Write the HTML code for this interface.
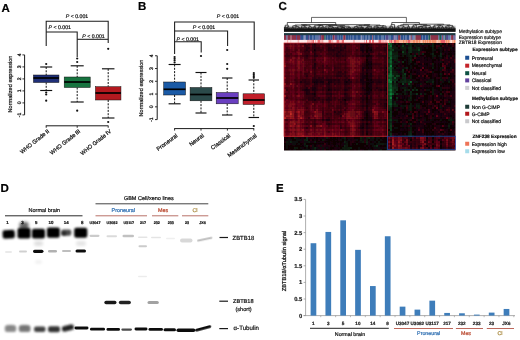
<!DOCTYPE html><html><head><meta charset="utf-8"><title>Figure</title><style>html,body{margin:0;padding:0;background:#fff}svg{display:block;filter:blur(0.3px)}</style></head><body>
<svg width="520" height="340" viewBox="0 0 520 340" font-family="Liberation Sans, Arial, sans-serif" text-rendering="geometricPrecision">
<defs>
<filter id="b1" x="-30%" y="-80%" width="160%" height="260%"><feGaussianBlur stdDeviation="0.9"/></filter>
<filter id="b2" x="-30%" y="-80%" width="160%" height="260%"><feGaussianBlur stdDeviation="0.6"/></filter>
<filter id="b3" x="-30%" y="-80%" width="160%" height="260%"><feGaussianBlur stdDeviation="1.4"/></filter>
<filter id="soft"><feGaussianBlur stdDeviation="0.6"/></filter><filter id="soft2" x="-2%" width="104%" y="-20%" height="140%"><feGaussianBlur stdDeviation="0.55 0.3"/></filter>
</defs>
<rect width="520" height="340" fill="#fff"/>
<text x="1.5" y="11.5" font-size="11.5" text-anchor="start" font-weight="bold" fill="#000" stroke="#000" stroke-width="0.2" >A</text>
<text x="138" y="10" font-size="11.5" text-anchor="start" font-weight="bold" fill="#000" stroke="#000" stroke-width="0.2" >B</text>
<text x="278.5" y="10" font-size="11.5" text-anchor="start" font-weight="bold" fill="#000" stroke="#000" stroke-width="0.2" >C</text>
<text x="0.5" y="192.3" font-size="11.5" text-anchor="start" font-weight="bold" fill="#000" stroke="#000" stroke-width="0.2" >D</text>
<text x="276" y="192.3" font-size="11.5" text-anchor="start" font-weight="bold" fill="#000" stroke="#000" stroke-width="0.2" >E</text>
<g id="panelA">
<text x="77" y="18.0" font-size="5.2" text-anchor="middle" font-weight="normal" fill="#111" stroke="#111" stroke-width="0.2" ><tspan font-style="italic">P</tspan> &lt; 0.001</text>
<text x="59.8" y="29.3" font-size="5.2" text-anchor="middle" font-weight="normal" fill="#111" stroke="#111" stroke-width="0.2" ><tspan font-style="italic">P</tspan> &lt; 0.001</text>
<text x="93.5" y="37.9" font-size="5.2" text-anchor="middle" font-weight="normal" fill="#111" stroke="#111" stroke-width="0.2" ><tspan font-style="italic">P</tspan> &lt; 0.001</text>
<path d="M46.2,46 V21.2 H108.2 V43" fill="none" stroke="#1a1a1a" stroke-width="1.05"/>
<path d="M46.2,32 H77.2 V57" fill="none" stroke="#1a1a1a" stroke-width="1.05"/>
<path d="M77.2,39.3 H108.2" fill="none" stroke="#1a1a1a" stroke-width="1.05"/>
<line x1="24.6" y1="54.9" x2="24.6" y2="114.9" stroke="#1a1a1a" stroke-width="1.0" />
<line x1="22.4" y1="54.9" x2="24.6" y2="54.9" stroke="#1a1a1a" stroke-width="0.9" />
<text transform="translate(20.8,54.9) rotate(-90)" font-size="5.1" text-anchor="middle" fill="#111" stroke="#111" stroke-width="0.25">4</text>
<line x1="22.4" y1="66.9" x2="24.6" y2="66.9" stroke="#1a1a1a" stroke-width="0.9" />
<text transform="translate(20.8,66.9) rotate(-90)" font-size="5.1" text-anchor="middle" fill="#111" stroke="#111" stroke-width="0.25">3</text>
<line x1="22.4" y1="78.9" x2="24.6" y2="78.9" stroke="#1a1a1a" stroke-width="0.9" />
<text transform="translate(20.8,78.9) rotate(-90)" font-size="5.1" text-anchor="middle" fill="#111" stroke="#111" stroke-width="0.25">2</text>
<line x1="22.4" y1="90.9" x2="24.6" y2="90.9" stroke="#1a1a1a" stroke-width="0.9" />
<text transform="translate(20.8,90.9) rotate(-90)" font-size="5.1" text-anchor="middle" fill="#111" stroke="#111" stroke-width="0.25">1</text>
<line x1="22.4" y1="102.9" x2="24.6" y2="102.9" stroke="#1a1a1a" stroke-width="0.9" />
<text transform="translate(20.8,102.9) rotate(-90)" font-size="5.1" text-anchor="middle" fill="#111" stroke="#111" stroke-width="0.25">0</text>
<line x1="22.4" y1="114.9" x2="24.6" y2="114.9" stroke="#1a1a1a" stroke-width="0.9" />
<text transform="translate(20.8,114.9) rotate(-90)" font-size="5.1" text-anchor="middle" fill="#111" stroke="#111" stroke-width="0.25">-1</text>
<text transform="translate(11.8,84) rotate(-90)" font-size="5.6" text-anchor="middle" fill="#111" stroke="#111" stroke-width="0.2">Normalized expression</text>
<line x1="46.2" y1="67" x2="46.2" y2="75" stroke="#111" stroke-width="1.0" stroke-dasharray="2,1.3"/>
<line x1="46.2" y1="82.5" x2="46.2" y2="90.5" stroke="#111" stroke-width="1.0" stroke-dasharray="2,1.3"/>
<line x1="40.2" y1="67" x2="52.2" y2="67" stroke="#111" stroke-width="1.15" />
<line x1="40.2" y1="90.5" x2="52.2" y2="90.5" stroke="#111" stroke-width="1.15" />
<rect x="33.45" y="75.00" width="25.50" height="7.50" fill="#1f2f78" stroke="#111" stroke-width="0.5"/>
<line x1="33.45" y1="78" x2="58.95" y2="78" stroke="#000" stroke-width="1.7" />
<circle cx="46.2" cy="64" r="1.1" fill="#111"/>
<circle cx="46.2" cy="92.5" r="1.1" fill="#111"/>
<circle cx="46.2" cy="94.5" r="1.1" fill="#111"/>
<circle cx="46.2" cy="100.7" r="1.1" fill="#111"/>
<line x1="77.2" y1="65.8" x2="77.2" y2="77" stroke="#111" stroke-width="1.0" stroke-dasharray="2,1.3"/>
<line x1="77.2" y1="87.5" x2="77.2" y2="102" stroke="#111" stroke-width="1.0" stroke-dasharray="2,1.3"/>
<line x1="70.7" y1="65.8" x2="83.7" y2="65.8" stroke="#111" stroke-width="1.15" />
<line x1="70.7" y1="102" x2="83.7" y2="102" stroke="#111" stroke-width="1.15" />
<rect x="64.20" y="77.00" width="26.00" height="10.50" fill="#17733f" stroke="#111" stroke-width="0.5"/>
<line x1="64.2" y1="82" x2="90.2" y2="82" stroke="#000" stroke-width="1.7" />
<circle cx="77.2" cy="62" r="1.1" fill="#111"/>
<circle cx="77.2" cy="58.5" r="1.1" fill="#111"/>
<circle cx="77.2" cy="110.7" r="1.1" fill="#111"/>
<line x1="108.2" y1="68.8" x2="108.2" y2="86.7" stroke="#111" stroke-width="1.0" stroke-dasharray="2,1.3"/>
<line x1="108.2" y1="100" x2="108.2" y2="118" stroke="#111" stroke-width="1.0" stroke-dasharray="2,1.3"/>
<line x1="101.95" y1="68.8" x2="114.45" y2="68.8" stroke="#111" stroke-width="1.15" />
<line x1="101.95" y1="118" x2="114.45" y2="118" stroke="#111" stroke-width="1.15" />
<rect x="95.45" y="86.70" width="25.50" height="13.30" fill="#b3191f" stroke="#111" stroke-width="0.5"/>
<line x1="95.45" y1="93" x2="120.95" y2="93" stroke="#000" stroke-width="1.7" />
<circle cx="108.2" cy="48.8" r="1.1" fill="#111"/>
<circle cx="108.2" cy="122" r="1.1" fill="#111"/>
<line x1="45.8" y1="125.8" x2="108.4" y2="125.8" stroke="#1a1a1a" stroke-width="1.0" />
<line x1="46.2" y1="125.8" x2="46.2" y2="127.8" stroke="#1a1a1a" stroke-width="0.9" />
<line x1="77.2" y1="125.8" x2="77.2" y2="127.8" stroke="#1a1a1a" stroke-width="0.9" />
<line x1="108.2" y1="125.8" x2="108.2" y2="127.8" stroke="#1a1a1a" stroke-width="0.9" />
<text transform="translate(49.7,132.0) rotate(-38.5)" font-size="5.6" text-anchor="end" fill="#111" stroke="#111" stroke-width="0.22">WHO Grade II</text>
<text transform="translate(80.7,132.0) rotate(-38.5)" font-size="5.6" text-anchor="end" fill="#111" stroke="#111" stroke-width="0.22">WHO Grade III</text>
<text transform="translate(111.7,132.0) rotate(-38.5)" font-size="5.6" text-anchor="end" fill="#111" stroke="#111" stroke-width="0.22">WHO Grade IV</text>
</g>
<g id="panelB">
<text x="228" y="18.0" font-size="5.2" text-anchor="middle" font-weight="normal" fill="#111" stroke="#111" stroke-width="0.2" ><tspan font-style="italic">P</tspan> &lt; 0.001</text>
<text x="204" y="29.3" font-size="5.2" text-anchor="middle" font-weight="normal" fill="#111" stroke="#111" stroke-width="0.2" ><tspan font-style="italic">P</tspan> &lt; 0.001</text>
<text x="187.8" y="41.0" font-size="5.2" text-anchor="middle" font-weight="normal" fill="#111" stroke="#111" stroke-width="0.2" ><tspan font-style="italic">P</tspan> &lt; 0.001</text>
<path d="M174.6,54 V22 H254.2 V50" fill="none" stroke="#1a1a1a" stroke-width="1.05"/>
<path d="M174.6,31 H227.6 V46" fill="none" stroke="#1a1a1a" stroke-width="1.05"/>
<path d="M174.6,41.8 H201.2 V52.5" fill="none" stroke="#1a1a1a" stroke-width="1.05"/>
<line x1="157.2" y1="55.7" x2="157.2" y2="119.6" stroke="#1a1a1a" stroke-width="1.0" />
<line x1="155" y1="55.75" x2="157.2" y2="55.75" stroke="#1a1a1a" stroke-width="0.9" />
<text transform="translate(153.3,55.75) rotate(-90)" font-size="5.1" text-anchor="middle" fill="#111" stroke="#111" stroke-width="0.25">4</text>
<line x1="155" y1="68.52" x2="157.2" y2="68.52" stroke="#1a1a1a" stroke-width="0.9" />
<text transform="translate(153.3,68.52) rotate(-90)" font-size="5.1" text-anchor="middle" fill="#111" stroke="#111" stroke-width="0.25">3</text>
<line x1="155" y1="81.28999999999999" x2="157.2" y2="81.28999999999999" stroke="#1a1a1a" stroke-width="0.9" />
<text transform="translate(153.3,81.29) rotate(-90)" font-size="5.1" text-anchor="middle" fill="#111" stroke="#111" stroke-width="0.25">2</text>
<line x1="155" y1="94.06" x2="157.2" y2="94.06" stroke="#1a1a1a" stroke-width="0.9" />
<text transform="translate(153.3,94.06) rotate(-90)" font-size="5.1" text-anchor="middle" fill="#111" stroke="#111" stroke-width="0.25">1</text>
<line x1="155" y1="106.83" x2="157.2" y2="106.83" stroke="#1a1a1a" stroke-width="0.9" />
<text transform="translate(153.3,106.83) rotate(-90)" font-size="5.1" text-anchor="middle" fill="#111" stroke="#111" stroke-width="0.25">0</text>
<line x1="155" y1="119.6" x2="157.2" y2="119.6" stroke="#1a1a1a" stroke-width="0.9" />
<text transform="translate(153.3,119.60) rotate(-90)" font-size="5.1" text-anchor="middle" fill="#111" stroke="#111" stroke-width="0.25">-1</text>
<text transform="translate(143.2,88) rotate(-90)" font-size="5.6" text-anchor="middle" fill="#111" stroke="#111" stroke-width="0.2">Normalized expression</text>
<line x1="174.6" y1="64.5" x2="174.6" y2="82" stroke="#111" stroke-width="1.0" stroke-dasharray="2,1.3"/>
<line x1="174.6" y1="95" x2="174.6" y2="103.8" stroke="#111" stroke-width="1.0" stroke-dasharray="2,1.3"/>
<line x1="168.6" y1="64.5" x2="180.6" y2="64.5" stroke="#111" stroke-width="1.15" />
<line x1="168.6" y1="103.8" x2="180.6" y2="103.8" stroke="#111" stroke-width="1.15" />
<rect x="163.70" y="82.00" width="21.80" height="13.00" fill="#1a5aa6" stroke="#111" stroke-width="0.5"/>
<line x1="163.7" y1="89.3" x2="185.5" y2="89.3" stroke="#000" stroke-width="1.7" />
<circle cx="174.6" cy="62.5" r="1.1" fill="#111"/>
<circle cx="174.6" cy="60.5" r="1.1" fill="#111"/>
<circle cx="174.6" cy="58.8" r="1.1" fill="#111"/>
<circle cx="174.6" cy="57" r="1.1" fill="#111"/>
<line x1="201" y1="72.5" x2="201" y2="87.5" stroke="#111" stroke-width="1.0" stroke-dasharray="2,1.3"/>
<line x1="201" y1="100.8" x2="201" y2="113" stroke="#111" stroke-width="1.0" stroke-dasharray="2,1.3"/>
<line x1="195.5" y1="72.5" x2="206.5" y2="72.5" stroke="#111" stroke-width="1.15" />
<line x1="195.5" y1="113" x2="206.5" y2="113" stroke="#111" stroke-width="1.15" />
<rect x="190.10" y="87.50" width="21.80" height="13.30" fill="#2b4a4a" stroke="#111" stroke-width="0.5"/>
<line x1="190.1" y1="94.5" x2="211.9" y2="94.5" stroke="#000" stroke-width="1.7" />
<circle cx="201" cy="56" r="1.1" fill="#111"/>
<line x1="227.2" y1="78" x2="227.2" y2="92.5" stroke="#111" stroke-width="1.0" stroke-dasharray="2,1.3"/>
<line x1="227.2" y1="103.8" x2="227.2" y2="115" stroke="#111" stroke-width="1.0" stroke-dasharray="2,1.3"/>
<line x1="221.95" y1="78" x2="232.45" y2="78" stroke="#111" stroke-width="1.15" />
<line x1="221.95" y1="115" x2="232.45" y2="115" stroke="#111" stroke-width="1.15" />
<rect x="216.20" y="92.50" width="22.00" height="11.30" fill="#6a3fc0" stroke="#111" stroke-width="0.5"/>
<line x1="216.2" y1="98" x2="238.2" y2="98" stroke="#000" stroke-width="1.7" />
<circle cx="227.2" cy="50" r="1.1" fill="#111"/>
<circle cx="227.2" cy="64" r="1.1" fill="#111"/>
<circle cx="227.2" cy="68.8" r="1.1" fill="#111"/>
<line x1="253.8" y1="80" x2="253.8" y2="93.8" stroke="#111" stroke-width="1.0" stroke-dasharray="2,1.3"/>
<line x1="253.8" y1="104.5" x2="253.8" y2="117.5" stroke="#111" stroke-width="1.0" stroke-dasharray="2,1.3"/>
<line x1="248.55" y1="80" x2="259.05" y2="80" stroke="#111" stroke-width="1.15" />
<line x1="248.55" y1="117.5" x2="259.05" y2="117.5" stroke="#111" stroke-width="1.15" />
<rect x="243.05" y="93.80" width="21.50" height="10.70" fill="#c21f2a" stroke="#111" stroke-width="0.5"/>
<line x1="243.05" y1="100" x2="264.55" y2="100" stroke="#000" stroke-width="1.7" />
<circle cx="253.8" cy="73" r="1.1" fill="#111"/>
<circle cx="253.8" cy="74.6" r="1.1" fill="#111"/>
<circle cx="253.8" cy="76.2" r="1.1" fill="#111"/>
<circle cx="253.8" cy="77.8" r="1.1" fill="#111"/>
<circle cx="253.8" cy="126" r="1.1" fill="#111"/>
<line x1="174.2" y1="128.6" x2="254.2" y2="128.6" stroke="#1a1a1a" stroke-width="1.0" />
<line x1="174.6" y1="128.6" x2="174.6" y2="130.6" stroke="#1a1a1a" stroke-width="0.9" />
<line x1="201" y1="128.6" x2="201" y2="130.6" stroke="#1a1a1a" stroke-width="0.9" />
<line x1="227.4" y1="128.6" x2="227.4" y2="130.6" stroke="#1a1a1a" stroke-width="0.9" />
<line x1="253.8" y1="128.6" x2="253.8" y2="130.6" stroke="#1a1a1a" stroke-width="0.9" />
<text transform="translate(178.0,136.4) rotate(-37)" font-size="5.7" text-anchor="end" fill="#111" stroke="#111" stroke-width="0.22">Proneural</text>
<text transform="translate(204.4,136.4) rotate(-37)" font-size="5.7" text-anchor="end" fill="#111" stroke="#111" stroke-width="0.22">Neural</text>
<text transform="translate(230.8,136.4) rotate(-37)" font-size="5.7" text-anchor="end" fill="#111" stroke="#111" stroke-width="0.22">Classical</text>
<text transform="translate(257.2,136.4) rotate(-37)" font-size="5.7" text-anchor="end" fill="#111" stroke="#111" stroke-width="0.22">Mesenchymal</text>
</g>
<g id="panelC">
<path d="M311.5,22.5 V17.4 H406.4 V22.5" fill="none" stroke="#2a2a2a" stroke-width="0.7"/>
<path d="M287.3,25.2V22.5H335.7V24.6M284.7,29.4V27.2H285.9V29.4M288.5,29.4V28.7H289.8V29.4M287.4,29.1V26.8H289.1V28.7M285.3,27.2V25.2H288.3V26.8M291.9,29.4V27.3H293.7V29.4M294.8,29.4V29.2H295.6V29.4M297.7,29.4V28.0H299.9V29.4M295.2,29.2V26.7H298.8V28.0M292.8,27.3V25.8H297.0V26.7M301.2,29.4V27.8H302.1V29.4M303.8,29.4V27.1H306.1V29.3M301.7,27.8V25.8H304.9V27.1M308.0,29.4V28.4H309.6V29.4M310.8,29.4V28.9H311.7V29.4M308.8,28.4V26.8H311.2V28.9M303.3,25.8V25.3H310.0V26.8M294.9,25.8V25.0H306.7V25.3M315.4,29.4V29.1H316.2V29.4M313.7,29.2V26.8H315.8V29.1M317.4,29.4V28.9H318.9V29.4M318.1,28.9V27.1H320.2V29.4M322.0,29.4V27.0H323.9V29.4M319.2,27.1V25.6H323.0V27.0M314.7,26.8V25.3H321.1V25.6M325.1,29.4V28.3H326.5V29.4M328.4,29.4V28.5H329.6V29.4M331.4,29.4V27.8H334.1V29.4M329.0,28.5V26.4H332.8V27.8M325.8,28.3V26.0H330.9V26.4M336.2,29.4V28.4H338.6V29.4M343.4,29.4V29.1H345.5V29.4M341.5,29.4V27.5H344.4V29.1M337.4,28.4V26.7H342.9V27.5M347.9,29.4V27.6H350.5V29.4M340.2,26.7V26.2H349.2V27.6M328.4,26.0V25.5H344.7V26.2M317.9,25.3V24.8H336.5V25.5M353.5,29.4V28.1H355.2V29.4M356.7,29.4V27.9H358.8V29.4M354.3,28.1V26.7H357.8V27.9M361.9,29.4V28.8H363.5V29.4M360.8,29.4V27.5H362.7V28.8M356.1,26.7V25.9H361.8V27.5M365.7,29.4V28.0H368.6V29.4M370.8,29.4V28.5H372.1V29.4M367.1,28.0V26.4H371.5V28.5M358.9,25.9V25.6H369.3V26.4M373.7,29.4V28.4H374.7V29.4M376.0,29.4V29.0H377.7V29.4M376.8,29.0V27.5H379.1V29.4M374.2,28.4V26.2H378.0V27.5M382.9,29.4V28.9H384.5V29.4M380.8,29.4V27.7H383.7V28.9M385.5,29.4V28.4H386.4V29.4M382.2,27.7V26.0H386.0V28.4M376.1,26.2V25.7H384.1V26.0M364.1,25.6V25.0H380.1V25.7M301.5,25V24.6H369.8V25M332,24.8V24.6M391.8,24.6V22.5H419.4V24.2M388.9,29.4V27.9H390.8V29.4M391.9,29.4V28.4H392.9V29.4M389.9,27.9V26.3H392.4V28.4M394.1,29.4V27.1H395.1V29.3M391.1,26.3V24.6H394.6V27.1M396.5,29.4V29.2H397.3V29.4M396.9,29.2V27.1H398.9V29.4M401.3,29.4V28.8H402.9V29.4M404.4,29.4V29.1H405.6V29.4M402.1,28.8V27.1H405.0V29.1M397.9,27.1V25.8H403.6V27.1M407.0,29.4V28.8H408.3V29.4M409.1,29.4V29.1H409.8V29.4M407.6,28.8V26.7H409.5V29.1M400.7,25.8V24.9H408.5V26.7M411.4,29.4V27.9H413.0V29.4M412.2,27.9V26.3H414.3V28.5M415.8,29.4V27.5H416.9V29.4M413.3,26.3V25.0H416.3V27.5M417.8,29.4V28.6H419.2V29.4M421.5,29.4V28.0H423.6V29.4M418.5,28.6V26.5H422.6V28.0M425.2,29.4V27.4H427.0V29.4M420.5,26.5V26.1H426.1V27.4M429.3,29.4V27.3H431.4V29.4M423.3,26.1V25.5H430.3V27.3M414.8,25.0V24.7H426.8V25.5M432.8,29.4V28.6H433.5V29.4M434.5,29.4V28.7H435.8V29.4M433.2,28.6V26.3H435.2V28.7M437.7,29.4V27.2H439.7V29.4M441.6,29.4V27.3H443.4V29.4M438.7,27.2V25.9H442.5V27.3M434.2,26.3V25.2H440.6V25.9M444.9,29.4V27.5H446.7V29.4M448.5,29.4V28.3H449.7V29.4M445.8,27.5V26.0H449.1V28.3M451.4,29.4V26.9H453.9V29.4M447.5,26.0V25.4H452.6V26.9M437.4,25.2V24.9H450.1V25.4M403,24.9V24.2H443.7V24.9M421.2,24.7V24.2" fill="none" stroke="#1a1a1a" stroke-width="0.7"/>
<path d="M284.4,27.0V31.6M285.1,27.0V31.6M285.8,27.5V31.6M286.5,26.9V31.6M287.2,27.2V31.6M287.9,26.9V31.6M288.6,27.9V31.6M289.3,28.1V31.6M290.0,28.2V31.6M290.7,27.0V31.6M291.4,27.9V31.6M292.1,27.9V31.6M292.8,27.0V31.6M293.5,28.2V31.6M294.2,28.3V31.6M294.9,27.2V31.6M295.6,28.3V31.6M296.3,27.4V31.6M297.0,27.6V31.6M297.7,28.4V31.6M298.4,28.1V31.6M299.1,27.1V31.6M299.8,27.5V31.6M300.5,27.6V31.6M301.2,27.3V31.6M301.9,27.1V31.6M302.6,27.3V31.6M303.3,28.0V31.6M304.0,26.8V31.6M304.7,27.7V31.6M305.4,27.5V31.6M306.1,26.8V31.6M306.8,27.3V31.6M307.5,27.8V31.6M308.2,27.6V31.6M308.9,26.9V31.6M309.6,28.4V31.6M310.3,28.1V31.6M311.0,28.4V31.6M311.7,27.0V31.6M312.4,27.2V31.6M313.1,26.9V31.6M313.8,28.0V31.6M314.5,27.2V31.6M315.2,27.0V31.6M315.9,27.5V31.6M316.6,28.3V31.6M317.3,28.1V31.6M318.0,27.2V31.6M318.7,27.0V31.6M319.4,28.3V31.6M320.1,27.7V31.6M320.8,27.9V31.6M321.5,26.9V31.6M322.2,26.9V31.6M322.9,27.9V31.6M323.6,27.5V31.6M324.3,26.9V31.6M325.0,28.3V31.6M325.7,27.8V31.6M326.4,28.1V31.6M327.1,26.9V31.6M327.8,28.2V31.6M328.5,26.9V31.6M329.2,28.2V31.6M329.9,27.5V31.6M330.6,27.3V31.6M331.3,27.7V31.6M332.0,28.3V31.6M332.7,27.2V31.6M333.4,27.0V31.6M334.1,27.6V31.6M334.8,27.2V31.6M335.5,27.0V31.6M336.2,27.1V31.6M336.9,26.9V31.6M337.6,27.1V31.6M338.3,27.3V31.6M339.0,27.3V31.6M339.7,28.0V31.6M340.4,27.3V31.6M341.1,27.6V31.6M341.8,27.1V31.6M342.5,27.4V31.6M343.2,26.8V31.6M343.9,27.2V31.6M344.6,26.8V31.6M345.3,28.0V31.6M346.0,27.7V31.6M346.7,27.1V31.6M347.4,27.6V31.6M348.1,28.3V31.6M348.8,27.0V31.6M349.5,28.1V31.6M350.2,27.5V31.6M350.9,27.6V31.6M351.6,28.1V31.6M352.3,27.4V31.6M353.0,27.6V31.6M353.7,27.9V31.6M354.4,28.4V31.6M355.1,27.3V31.6M355.8,28.1V31.6M356.5,27.9V31.6M357.2,27.8V31.6M357.9,27.4V31.6M358.6,27.4V31.6M359.3,26.9V31.6M360.0,27.0V31.6M360.7,26.9V31.6M361.4,28.0V31.6M362.1,27.2V31.6M362.8,27.1V31.6M363.5,26.9V31.6M364.2,28.1V31.6M364.9,28.2V31.6M365.6,27.9V31.6M366.3,27.3V31.6M367.0,27.2V31.6M367.7,27.3V31.6M368.4,27.5V31.6M369.1,27.1V31.6M369.8,27.5V31.6M370.5,27.2V31.6M371.2,28.3V31.6M371.9,28.4V31.6M372.6,27.7V31.6M373.3,27.2V31.6M374.0,28.3V31.6M374.7,27.3V31.6M375.4,27.4V31.6M376.1,26.8V31.6M376.8,27.4V31.6M377.5,27.6V31.6M378.2,27.6V31.6M378.9,27.1V31.6M379.6,27.6V31.6M380.3,26.8V31.6M381.0,27.2V31.6M381.7,26.9V31.6M382.4,27.4V31.6M383.1,26.9V31.6M383.8,26.8V31.6M384.5,27.3V31.6M385.2,27.2V31.6M385.9,27.7V31.6M386.6,27.6V31.6M387.3,28.0V31.6M388.0,27.9V31.6M388.7,27.9V31.6M389.4,28.2V31.6M390.1,27.4V31.6M390.8,27.3V31.6M391.5,28.4V31.6M392.2,27.0V31.6M392.9,28.0V31.6M393.6,27.8V31.6M394.3,26.9V31.6M395.0,28.1V31.6M395.7,28.2V31.6M396.4,27.8V31.6M397.1,28.0V31.6M397.8,28.1V31.6M398.5,27.0V31.6M399.2,27.6V31.6M399.9,27.6V31.6M400.6,28.1V31.6M401.3,28.1V31.6M402.0,28.1V31.6M402.7,27.7V31.6M403.4,28.2V31.6M404.1,27.9V31.6M404.8,27.9V31.6M405.5,27.2V31.6M406.2,26.8V31.6M406.9,27.0V31.6M407.6,27.4V31.6M408.3,27.0V31.6M409.0,28.1V31.6M409.7,27.7V31.6M410.4,27.8V31.6M411.1,27.8V31.6M411.8,27.9V31.6M412.5,27.6V31.6M413.2,26.8V31.6M413.9,28.1V31.6M414.6,28.0V31.6M415.3,27.6V31.6M416.0,27.7V31.6M416.7,27.9V31.6M417.4,26.9V31.6M418.1,28.0V31.6M418.8,27.2V31.6M419.5,26.9V31.6M420.2,27.2V31.6M420.9,28.0V31.6M421.6,27.1V31.6M422.3,28.0V31.6M423.0,28.4V31.6M423.7,27.6V31.6M424.4,27.4V31.6M425.1,27.6V31.6M425.8,27.9V31.6M426.5,28.0V31.6M427.2,27.8V31.6M427.9,27.8V31.6M428.6,26.9V31.6M429.3,27.0V31.6M430.0,27.2V31.6M430.7,28.0V31.6M431.4,27.3V31.6M432.1,27.7V31.6M432.8,26.8V31.6M433.5,26.9V31.6M434.2,27.2V31.6M434.9,27.9V31.6M435.6,27.9V31.6M436.3,27.9V31.6M437.0,27.3V31.6M437.7,27.6V31.6M438.4,27.5V31.6M439.1,27.5V31.6M439.8,27.0V31.6M440.5,28.2V31.6M441.2,27.1V31.6M441.9,28.4V31.6M442.6,28.3V31.6M443.3,26.8V31.6M444.0,27.5V31.6M444.7,28.1V31.6M445.4,28.3V31.6M446.1,27.5V31.6M446.8,27.2V31.6M447.5,27.1V31.6M448.2,28.3V31.6M448.9,27.1V31.6M449.6,27.7V31.6M450.3,27.0V31.6M451.0,27.6V31.6M451.7,28.3V31.6M452.4,27.0V31.6M453.1,28.1V31.6M453.8,27.6V31.6M454.5,28.2V31.6M455.2,27.9V31.6" fill="none" stroke="#111" stroke-width="0.5"/>
<rect x="284.00" y="28.50" width="171.50" height="3.30" fill="#111" />
<rect x="284.00" y="26.60" width="171.50" height="2.00" fill="#222" opacity="0.4"/>
<rect x="284.00" y="25.40" width="171.50" height="1.30" fill="#222" opacity="0.15"/>
<g filter="url(#soft2)">
<rect x="284.00" y="35.00" width="1.00" height="5.00" fill="#8c3048" />
<rect x="285.00" y="35.00" width="1.50" height="5.00" fill="#8c3048" />
<rect x="286.50" y="35.00" width="1.00" height="5.00" fill="#2f528f" />
<rect x="287.50" y="35.00" width="1.50" height="5.00" fill="#8c3048" />
<rect x="289.00" y="35.00" width="1.50" height="5.00" fill="#8c3048" />
<rect x="290.50" y="35.00" width="1.00" height="5.00" fill="#8c3048" />
<rect x="291.50" y="35.00" width="1.50" height="5.00" fill="#8c3048" />
<rect x="293.00" y="35.00" width="3.00" height="5.00" fill="#8c3048" />
<rect x="296.00" y="35.00" width="1.00" height="5.00" fill="#55498c" />
<rect x="297.00" y="35.00" width="3.00" height="5.00" fill="#8c3048" />
<rect x="300.00" y="35.00" width="1.00" height="5.00" fill="#55498c" />
<rect x="301.00" y="35.00" width="2.50" height="5.00" fill="#2f528f" />
<rect x="303.50" y="35.00" width="1.00" height="5.00" fill="#2f528f" />
<rect x="304.50" y="35.00" width="1.50" height="5.00" fill="#7a80b0" />
<rect x="306.00" y="35.00" width="2.00" height="5.00" fill="#2f528f" />
<rect x="308.00" y="35.00" width="1.50" height="5.00" fill="#55498c" />
<rect x="309.50" y="35.00" width="3.00" height="5.00" fill="#2f528f" />
<rect x="312.50" y="35.00" width="0.70" height="5.00" fill="#2f528f" />
<rect x="313.20" y="35.00" width="2.50" height="5.00" fill="#2f528f" />
<rect x="315.70" y="35.00" width="1.00" height="5.00" fill="#2f528f" />
<rect x="316.70" y="35.00" width="1.00" height="5.00" fill="#2f528f" />
<rect x="317.70" y="35.00" width="1.00" height="5.00" fill="#2f528f" />
<rect x="318.70" y="35.00" width="1.00" height="5.00" fill="#55498c" />
<rect x="319.70" y="35.00" width="1.50" height="5.00" fill="#55498c" />
<rect x="321.20" y="35.00" width="3.00" height="5.00" fill="#8c3048" />
<rect x="324.20" y="35.00" width="1.50" height="5.00" fill="#1f5a50" />
<rect x="325.70" y="35.00" width="2.00" height="5.00" fill="#2f528f" />
<rect x="327.70" y="35.00" width="2.50" height="5.00" fill="#2f528f" />
<rect x="330.20" y="35.00" width="2.50" height="5.00" fill="#2f528f" />
<rect x="332.70" y="35.00" width="2.00" height="5.00" fill="#8c3048" />
<rect x="334.70" y="35.00" width="2.50" height="5.00" fill="#55498c" />
<rect x="337.20" y="35.00" width="1.50" height="5.00" fill="#2f528f" />
<rect x="338.70" y="35.00" width="2.00" height="5.00" fill="#2f528f" />
<rect x="340.70" y="35.00" width="1.50" height="5.00" fill="#2f528f" />
<rect x="342.20" y="35.00" width="1.00" height="5.00" fill="#2f528f" />
<rect x="343.20" y="35.00" width="2.50" height="5.00" fill="#8c3048" />
<rect x="345.70" y="35.00" width="2.50" height="5.00" fill="#2f528f" />
<rect x="348.20" y="35.00" width="2.50" height="5.00" fill="#2f528f" />
<rect x="350.70" y="35.00" width="1.50" height="5.00" fill="#2f528f" />
<rect x="352.20" y="35.00" width="1.50" height="5.00" fill="#2f528f" />
<rect x="353.70" y="35.00" width="2.50" height="5.00" fill="#2f528f" />
<rect x="356.20" y="35.00" width="1.00" height="5.00" fill="#2f528f" />
<rect x="357.20" y="35.00" width="3.00" height="5.00" fill="#2f528f" />
<rect x="360.20" y="35.00" width="1.00" height="5.00" fill="#2f528f" />
<rect x="361.20" y="35.00" width="1.00" height="5.00" fill="#7a80b0" />
<rect x="362.20" y="35.00" width="1.50" height="5.00" fill="#2f528f" />
<rect x="363.70" y="35.00" width="2.00" height="5.00" fill="#2f528f" />
<rect x="365.70" y="35.00" width="0.70" height="5.00" fill="#2f528f" />
<rect x="366.40" y="35.00" width="2.00" height="5.00" fill="#2f528f" />
<rect x="368.40" y="35.00" width="1.00" height="5.00" fill="#2f528f" />
<rect x="369.40" y="35.00" width="3.00" height="5.00" fill="#2f528f" />
<rect x="372.40" y="35.00" width="0.70" height="5.00" fill="#8c3048" />
<rect x="373.10" y="35.00" width="1.50" height="5.00" fill="#2f528f" />
<rect x="374.60" y="35.00" width="2.50" height="5.00" fill="#2f528f" />
<rect x="377.10" y="35.00" width="1.50" height="5.00" fill="#2f528f" />
<rect x="378.60" y="35.00" width="3.00" height="5.00" fill="#2f528f" />
<rect x="381.60" y="35.00" width="1.00" height="5.00" fill="#2f528f" />
<rect x="382.60" y="35.00" width="1.00" height="5.00" fill="#2f528f" />
<rect x="383.60" y="35.00" width="2.00" height="5.00" fill="#2f528f" />
<rect x="385.60" y="35.00" width="3.00" height="5.00" fill="#55498c" />
<rect x="388.60" y="35.00" width="1.00" height="5.00" fill="#2f528f" />
<rect x="389.60" y="35.00" width="1.00" height="5.00" fill="#2f528f" />
<rect x="390.60" y="35.00" width="2.50" height="5.00" fill="#2f528f" />
<rect x="393.10" y="35.00" width="1.00" height="5.00" fill="#55498c" />
<rect x="394.10" y="35.00" width="3.00" height="5.00" fill="#7a80b0" />
<rect x="397.10" y="35.00" width="1.00" height="5.00" fill="#2f528f" />
<rect x="398.10" y="35.00" width="2.50" height="5.00" fill="#8c3048" />
<rect x="400.60" y="35.00" width="3.00" height="5.00" fill="#2f528f" />
<rect x="403.60" y="35.00" width="2.00" height="5.00" fill="#2f528f" />
<rect x="405.60" y="35.00" width="0.70" height="5.00" fill="#2f528f" />
<rect x="406.30" y="35.00" width="3.00" height="5.00" fill="#2f528f" />
<rect x="409.30" y="35.00" width="1.50" height="5.00" fill="#7a80b0" />
<rect x="410.80" y="35.00" width="1.00" height="5.00" fill="#8c3048" />
<rect x="411.80" y="35.00" width="1.00" height="5.00" fill="#2f528f" />
<rect x="412.80" y="35.00" width="2.00" height="5.00" fill="#7a80b0" />
<rect x="414.80" y="35.00" width="0.70" height="5.00" fill="#1f5a50" />
<rect x="415.50" y="35.00" width="2.50" height="5.00" fill="#8c3048" />
<rect x="418.00" y="35.00" width="3.00" height="5.00" fill="#8c3048" />
<rect x="421.00" y="35.00" width="1.50" height="5.00" fill="#2f528f" />
<rect x="422.50" y="35.00" width="3.00" height="5.00" fill="#2f528f" />
<rect x="425.50" y="35.00" width="3.00" height="5.00" fill="#2f528f" />
<rect x="428.50" y="35.00" width="2.00" height="5.00" fill="#1f5a50" />
<rect x="430.50" y="35.00" width="2.50" height="5.00" fill="#8c3048" />
<rect x="433.00" y="35.00" width="1.00" height="5.00" fill="#8c3048" />
<rect x="434.00" y="35.00" width="2.00" height="5.00" fill="#8c3048" />
<rect x="436.00" y="35.00" width="2.50" height="5.00" fill="#8c3048" />
<rect x="438.50" y="35.00" width="0.70" height="5.00" fill="#2f528f" />
<rect x="439.20" y="35.00" width="2.00" height="5.00" fill="#1f5a50" />
<rect x="441.20" y="35.00" width="1.00" height="5.00" fill="#2f528f" />
<rect x="442.20" y="35.00" width="1.00" height="5.00" fill="#8c3048" />
<rect x="443.20" y="35.00" width="0.70" height="5.00" fill="#2f528f" />
<rect x="443.90" y="35.00" width="1.00" height="5.00" fill="#7a80b0" />
<rect x="444.90" y="35.00" width="1.00" height="5.00" fill="#1f5a50" />
<rect x="445.90" y="35.00" width="2.50" height="5.00" fill="#55498c" />
<rect x="448.40" y="35.00" width="1.00" height="5.00" fill="#2f528f" />
<rect x="449.40" y="35.00" width="1.00" height="5.00" fill="#2f528f" />
<rect x="450.40" y="35.00" width="0.70" height="5.00" fill="#7a80b0" />
<rect x="451.10" y="35.00" width="2.50" height="5.00" fill="#8c3048" />
<rect x="453.60" y="35.00" width="0.70" height="5.00" fill="#2f528f" />
<rect x="454.30" y="35.00" width="1.20" height="5.00" fill="#55498c" />
<rect x="284.00" y="39.90" width="3.00" height="3.10" fill="#fdeaea" />
<rect x="287.00" y="39.90" width="1.50" height="3.10" fill="#f8b8b8" />
<rect x="288.50" y="39.90" width="2.00" height="3.10" fill="#fdeaea" />
<rect x="290.50" y="39.90" width="1.00" height="3.10" fill="#f8b8b8" />
<rect x="291.50" y="39.90" width="3.00" height="3.10" fill="#fdeaea" />
<rect x="294.50" y="39.90" width="3.00" height="3.10" fill="#fdeaea" />
<rect x="297.50" y="39.90" width="2.00" height="3.10" fill="#f8b8b8" />
<rect x="299.50" y="39.90" width="1.00" height="3.10" fill="#fdeaea" />
<rect x="300.50" y="39.90" width="1.50" height="3.10" fill="#fdeaea" />
<rect x="302.00" y="39.90" width="1.50" height="3.10" fill="#fdeaea" />
<rect x="303.50" y="39.90" width="1.50" height="3.10" fill="#fdeaea" />
<rect x="305.00" y="39.90" width="2.00" height="3.10" fill="#fdeaea" />
<rect x="307.00" y="39.90" width="3.00" height="3.10" fill="#f8b8b8" />
<rect x="310.00" y="39.90" width="1.50" height="3.10" fill="#f8b8b8" />
<rect x="311.50" y="39.90" width="1.00" height="3.10" fill="#ec7074" />
<rect x="312.50" y="39.90" width="1.50" height="3.10" fill="#ec7074" />
<rect x="314.00" y="39.90" width="1.00" height="3.10" fill="#fdeaea" />
<rect x="315.00" y="39.90" width="1.50" height="3.10" fill="#f8b8b8" />
<rect x="316.50" y="39.90" width="1.00" height="3.10" fill="#fdeaea" />
<rect x="317.50" y="39.90" width="3.00" height="3.10" fill="#ec7074" />
<rect x="320.50" y="39.90" width="2.00" height="3.10" fill="#f8b8b8" />
<rect x="322.50" y="39.90" width="1.00" height="3.10" fill="#ec7074" />
<rect x="323.50" y="39.90" width="2.00" height="3.10" fill="#fdeaea" />
<rect x="325.50" y="39.90" width="3.00" height="3.10" fill="#fdeaea" />
<rect x="328.50" y="39.90" width="3.00" height="3.10" fill="#ec7074" />
<rect x="331.50" y="39.90" width="2.00" height="3.10" fill="#f8b8b8" />
<rect x="333.50" y="39.90" width="1.00" height="3.10" fill="#fdeaea" />
<rect x="334.50" y="39.90" width="2.00" height="3.10" fill="#fdeaea" />
<rect x="336.50" y="39.90" width="3.00" height="3.10" fill="#ec7074" />
<rect x="339.50" y="39.90" width="1.00" height="3.10" fill="#f8b8b8" />
<rect x="340.50" y="39.90" width="1.50" height="3.10" fill="#f8b8b8" />
<rect x="342.00" y="39.90" width="2.00" height="3.10" fill="#ec7074" />
<rect x="344.00" y="39.90" width="3.00" height="3.10" fill="#fdeaea" />
<rect x="347.00" y="39.90" width="3.00" height="3.10" fill="#fdeaea" />
<rect x="350.00" y="39.90" width="3.00" height="3.10" fill="#fdeaea" />
<rect x="353.00" y="39.90" width="2.00" height="3.10" fill="#f8b8b8" />
<rect x="355.00" y="39.90" width="3.00" height="3.10" fill="#fdeaea" />
<rect x="358.00" y="39.90" width="3.00" height="3.10" fill="#fdeaea" />
<rect x="361.00" y="39.90" width="3.00" height="3.10" fill="#fdeaea" />
<rect x="364.00" y="39.90" width="1.00" height="3.10" fill="#f8b8b8" />
<rect x="365.00" y="39.90" width="1.00" height="3.10" fill="#fdeaea" />
<rect x="366.00" y="39.90" width="1.00" height="3.10" fill="#ec7074" />
<rect x="367.00" y="39.90" width="2.00" height="3.10" fill="#fdeaea" />
<rect x="369.00" y="39.90" width="2.00" height="3.10" fill="#ec7074" />
<rect x="371.00" y="39.90" width="1.00" height="3.10" fill="#fdeaea" />
<rect x="372.00" y="39.90" width="2.00" height="3.10" fill="#ec7074" />
<rect x="374.00" y="39.90" width="2.00" height="3.10" fill="#fdeaea" />
<rect x="376.00" y="39.90" width="1.00" height="3.10" fill="#fdeaea" />
<rect x="377.00" y="39.90" width="1.50" height="3.10" fill="#fdeaea" />
<rect x="378.50" y="39.90" width="3.00" height="3.10" fill="#ec7074" />
<rect x="381.50" y="39.90" width="3.00" height="3.10" fill="#f8b8b8" />
<rect x="384.50" y="39.90" width="3.00" height="3.10" fill="#f8b8b8" />
<rect x="387.50" y="39.90" width="1.50" height="3.10" fill="#fde0d8" />
<rect x="389.00" y="39.90" width="1.50" height="3.10" fill="#f4906a" />
<rect x="390.50" y="39.90" width="2.00" height="3.10" fill="#e8606a" />
<rect x="392.50" y="39.90" width="1.50" height="3.10" fill="#f9b498" />
<rect x="394.00" y="39.90" width="2.00" height="3.10" fill="#e8606a" />
<rect x="396.00" y="39.90" width="3.00" height="3.10" fill="#f4906a" />
<rect x="399.00" y="39.90" width="1.00" height="3.10" fill="#f9b498" />
<rect x="400.00" y="39.90" width="3.00" height="3.10" fill="#f9b498" />
<rect x="403.00" y="39.90" width="1.50" height="3.10" fill="#f4906a" />
<rect x="404.50" y="39.90" width="1.00" height="3.10" fill="#f4906a" />
<rect x="405.50" y="39.90" width="2.00" height="3.10" fill="#f4906a" />
<rect x="407.50" y="39.90" width="3.00" height="3.10" fill="#e8606a" />
<rect x="410.50" y="39.90" width="1.00" height="3.10" fill="#f4906a" />
<rect x="411.50" y="39.90" width="1.00" height="3.10" fill="#f4906a" />
<rect x="412.50" y="39.90" width="3.00" height="3.10" fill="#f4906a" />
<rect x="415.50" y="39.90" width="3.00" height="3.10" fill="#f4906a" />
<rect x="418.50" y="39.90" width="1.50" height="3.10" fill="#f4906a" />
<rect x="420.00" y="39.90" width="1.50" height="3.10" fill="#f9b498" />
<rect x="421.50" y="39.90" width="1.00" height="3.10" fill="#f9b498" />
<rect x="422.50" y="39.90" width="2.00" height="3.10" fill="#f4906a" />
<rect x="424.50" y="39.90" width="2.00" height="3.10" fill="#f4906a" />
<rect x="426.50" y="39.90" width="2.00" height="3.10" fill="#f4906a" />
<rect x="428.50" y="39.90" width="1.50" height="3.10" fill="#f4906a" />
<rect x="430.00" y="39.90" width="1.50" height="3.10" fill="#f4906a" />
<rect x="431.50" y="39.90" width="1.50" height="3.10" fill="#f4906a" />
<rect x="433.00" y="39.90" width="3.00" height="3.10" fill="#f4906a" />
<rect x="436.00" y="39.90" width="1.50" height="3.10" fill="#f9b498" />
<rect x="437.50" y="39.90" width="1.50" height="3.10" fill="#f9b498" />
<rect x="439.00" y="39.90" width="1.00" height="3.10" fill="#f9b498" />
<rect x="440.00" y="39.90" width="1.00" height="3.10" fill="#f4906a" />
<rect x="441.00" y="39.90" width="3.00" height="3.10" fill="#e8606a" />
<rect x="444.00" y="39.90" width="1.50" height="3.10" fill="#e8606a" />
<rect x="445.50" y="39.90" width="2.00" height="3.10" fill="#f4906a" />
<rect x="447.50" y="39.90" width="2.00" height="3.10" fill="#f4906a" />
<rect x="449.50" y="39.90" width="1.00" height="3.10" fill="#f4906a" />
<rect x="450.50" y="39.90" width="1.50" height="3.10" fill="#fde0d8" />
<rect x="452.00" y="39.90" width="2.00" height="3.10" fill="#f9b498" />
<rect x="454.00" y="39.90" width="1.50" height="3.10" fill="#f4906a" />
<rect x="284.00" y="33.10" width="171.50" height="2.10" fill="#1f3840" />
</g>
<clipPath id="hc"><rect x="284.0" y="43.0" width="171.5" height="107.5"/></clipPath>
<g clip-path="url(#hc)"><g filter="url(#soft)">
<rect x="282.00" y="41.00" width="175.50" height="111.50" fill="#200808" />
<path fill="#0c9645" d="M390,65h2v2h-2zM390,97h2v2h-2z"/>
<path fill="#0c8c41" d="M388,79h2v2h-2zM390,81h2v2h-2zM390,89h2v2h-2zM390,93h2v2h-2z"/>
<path fill="#0c813c" d="M388,43h2v2h-2zM388,75h4v2h-4z"/>
<path fill="#0c7637" d="M390,45h2v2h-2zM390,57h2v2h-2zM390,71h2v2h-2zM390,73h2v2h-2zM388,81h2v2h-2zM390,85h2v2h-2zM390,91h2v2h-2z"/>
<path fill="#0c6b33" d="M390,51h2v2h-2zM390,53h2v2h-2zM390,61h2v2h-2zM390,69h2v2h-2zM390,79h2v2h-2zM390,87h2v2h-2zM388,89h2v2h-2z"/>
<path fill="#0c602e" d="M390,43h2v2h-2zM390,55h2v2h-2zM390,59h2v2h-2zM390,67h2v2h-2zM390,77h2v2h-2zM410,81h2v2h-2zM388,83h4v2h-4zM388,85h2v2h-2zM388,87h2v2h-2zM388,93h2v2h-2zM392,93h2v2h-2zM390,95h2v2h-2zM390,103h2v2h-2z"/>
<path fill="#0c552a" d="M388,55h2v2h-2zM390,63h2v2h-2zM388,67h2v2h-2zM388,73h2v2h-2zM392,75h2v2h-2zM388,77h2v2h-2zM394,77h2v2h-2zM388,91h2v2h-2zM388,97h2v2h-2zM390,99h2v2h-2zM388,103h2v2h-2z"/>
<path fill="#0c4b25" d="M388,45h2v2h-2zM388,47h4v2h-4zM390,49h4v2h-4zM418,49h2v2h-2zM388,51h2v2h-2zM402,51h2v2h-2zM388,53h2v2h-2zM388,59h2v2h-2zM388,61h2v2h-2zM388,69h2v2h-2zM396,75h2v2h-2zM402,83h2v2h-2zM408,83h2v2h-2zM388,95h2v2h-2zM388,99h2v2h-2zM388,101h4v2h-4zM390,105h2v2h-2z"/>
<path fill="#0c4020" d="M406,43h2v2h-2zM402,45h2v2h-2zM414,55h2v2h-2zM388,65h2v2h-2zM404,73h2v2h-2zM398,75h2v2h-2zM392,87h2v2h-2zM392,89h2v2h-2zM412,89h2v2h-2zM392,91h2v2h-2zM390,119h2v2h-2zM390,125h2v2h-2zM390,127h2v2h-2zM390,129h2v2h-2z"/>
<path fill="#0c351c" d="M410,47h2v2h-2zM388,49h2v2h-2zM410,49h2v2h-2zM410,51h2v2h-2zM388,57h2v2h-2zM402,61h2v2h-2zM388,63h2v2h-2zM402,69h2v2h-2zM388,71h2v2h-2zM392,79h2v2h-2zM394,81h2v2h-2zM394,87h2v2h-2zM396,89h2v2h-2zM416,89h2v2h-2zM410,91h2v2h-2zM396,93h2v2h-2zM416,93h2v2h-2zM396,97h2v2h-2zM388,105h2v2h-2zM388,107h4v2h-4zM390,111h2v2h-2zM390,113h2v2h-2zM390,115h2v2h-2zM390,123h2v2h-2zM390,133h2v2h-2zM390,135h2v2h-2zM410,135h2v2h-2zM376,145h2v2h-2z"/>
<path fill="#0c2a17" d="M410,43h2v2h-2zM422,43h2v2h-2zM432,43h2v2h-2zM410,45h2v2h-2zM432,45h2v2h-2zM408,47h2v2h-2zM418,47h2v2h-2zM408,49h2v2h-2zM408,51h2v2h-2zM392,53h2v2h-2zM422,53h2v2h-2zM432,53h2v2h-2zM440,53h2v2h-2zM392,55h6v2h-6zM410,55h2v2h-2zM440,55h2v2h-2zM392,57h4v2h-4zM410,59h2v2h-2zM398,61h2v2h-2zM392,67h2v2h-2zM406,67h2v2h-2zM402,71h2v2h-2zM392,73h2v2h-2zM402,75h4v2h-4zM392,77h2v2h-2zM402,77h4v2h-4zM394,79h4v2h-4zM404,79h2v2h-2zM402,81h4v2h-4zM408,81h2v2h-2zM432,81h2v2h-2zM394,83h2v2h-2zM392,85h4v2h-4zM396,87h2v2h-2zM404,89h2v2h-2zM408,89h2v2h-2zM394,91h2v2h-2zM410,93h2v2h-2zM420,93h2v2h-2zM410,97h2v2h-2zM394,103h2v2h-2zM388,109h4v2h-4zM390,117h2v2h-2zM388,119h2v2h-2zM390,121h2v2h-2zM410,123h2v2h-2zM388,127h2v2h-2zM388,131h2v2h-2zM410,131h2v2h-2zM410,133h2v2h-2zM408,135h2v2h-2zM306,137h2v2h-2zM368,137h2v2h-2zM306,139h2v2h-2zM290,141h2v2h-2zM344,141h2v2h-2zM366,141h2v2h-2zM306,145h2v2h-2zM344,145h2v2h-2zM314,147h2v2h-2zM350,147h2v2h-2z"/>
<path fill="#0c1f13" d="M392,43h2v2h-2zM402,43h2v2h-2zM408,43h2v2h-2zM418,43h2v2h-2zM440,43h2v2h-2zM408,45h2v2h-2zM414,45h2v2h-2zM392,47h2v2h-2zM402,47h4v2h-4zM416,47h2v2h-2zM432,47h2v2h-2zM402,49h4v2h-4zM412,49h6v2h-6zM432,49h2v2h-2zM392,51h2v2h-2zM396,51h2v2h-2zM404,51h2v2h-2zM418,51h2v2h-2zM394,53h4v2h-4zM402,53h4v2h-4zM408,53h2v2h-2zM418,53h2v2h-2zM402,55h2v2h-2zM408,55h2v2h-2zM432,55h4v2h-4zM396,57h2v2h-2zM410,57h2v2h-2zM394,59h4v2h-4zM392,61h2v2h-2zM410,61h2v2h-2zM392,63h2v2h-2zM432,63h2v2h-2zM432,67h2v2h-2zM392,69h2v2h-2zM392,71h4v2h-4zM394,73h4v2h-4zM402,73h2v2h-2zM440,73h2v2h-2zM394,75h2v2h-2zM410,75h2v2h-2zM396,77h2v2h-2zM410,77h2v2h-2zM400,79h4v2h-4zM406,79h4v2h-4zM432,79h2v2h-2zM440,79h2v2h-2zM398,81h4v2h-4zM406,81h2v2h-2zM426,81h2v2h-2zM448,81h2v2h-2zM392,83h2v2h-2zM396,83h2v2h-2zM410,83h2v2h-2zM420,83h2v2h-2zM396,85h2v2h-2zM410,85h2v2h-2zM402,87h4v2h-4zM414,87h2v2h-2zM394,89h2v2h-2zM406,89h2v2h-2zM432,89h2v2h-2zM404,91h2v2h-2zM432,91h2v2h-2zM404,93h2v2h-2zM424,93h2v2h-2zM432,93h2v2h-2zM440,93h2v2h-2zM410,95h2v2h-2zM408,99h4v2h-4zM394,101h2v2h-2zM392,103h2v2h-2zM410,103h2v2h-2zM394,105h4v2h-4zM410,105h2v2h-2zM416,105h4v2h-4zM410,107h2v2h-2zM418,107h2v2h-2zM410,109h2v2h-2zM388,113h2v2h-2zM388,115h2v2h-2zM388,117h2v2h-2zM448,119h4v2h-4zM388,121h2v2h-2zM388,123h2v2h-2zM388,125h2v2h-2zM448,125h2v2h-2zM410,127h2v2h-2zM410,129h2v2h-2zM390,131h2v2h-2zM408,131h2v2h-2zM388,133h2v2h-2zM408,133h2v2h-2zM294,137h2v2h-2zM326,137h2v2h-2zM344,137h2v2h-2zM360,137h2v2h-2zM366,137h2v2h-2zM372,137h2v2h-2zM304,139h2v2h-2zM322,139h2v2h-2zM360,139h2v2h-2zM366,139h2v2h-2zM286,141h2v2h-2zM308,141h2v2h-2zM314,141h2v2h-2zM362,141h2v2h-2zM378,141h2v2h-2zM304,143h2v2h-2zM346,143h2v2h-2zM356,143h2v2h-2zM366,143h2v2h-2zM378,143h6v2h-6zM346,145h2v2h-2zM374,145h2v2h-2zM294,147h4v2h-4zM342,147h8v2h-8zM386,147h2v2h-2zM314,149h2v2h-2zM340,149h2v2h-2zM344,149h6v2h-6zM380,149h2v2h-2z"/>
<path fill="#0c140e" d="M396,43h2v2h-2zM412,43h6v2h-6zM420,43h2v2h-2zM424,43h6v2h-6zM392,45h4v2h-4zM400,45h2v2h-2zM404,45h2v2h-2zM416,45h4v2h-4zM430,45h2v2h-2zM394,47h4v2h-4zM400,47h2v2h-2zM406,47h2v2h-2zM412,47h2v2h-2zM420,47h2v2h-2zM426,47h2v2h-2zM438,47h4v2h-4zM450,47h2v2h-2zM394,49h6v2h-6zM420,49h2v2h-2zM434,49h2v2h-2zM440,49h2v2h-2zM394,51h2v2h-2zM412,51h6v2h-6zM432,51h2v2h-2zM440,51h2v2h-2zM406,53h2v2h-2zM414,53h2v2h-2zM430,53h2v2h-2zM398,55h2v2h-2zM406,55h2v2h-2zM412,55h2v2h-2zM438,55h2v2h-2zM448,55h2v2h-2zM454,55h2v2h-2zM408,57h2v2h-2zM432,57h2v2h-2zM440,57h2v2h-2zM392,59h2v2h-2zM404,59h2v2h-2zM408,59h2v2h-2zM396,61h2v2h-2zM408,61h2v2h-2zM440,61h2v2h-2zM394,63h4v2h-4zM408,63h2v2h-2zM414,63h2v2h-2zM392,65h4v2h-4zM410,65h2v2h-2zM432,65h2v2h-2zM396,67h4v2h-4zM402,67h4v2h-4zM410,67h2v2h-2zM440,67h4v2h-4zM450,67h2v2h-2zM394,69h2v2h-2zM440,69h2v2h-2zM396,71h2v2h-2zM400,71h2v2h-2zM432,71h2v2h-2zM398,73h2v2h-2zM410,73h2v2h-2zM440,75h2v2h-2zM398,77h2v2h-2zM440,77h2v2h-2zM448,77h2v2h-2zM412,79h2v2h-2zM428,79h4v2h-4zM442,79h2v2h-2zM448,79h2v2h-2zM392,81h2v2h-2zM414,81h4v2h-4zM428,81h4v2h-4zM442,81h2v2h-2zM404,83h2v2h-2zM432,83h2v2h-2zM440,83h2v2h-2zM404,85h2v2h-2zM408,85h2v2h-2zM400,87h2v2h-2zM406,87h2v2h-2zM410,87h2v2h-2zM432,87h2v2h-2zM440,87h2v2h-2zM414,89h2v2h-2zM426,89h4v2h-4zM440,89h2v2h-2zM402,91h2v2h-2zM394,93h2v2h-2zM398,93h4v2h-4zM406,93h2v2h-2zM412,93h4v2h-4zM392,95h2v2h-2zM408,97h2v2h-2zM392,99h2v2h-2zM396,99h2v2h-2zM404,99h2v2h-2zM414,99h2v2h-2zM392,101h2v2h-2zM448,101h2v2h-2zM396,103h2v2h-2zM416,103h4v2h-4zM392,105h2v2h-2zM400,105h6v2h-6zM408,105h2v2h-2zM412,105h2v2h-2zM440,105h2v2h-2zM402,107h2v2h-2zM408,107h2v2h-2zM416,107h2v2h-2zM440,107h2v2h-2zM396,109h2v2h-2zM408,109h2v2h-2zM408,113h4v2h-4zM410,117h2v2h-2zM432,117h2v2h-2zM450,117h2v2h-2zM392,119h6v2h-6zM408,119h2v2h-2zM418,119h2v2h-2zM424,119h2v2h-2zM430,119h2v2h-2zM440,119h2v2h-2zM452,119h2v2h-2zM396,121h2v2h-2zM450,121h2v2h-2zM402,123h4v2h-4zM408,123h2v2h-2zM448,123h4v2h-4zM402,125h2v2h-2zM410,125h2v2h-2zM394,127h4v2h-4zM408,127h2v2h-2zM448,127h2v2h-2zM402,135h6v2h-6zM412,135h2v2h-2zM432,135h2v2h-2zM440,135h2v2h-2zM296,137h2v2h-2zM342,137h2v2h-2zM362,137h2v2h-2zM370,137h2v2h-2zM376,137h4v2h-4zM288,139h4v2h-4zM296,139h6v2h-6zM340,139h2v2h-2zM344,139h2v2h-2zM348,139h2v2h-2zM356,139h2v2h-2zM362,139h2v2h-2zM370,139h4v2h-4zM376,139h2v2h-2zM380,139h2v2h-2zM288,141h2v2h-2zM292,141h6v2h-6zM304,141h4v2h-4zM346,141h2v2h-2zM360,141h2v2h-2zM374,141h2v2h-2zM286,143h4v2h-4zM292,143h4v2h-4zM298,143h2v2h-2zM344,143h2v2h-2zM370,143h4v2h-4zM376,143h2v2h-2zM384,143h4v2h-4zM286,145h2v2h-2zM304,145h2v2h-2zM312,145h2v2h-2zM320,145h2v2h-2zM336,145h2v2h-2zM372,145h2v2h-2zM386,145h2v2h-2zM286,147h2v2h-2zM300,147h2v2h-2zM306,147h2v2h-2zM312,147h2v2h-2zM316,147h2v2h-2zM322,147h2v2h-2zM326,147h2v2h-2zM358,147h2v2h-2zM374,147h6v2h-6zM384,147h2v2h-2zM294,149h2v2h-2zM302,149h8v2h-8zM312,149h2v2h-2zM318,149h2v2h-2zM322,149h2v2h-2zM342,149h2v2h-2zM358,149h2v2h-2zM368,149h4v2h-4zM378,149h2v2h-2zM386,149h2v2h-2z"/>
<path fill="#0e0508" d="M394,43h2v2h-2zM398,43h2v2h-2zM434,43h2v2h-2zM442,43h2v2h-2zM448,43h2v2h-2zM454,43h2v2h-2zM396,45h2v2h-2zM412,45h2v2h-2zM428,45h2v2h-2zM440,45h2v2h-2zM398,47h2v2h-2zM424,47h2v2h-2zM428,47h4v2h-4zM434,47h2v2h-2zM452,47h2v2h-2zM424,49h8v2h-8zM436,49h2v2h-2zM398,51h4v2h-4zM426,51h2v2h-2zM434,51h2v2h-2zM438,51h2v2h-2zM410,53h2v2h-2zM424,53h6v2h-6zM434,53h6v2h-6zM448,53h4v2h-4zM454,53h2v2h-2zM404,55h2v2h-2zM416,55h2v2h-2zM426,55h6v2h-6zM436,55h2v2h-2zM442,55h2v2h-2zM450,55h2v2h-2zM398,57h8v2h-8zM436,57h2v2h-2zM442,57h2v2h-2zM402,59h2v2h-2zM414,59h2v2h-2zM432,59h2v2h-2zM404,61h2v2h-2zM412,61h4v2h-4zM432,61h2v2h-2zM402,63h4v2h-4zM412,63h2v2h-2zM418,63h2v2h-2zM426,63h2v2h-2zM440,63h2v2h-2zM396,65h2v2h-2zM404,65h2v2h-2zM408,65h2v2h-2zM414,65h4v2h-4zM440,65h2v2h-2zM394,67h2v2h-2zM408,67h2v2h-2zM416,67h4v2h-4zM434,67h2v2h-2zM438,67h2v2h-2zM446,67h4v2h-4zM404,69h2v2h-2zM422,69h2v2h-2zM432,69h2v2h-2zM410,71h2v2h-2zM436,71h4v2h-4zM442,71h2v2h-2zM408,73h2v2h-2zM400,75h2v2h-2zM406,75h2v2h-2zM412,75h4v2h-4zM454,75h2v2h-2zM412,77h4v2h-4zM430,77h2v2h-2zM398,79h2v2h-2zM416,79h4v2h-4zM434,79h2v2h-2zM438,79h2v2h-2zM396,81h2v2h-2zM418,81h2v2h-2zM424,81h2v2h-2zM434,81h2v2h-2zM438,81h2v2h-2zM444,81h4v2h-4zM450,81h2v2h-2zM400,83h2v2h-2zM414,83h2v2h-2zM442,83h2v2h-2zM448,83h2v2h-2zM432,85h2v2h-2zM440,85h2v2h-2zM450,85h2v2h-2zM398,87h2v2h-2zM408,87h2v2h-2zM412,87h2v2h-2zM416,87h4v2h-4zM426,87h2v2h-2zM434,87h2v2h-2zM398,89h2v2h-2zM402,89h2v2h-2zM418,89h2v2h-2zM430,89h2v2h-2zM438,89h2v2h-2zM442,89h2v2h-2zM448,89h4v2h-4zM396,91h6v2h-6zM414,91h2v2h-2zM424,91h4v2h-4zM440,91h2v2h-2zM402,93h2v2h-2zM418,93h2v2h-2zM428,93h2v2h-2zM442,93h2v2h-2zM448,93h2v2h-2zM394,95h2v2h-2zM424,95h4v2h-4zM394,97h2v2h-2zM412,97h4v2h-4zM424,97h4v2h-4zM440,97h2v2h-2zM402,99h2v2h-2zM412,99h2v2h-2zM418,99h2v2h-2zM414,101h6v2h-6zM432,101h2v2h-2zM440,101h2v2h-2zM402,103h4v2h-4zM408,103h2v2h-2zM412,103h2v2h-2zM420,103h2v2h-2zM446,103h4v2h-4zM398,105h2v2h-2zM422,105h4v2h-4zM392,107h2v2h-2zM404,107h2v2h-2zM426,107h2v2h-2zM392,109h2v2h-2zM398,109h2v2h-2zM402,109h4v2h-4zM414,109h2v2h-2zM432,109h2v2h-2zM388,111h2v2h-2zM394,111h4v2h-4zM402,111h4v2h-4zM408,111h2v2h-2zM418,111h2v2h-2zM432,111h2v2h-2zM392,113h6v2h-6zM394,115h2v2h-2zM408,115h4v2h-4zM424,115h4v2h-4zM432,115h2v2h-2zM450,115h2v2h-2zM418,117h2v2h-2zM426,117h2v2h-2zM398,119h4v2h-4zM406,119h2v2h-2zM414,119h2v2h-2zM426,119h2v2h-2zM434,119h2v2h-2zM442,119h2v2h-2zM446,119h2v2h-2zM454,119h2v2h-2zM410,121h2v2h-2zM432,121h2v2h-2zM448,121h2v2h-2zM394,123h8v2h-8zM414,123h2v2h-2zM426,123h6v2h-6zM436,123h2v2h-2zM440,123h4v2h-4zM446,123h2v2h-2zM454,123h2v2h-2zM394,125h6v2h-6zM428,125h2v2h-2zM432,125h2v2h-2zM450,125h2v2h-2zM392,127h2v2h-2zM398,127h2v2h-2zM426,127h2v2h-2zM432,127h2v2h-2zM442,127h2v2h-2zM450,127h4v2h-4zM388,129h2v2h-2zM394,129h6v2h-6zM424,129h2v2h-2zM448,129h2v2h-2zM392,131h6v2h-6zM402,131h4v2h-4zM426,131h2v2h-2zM432,131h2v2h-2zM440,131h2v2h-2zM398,133h2v2h-2zM402,133h2v2h-2zM406,133h2v2h-2zM412,133h2v2h-2zM426,133h2v2h-2zM432,133h2v2h-2zM448,133h2v2h-2zM388,135h2v2h-2zM396,135h2v2h-2zM414,135h2v2h-2zM426,135h2v2h-2zM292,137h2v2h-2zM304,137h2v2h-2zM316,137h2v2h-2zM334,137h2v2h-2zM354,137h6v2h-6zM386,137h2v2h-2zM292,139h4v2h-4zM308,139h2v2h-2zM312,139h2v2h-2zM316,139h2v2h-2zM320,139h2v2h-2zM328,139h2v2h-2zM342,139h2v2h-2zM374,139h2v2h-2zM378,139h2v2h-2zM384,139h4v2h-4zM410,139h2v2h-2zM298,141h2v2h-2zM328,141h2v2h-2zM334,141h2v2h-2zM340,141h2v2h-2zM348,141h2v2h-2zM356,141h2v2h-2zM370,141h2v2h-2zM376,141h2v2h-2zM380,141h4v2h-4zM386,141h2v2h-2zM432,141h2v2h-2zM440,141h2v2h-2zM300,143h2v2h-2zM306,143h6v2h-6zM314,143h2v2h-2zM328,143h2v2h-2zM334,143h2v2h-2zM348,143h2v2h-2zM352,143h2v2h-2zM360,143h6v2h-6zM374,143h2v2h-2zM290,145h2v2h-2zM296,145h4v2h-4zM302,145h2v2h-2zM314,145h2v2h-2zM348,145h2v2h-2zM352,145h12v2h-12zM366,145h2v2h-2zM370,145h2v2h-2zM440,145h2v2h-2zM290,147h4v2h-4zM298,147h2v2h-2zM304,147h2v2h-2zM308,147h2v2h-2zM330,147h4v2h-4zM340,147h2v2h-2zM352,147h6v2h-6zM360,147h6v2h-6zM440,147h2v2h-2zM296,149h6v2h-6zM326,149h2v2h-2zM350,149h4v2h-4zM356,149h2v2h-2zM364,149h4v2h-4zM382,149h4v2h-4zM428,149h2v2h-2z"/>
<path fill="#160509" d="M314,43h2v2h-2zM360,43h10v2h-10zM386,43h2v2h-2zM404,43h2v2h-2zM436,43h4v2h-4zM444,43h2v2h-2zM362,45h2v2h-2zM366,45h2v2h-2zM422,45h2v2h-2zM434,45h2v2h-2zM448,45h4v2h-4zM360,47h4v2h-4zM366,47h4v2h-4zM422,47h2v2h-2zM442,47h2v2h-2zM446,47h2v2h-2zM454,47h2v2h-2zM314,49h2v2h-2zM362,49h2v2h-2zM366,49h2v2h-2zM370,49h2v2h-2zM406,49h2v2h-2zM422,49h2v2h-2zM438,49h2v2h-2zM442,49h2v2h-2zM450,49h6v2h-6zM366,51h2v2h-2zM428,51h4v2h-4zM442,51h2v2h-2zM448,51h8v2h-8zM398,53h4v2h-4zM444,53h2v2h-2zM452,53h2v2h-2zM366,55h4v2h-4zM400,55h2v2h-2zM420,55h4v2h-4zM444,55h2v2h-2zM406,57h2v2h-2zM412,57h2v2h-2zM418,57h2v2h-2zM424,57h4v2h-4zM430,57h2v2h-2zM438,57h2v2h-2zM448,57h2v2h-2zM366,59h2v2h-2zM400,59h2v2h-2zM406,59h2v2h-2zM416,59h4v2h-4zM426,59h2v2h-2zM434,59h2v2h-2zM438,59h2v2h-2zM366,61h2v2h-2zM394,61h2v2h-2zM406,61h2v2h-2zM442,61h2v2h-2zM452,61h2v2h-2zM366,63h6v2h-6zM406,63h2v2h-2zM410,63h2v2h-2zM420,63h2v2h-2zM424,63h2v2h-2zM434,63h2v2h-2zM438,63h2v2h-2zM448,63h4v2h-4zM366,65h2v2h-2zM400,65h2v2h-2zM406,65h2v2h-2zM412,65h2v2h-2zM426,65h2v2h-2zM434,65h2v2h-2zM438,65h2v2h-2zM448,65h4v2h-4zM362,67h2v2h-2zM366,67h6v2h-6zM386,67h2v2h-2zM412,67h2v2h-2zM420,67h2v2h-2zM424,67h8v2h-8zM436,67h2v2h-2zM452,67h4v2h-4zM396,69h6v2h-6zM408,69h4v2h-4zM438,69h2v2h-2zM448,69h2v2h-2zM386,71h2v2h-2zM404,71h4v2h-4zM414,71h4v2h-4zM434,71h2v2h-2zM448,71h2v2h-2zM366,73h2v2h-2zM400,73h2v2h-2zM406,73h2v2h-2zM416,73h4v2h-4zM426,73h6v2h-6zM438,73h2v2h-2zM442,73h2v2h-2zM450,73h2v2h-2zM366,75h2v2h-2zM386,75h2v2h-2zM416,75h2v2h-2zM424,75h2v2h-2zM428,75h4v2h-4zM438,75h2v2h-2zM442,75h4v2h-4zM448,75h4v2h-4zM362,77h2v2h-2zM366,77h2v2h-2zM386,77h2v2h-2zM418,77h2v2h-2zM424,77h2v2h-2zM434,77h2v2h-2zM450,77h2v2h-2zM454,77h2v2h-2zM348,79h2v2h-2zM360,79h4v2h-4zM366,79h6v2h-6zM386,79h2v2h-2zM436,79h2v2h-2zM446,79h2v2h-2zM454,79h2v2h-2zM314,81h4v2h-4zM320,81h4v2h-4zM328,81h2v2h-2zM346,81h2v2h-2zM362,81h2v2h-2zM366,81h6v2h-6zM386,81h2v2h-2zM420,81h2v2h-2zM436,81h2v2h-2zM454,81h2v2h-2zM366,83h4v2h-4zM416,83h4v2h-4zM426,83h4v2h-4zM434,83h2v2h-2zM438,83h2v2h-2zM444,83h4v2h-4zM450,83h2v2h-2zM366,85h2v2h-2zM402,85h2v2h-2zM412,85h8v2h-8zM434,85h2v2h-2zM442,85h2v2h-2zM448,85h2v2h-2zM366,87h4v2h-4zM386,87h2v2h-2zM420,87h2v2h-2zM424,87h2v2h-2zM428,87h4v2h-4zM436,87h4v2h-4zM450,87h2v2h-2zM306,89h2v2h-2zM328,89h2v2h-2zM366,89h6v2h-6zM386,89h2v2h-2zM422,89h2v2h-2zM436,89h2v2h-2zM444,89h2v2h-2zM452,89h4v2h-4zM408,91h2v2h-2zM412,91h2v2h-2zM416,91h4v2h-4zM428,91h2v2h-2zM314,93h2v2h-2zM366,93h2v2h-2zM386,93h2v2h-2zM408,93h2v2h-2zM422,93h2v2h-2zM426,93h2v2h-2zM430,93h2v2h-2zM438,93h2v2h-2zM396,95h2v2h-2zM402,95h4v2h-4zM412,95h8v2h-8zM432,95h2v2h-2zM440,95h2v2h-2zM366,97h2v2h-2zM392,97h2v2h-2zM398,97h2v2h-2zM402,97h6v2h-6zM416,97h2v2h-2zM432,97h2v2h-2zM442,97h2v2h-2zM344,99h2v2h-2zM366,99h2v2h-2zM386,99h2v2h-2zM394,99h2v2h-2zM398,99h4v2h-4zM406,99h2v2h-2zM420,99h2v2h-2zM424,99h4v2h-4zM432,99h2v2h-2zM442,99h2v2h-2zM448,99h4v2h-4zM366,101h2v2h-2zM404,101h2v2h-2zM410,101h4v2h-4zM420,101h2v2h-2zM424,101h2v2h-2zM434,101h2v2h-2zM442,101h2v2h-2zM450,101h6v2h-6zM386,103h2v2h-2zM400,103h2v2h-2zM406,103h2v2h-2zM424,103h4v2h-4zM434,103h2v2h-2zM438,103h2v2h-2zM442,103h2v2h-2zM450,103h2v2h-2zM366,105h2v2h-2zM386,105h2v2h-2zM426,105h2v2h-2zM430,105h2v2h-2zM438,105h2v2h-2zM446,105h6v2h-6zM394,107h6v2h-6zM412,107h2v2h-2zM434,107h2v2h-2zM438,107h2v2h-2zM442,107h2v2h-2zM454,107h2v2h-2zM400,109h2v2h-2zM412,109h2v2h-2zM416,109h2v2h-2zM434,109h4v2h-4zM442,109h2v2h-2zM392,111h2v2h-2zM406,111h2v2h-2zM412,111h2v2h-2zM438,111h2v2h-2zM366,113h2v2h-2zM404,113h2v2h-2zM414,113h2v2h-2zM418,113h2v2h-2zM424,113h2v2h-2zM440,113h2v2h-2zM366,115h2v2h-2zM392,115h2v2h-2zM398,115h2v2h-2zM402,115h2v2h-2zM418,115h2v2h-2zM440,115h2v2h-2zM448,115h2v2h-2zM366,117h2v2h-2zM398,117h2v2h-2zM420,117h2v2h-2zM440,117h2v2h-2zM452,117h2v2h-2zM362,119h2v2h-2zM366,119h2v2h-2zM412,119h2v2h-2zM428,119h2v2h-2zM436,119h4v2h-4zM444,119h2v2h-2zM394,121h2v2h-2zM398,121h2v2h-2zM408,121h2v2h-2zM418,121h2v2h-2zM440,121h2v2h-2zM446,121h2v2h-2zM362,123h2v2h-2zM366,123h2v2h-2zM392,123h2v2h-2zM406,123h2v2h-2zM412,123h2v2h-2zM416,123h4v2h-4zM438,123h2v2h-2zM444,123h2v2h-2zM424,125h4v2h-4zM440,125h2v2h-2zM446,125h2v2h-2zM452,125h4v2h-4zM362,127h2v2h-2zM400,127h4v2h-4zM406,127h2v2h-2zM412,127h4v2h-4zM424,127h2v2h-2zM428,127h2v2h-2zM440,127h2v2h-2zM444,127h4v2h-4zM454,127h2v2h-2zM392,129h2v2h-2zM402,129h6v2h-6zM412,129h2v2h-2zM416,129h2v2h-2zM426,129h6v2h-6zM398,131h4v2h-4zM406,131h2v2h-2zM414,131h2v2h-2zM424,131h2v2h-2zM428,131h2v2h-2zM442,131h2v2h-2zM448,131h4v2h-4zM366,133h2v2h-2zM394,133h2v2h-2zM400,133h2v2h-2zM414,133h2v2h-2zM418,133h4v2h-4zM424,133h2v2h-2zM428,133h4v2h-4zM450,133h2v2h-2zM394,135h2v2h-2zM416,135h8v2h-8zM428,135h4v2h-4zM434,135h2v2h-2zM442,135h2v2h-2zM286,137h2v2h-2zM290,137h2v2h-2zM298,137h6v2h-6zM308,137h2v2h-2zM314,137h2v2h-2zM318,137h2v2h-2zM322,137h2v2h-2zM330,137h4v2h-4zM336,137h2v2h-2zM340,137h2v2h-2zM346,137h2v2h-2zM374,137h2v2h-2zM380,137h2v2h-2zM384,137h2v2h-2zM426,137h2v2h-2zM432,137h2v2h-2zM284,139h2v2h-2zM326,139h2v2h-2zM330,139h8v2h-8zM346,139h2v2h-2zM358,139h2v2h-2zM368,139h2v2h-2zM382,139h2v2h-2zM316,141h4v2h-4zM324,141h4v2h-4zM332,141h2v2h-2zM336,141h4v2h-4zM342,141h2v2h-2zM384,141h2v2h-2zM284,143h2v2h-2zM296,143h2v2h-2zM302,143h2v2h-2zM312,143h2v2h-2zM316,143h8v2h-8zM332,143h2v2h-2zM340,143h2v2h-2zM354,143h2v2h-2zM358,143h2v2h-2zM284,145h2v2h-2zM288,145h2v2h-2zM292,145h4v2h-4zM300,145h2v2h-2zM308,145h2v2h-2zM334,145h2v2h-2zM338,145h6v2h-6zM350,145h2v2h-2zM380,145h6v2h-6zM426,145h2v2h-2zM432,145h2v2h-2zM284,147h2v2h-2zM288,147h2v2h-2zM302,147h2v2h-2zM368,147h6v2h-6zM284,149h10v2h-10zM310,149h2v2h-2zM316,149h2v2h-2zM328,149h4v2h-4zM338,149h2v2h-2zM362,149h2v2h-2zM372,149h2v2h-2zM390,149h2v2h-2zM396,149h2v2h-2zM400,149h2v2h-2zM404,149h2v2h-2zM410,149h2v2h-2zM416,149h4v2h-4zM430,149h2v2h-2zM440,149h14v2h-14z"/>
<path fill="#1f050b" d="M400,43h2v2h-2zM406,45h2v2h-2zM444,45h2v2h-2zM454,45h2v2h-2zM328,47h2v2h-2zM344,47h2v2h-2zM370,47h2v2h-2zM444,47h2v2h-2zM340,49h2v2h-2zM360,49h2v2h-2zM368,49h2v2h-2zM400,49h2v2h-2zM446,49h2v2h-2zM362,51h2v2h-2zM406,51h2v2h-2zM444,51h4v2h-4zM368,53h2v2h-2zM446,53h2v2h-2zM362,55h2v2h-2zM370,55h2v2h-2zM366,57h2v2h-2zM416,57h2v2h-2zM420,57h2v2h-2zM428,57h2v2h-2zM452,57h4v2h-4zM420,59h2v2h-2zM424,59h2v2h-2zM428,59h4v2h-4zM436,59h2v2h-2zM448,59h4v2h-4zM368,61h4v2h-4zM420,61h2v2h-2zM424,61h8v2h-8zM434,61h6v2h-6zM450,61h2v2h-2zM314,63h2v2h-2zM398,63h4v2h-4zM428,63h2v2h-2zM436,63h2v2h-2zM444,63h2v2h-2zM452,63h4v2h-4zM368,65h4v2h-4zM420,65h2v2h-2zM424,65h2v2h-2zM428,65h4v2h-4zM436,65h2v2h-2zM446,65h2v2h-2zM452,65h4v2h-4zM364,67h2v2h-2zM400,67h2v2h-2zM362,69h2v2h-2zM366,69h2v2h-2zM414,69h6v2h-6zM428,69h4v2h-4zM434,69h4v2h-4zM446,69h2v2h-2zM450,69h2v2h-2zM454,69h2v2h-2zM366,71h2v2h-2zM412,71h2v2h-2zM418,71h2v2h-2zM424,71h2v2h-2zM454,71h2v2h-2zM362,73h2v2h-2zM370,73h2v2h-2zM432,73h2v2h-2zM436,73h2v2h-2zM452,73h2v2h-2zM362,75h4v2h-4zM370,75h2v2h-2zM420,75h2v2h-2zM436,75h2v2h-2zM446,75h2v2h-2zM452,75h2v2h-2zM364,77h2v2h-2zM400,77h2v2h-2zM420,77h4v2h-4zM432,77h2v2h-2zM452,77h2v2h-2zM316,79h2v2h-2zM328,79h2v2h-2zM422,79h2v2h-2zM426,79h2v2h-2zM300,81h2v2h-2zM312,81h2v2h-2zM330,81h2v2h-2zM344,81h2v2h-2zM360,81h2v2h-2zM364,81h2v2h-2zM372,81h2v2h-2zM378,81h2v2h-2zM412,81h2v2h-2zM422,81h2v2h-2zM328,83h2v2h-2zM362,83h2v2h-2zM370,83h2v2h-2zM398,83h2v2h-2zM436,83h2v2h-2zM452,83h2v2h-2zM368,85h4v2h-4zM398,85h4v2h-4zM424,85h8v2h-8zM444,85h4v2h-4zM314,87h2v2h-2zM362,87h2v2h-2zM370,87h2v2h-2zM422,87h2v2h-2zM452,87h4v2h-4zM304,89h2v2h-2zM312,89h4v2h-4zM344,89h2v2h-2zM364,89h2v2h-2zM384,89h2v2h-2zM400,89h2v2h-2zM410,89h2v2h-2zM446,89h2v2h-2zM366,91h4v2h-4zM406,91h2v2h-2zM420,91h4v2h-4zM434,91h6v2h-6zM450,91h2v2h-2zM306,93h2v2h-2zM312,93h2v2h-2zM344,93h2v2h-2zM364,93h2v2h-2zM368,93h2v2h-2zM436,93h2v2h-2zM450,93h6v2h-6zM366,95h2v2h-2zM398,95h4v2h-4zM406,95h2v2h-2zM428,95h2v2h-2zM438,95h2v2h-2zM442,95h2v2h-2zM452,95h2v2h-2zM420,97h4v2h-4zM428,97h2v2h-2zM438,97h2v2h-2zM444,97h2v2h-2zM448,97h4v2h-4zM454,97h2v2h-2zM314,99h2v2h-2zM362,99h2v2h-2zM422,99h2v2h-2zM428,99h2v2h-2zM438,99h2v2h-2zM452,99h4v2h-4zM396,101h4v2h-4zM426,101h2v2h-2zM446,101h2v2h-2zM366,103h2v2h-2zM398,103h2v2h-2zM414,103h2v2h-2zM422,103h2v2h-2zM436,103h2v2h-2zM452,103h4v2h-4zM362,105h2v2h-2zM414,105h2v2h-2zM428,105h2v2h-2zM444,105h2v2h-2zM452,105h2v2h-2zM366,107h2v2h-2zM386,107h2v2h-2zM422,107h2v2h-2zM428,107h4v2h-4zM444,107h2v2h-2zM450,107h4v2h-4zM420,109h2v2h-2zM424,109h4v2h-4zM430,109h2v2h-2zM450,109h2v2h-2zM454,109h2v2h-2zM366,111h2v2h-2zM400,111h2v2h-2zM420,111h2v2h-2zM426,111h2v2h-2zM434,111h4v2h-4zM450,111h4v2h-4zM398,113h4v2h-4zM406,113h2v2h-2zM420,113h4v2h-4zM434,113h2v2h-2zM438,113h2v2h-2zM442,113h2v2h-2zM448,113h8v2h-8zM396,115h2v2h-2zM400,115h2v2h-2zM404,115h2v2h-2zM414,115h2v2h-2zM428,115h2v2h-2zM434,115h2v2h-2zM452,115h4v2h-4zM364,117h2v2h-2zM394,117h4v2h-4zM402,117h2v2h-2zM408,117h2v2h-2zM414,117h4v2h-4zM424,117h2v2h-2zM434,117h2v2h-2zM442,117h4v2h-4zM454,117h2v2h-2zM326,119h4v2h-4zM368,119h4v2h-4zM404,119h2v2h-2zM432,119h2v2h-2zM402,121h2v2h-2zM416,121h2v2h-2zM424,121h8v2h-8zM434,121h2v2h-2zM442,121h4v2h-4zM454,121h2v2h-2zM420,123h4v2h-4zM362,125h2v2h-2zM366,125h2v2h-2zM406,125h2v2h-2zM412,125h8v2h-8zM422,125h2v2h-2zM430,125h2v2h-2zM434,125h4v2h-4zM444,125h2v2h-2zM360,127h2v2h-2zM366,127h2v2h-2zM404,127h2v2h-2zM416,127h2v2h-2zM420,127h4v2h-4zM430,127h2v2h-2zM400,129h2v2h-2zM414,129h2v2h-2zM420,129h2v2h-2zM444,129h4v2h-4zM452,129h4v2h-4zM366,131h2v2h-2zM416,131h6v2h-6zM430,131h2v2h-2zM446,131h2v2h-2zM452,131h2v2h-2zM396,133h2v2h-2zM416,133h2v2h-2zM434,133h2v2h-2zM438,133h2v2h-2zM444,133h4v2h-4zM400,135h2v2h-2zM436,135h2v2h-2zM444,135h2v2h-2zM448,135h4v2h-4zM284,137h2v2h-2zM288,137h2v2h-2zM310,137h4v2h-4zM320,137h2v2h-2zM328,137h2v2h-2zM338,137h2v2h-2zM348,137h2v2h-2zM364,137h2v2h-2zM382,137h2v2h-2zM286,139h2v2h-2zM302,139h2v2h-2zM314,139h2v2h-2zM350,139h2v2h-2zM300,141h4v2h-4zM310,141h4v2h-4zM320,141h4v2h-4zM330,141h2v2h-2zM354,141h2v2h-2zM358,141h2v2h-2zM372,141h2v2h-2zM290,143h2v2h-2zM326,143h2v2h-2zM330,143h2v2h-2zM336,143h2v2h-2zM342,143h2v2h-2zM368,143h2v2h-2zM440,143h2v2h-2zM316,145h2v2h-2zM326,145h2v2h-2zM330,145h2v2h-2zM364,145h2v2h-2zM368,145h2v2h-2zM378,145h2v2h-2zM410,145h2v2h-2zM418,145h2v2h-2zM310,147h2v2h-2zM318,147h2v2h-2zM324,147h2v2h-2zM328,147h2v2h-2zM334,147h6v2h-6zM366,147h2v2h-2zM380,147h4v2h-4zM428,147h2v2h-2zM320,149h2v2h-2zM336,149h2v2h-2zM354,149h2v2h-2zM360,149h2v2h-2zM394,149h2v2h-2zM402,149h2v2h-2zM406,149h4v2h-4zM412,149h4v2h-4zM420,149h8v2h-8zM432,149h8v2h-8zM454,149h2v2h-2z"/>
<path fill="#28060c" d="M304,43h2v2h-2zM328,43h2v2h-2zM348,43h2v2h-2zM314,45h2v2h-2zM340,45h2v2h-2zM344,45h2v2h-2zM360,45h2v2h-2zM364,45h2v2h-2zM368,45h2v2h-2zM420,45h2v2h-2zM424,45h4v2h-4zM446,45h2v2h-2zM306,47h4v2h-4zM314,47h2v2h-2zM336,47h2v2h-2zM340,47h2v2h-2zM364,47h2v2h-2zM386,47h2v2h-2zM414,47h2v2h-2zM448,47h2v2h-2zM306,49h2v2h-2zM328,49h2v2h-2zM332,49h2v2h-2zM364,49h2v2h-2zM338,51h2v2h-2zM370,51h2v2h-2zM314,53h2v2h-2zM336,53h2v2h-2zM386,53h2v2h-2zM442,53h2v2h-2zM306,55h2v2h-2zM314,55h2v2h-2zM336,55h2v2h-2zM386,55h2v2h-2zM422,57h2v2h-2zM444,57h2v2h-2zM398,59h2v2h-2zM422,59h2v2h-2zM444,59h4v2h-4zM452,59h2v2h-2zM400,61h2v2h-2zM422,61h2v2h-2zM444,61h4v2h-4zM416,63h2v2h-2zM314,65h2v2h-2zM364,65h2v2h-2zM398,65h2v2h-2zM418,65h2v2h-2zM422,65h2v2h-2zM314,67h2v2h-2zM412,69h2v2h-2zM362,71h2v2h-2zM398,71h2v2h-2zM420,71h4v2h-4zM440,71h2v2h-2zM444,71h4v2h-4zM386,73h2v2h-2zM420,73h4v2h-4zM446,73h2v2h-2zM368,75h2v2h-2zM432,75h2v2h-2zM368,77h4v2h-4zM406,77h4v2h-4zM416,77h2v2h-2zM312,79h4v2h-4zM318,79h4v2h-4zM326,79h2v2h-2zM330,79h2v2h-2zM334,79h2v2h-2zM338,79h2v2h-2zM344,79h2v2h-2zM378,79h2v2h-2zM410,79h2v2h-2zM414,79h2v2h-2zM424,79h2v2h-2zM304,81h2v2h-2zM318,81h2v2h-2zM338,81h2v2h-2zM348,81h4v2h-4zM376,81h2v2h-2zM380,81h2v2h-2zM384,81h2v2h-2zM440,81h2v2h-2zM314,83h4v2h-4zM344,83h2v2h-2zM386,83h2v2h-2zM422,83h2v2h-2zM406,85h2v2h-2zM452,85h4v2h-4zM306,87h2v2h-2zM312,87h2v2h-2zM328,87h2v2h-2zM376,87h2v2h-2zM308,89h2v2h-2zM330,89h2v2h-2zM346,89h2v2h-2zM362,89h2v2h-2zM380,89h2v2h-2zM420,89h2v2h-2zM434,89h2v2h-2zM306,91h2v2h-2zM386,91h2v2h-2zM444,91h2v2h-2zM452,91h4v2h-4zM308,93h2v2h-2zM326,93h6v2h-6zM446,93h2v2h-2zM314,95h2v2h-2zM434,95h2v2h-2zM448,95h2v2h-2zM454,95h2v2h-2zM312,97h2v2h-2zM328,97h2v2h-2zM362,97h2v2h-2zM370,97h2v2h-2zM400,97h2v2h-2zM430,97h2v2h-2zM434,97h4v2h-4zM446,97h2v2h-2zM452,97h2v2h-2zM326,99h4v2h-4zM368,99h2v2h-2zM430,99h2v2h-2zM436,99h2v2h-2zM362,101h2v2h-2zM368,101h2v2h-2zM386,101h2v2h-2zM402,101h2v2h-2zM408,101h2v2h-2zM428,101h2v2h-2zM384,103h2v2h-2zM432,103h2v2h-2zM384,105h2v2h-2zM420,105h2v2h-2zM432,105h2v2h-2zM400,107h2v2h-2zM446,107h2v2h-2zM366,109h2v2h-2zM386,109h2v2h-2zM394,109h2v2h-2zM418,109h2v2h-2zM422,109h2v2h-2zM444,109h2v2h-2zM334,111h2v2h-2zM364,111h2v2h-2zM398,111h2v2h-2zM422,111h2v2h-2zM430,111h2v2h-2zM444,111h4v2h-4zM364,113h2v2h-2zM402,113h2v2h-2zM428,113h4v2h-4zM436,113h2v2h-2zM446,113h2v2h-2zM368,115h2v2h-2zM422,115h2v2h-2zM438,115h2v2h-2zM442,115h6v2h-6zM368,117h4v2h-4zM392,117h2v2h-2zM406,117h2v2h-2zM422,117h2v2h-2zM428,117h2v2h-2zM436,117h4v2h-4zM322,119h2v2h-2zM364,119h2v2h-2zM402,119h2v2h-2zM420,119h2v2h-2zM392,121h2v2h-2zM404,121h2v2h-2zM412,121h2v2h-2zM422,121h2v2h-2zM436,121h4v2h-4zM328,123h2v2h-2zM368,123h2v2h-2zM432,123h2v2h-2zM360,125h2v2h-2zM400,125h2v2h-2zM404,125h2v2h-2zM420,125h2v2h-2zM438,125h2v2h-2zM436,127h4v2h-4zM408,129h2v2h-2zM434,129h2v2h-2zM438,129h2v2h-2zM362,131h2v2h-2zM434,131h4v2h-4zM362,133h2v2h-2zM392,133h2v2h-2zM404,133h2v2h-2zM422,133h2v2h-2zM436,133h2v2h-2zM440,133h2v2h-2zM452,133h4v2h-4zM362,135h2v2h-2zM366,135h2v2h-2zM398,135h2v2h-2zM446,135h2v2h-2zM452,135h4v2h-4zM324,137h2v2h-2zM350,137h4v2h-4zM410,137h2v2h-2zM318,139h2v2h-2zM324,139h2v2h-2zM338,139h2v2h-2zM352,139h4v2h-4zM426,139h2v2h-2zM432,139h2v2h-2zM438,139h4v2h-4zM350,141h2v2h-2zM368,141h2v2h-2zM338,143h2v2h-2zM350,143h2v2h-2zM410,143h2v2h-2zM322,145h4v2h-4zM328,145h2v2h-2zM332,145h2v2h-2zM320,147h2v2h-2zM410,147h2v2h-2zM418,147h2v2h-2zM432,147h2v2h-2zM442,147h2v2h-2zM448,147h2v2h-2zM332,149h4v2h-4zM374,149h4v2h-4zM388,149h2v2h-2zM392,149h2v2h-2zM398,149h2v2h-2z"/>
<path fill="#31060e" d="M308,43h2v2h-2zM312,43h2v2h-2zM338,43h4v2h-4zM344,43h2v2h-2zM370,43h2v2h-2zM430,43h2v2h-2zM450,43h2v2h-2zM306,45h2v2h-2zM328,45h2v2h-2zM386,45h2v2h-2zM398,45h2v2h-2zM312,47h2v2h-2zM316,47h4v2h-4zM330,47h2v2h-2zM334,47h2v2h-2zM338,47h2v2h-2zM342,47h2v2h-2zM384,47h2v2h-2zM436,47h2v2h-2zM330,49h2v2h-2zM334,49h2v2h-2zM342,49h2v2h-2zM384,49h4v2h-4zM314,51h2v2h-2zM368,51h2v2h-2zM420,51h2v2h-2zM436,51h2v2h-2zM340,53h2v2h-2zM362,53h6v2h-6zM412,53h2v2h-2zM420,53h2v2h-2zM316,55h2v2h-2zM338,55h2v2h-2zM342,55h2v2h-2zM360,55h2v2h-2zM364,55h2v2h-2zM418,55h2v2h-2zM424,55h2v2h-2zM368,57h4v2h-4zM434,57h2v2h-2zM314,59h2v2h-2zM368,59h4v2h-4zM440,59h2v2h-2zM362,63h4v2h-4zM386,63h2v2h-2zM362,65h2v2h-2zM386,65h2v2h-2zM402,65h2v2h-2zM312,67h2v2h-2zM334,67h2v2h-2zM384,67h2v2h-2zM368,69h4v2h-4zM386,69h2v2h-2zM338,71h4v2h-4zM344,71h2v2h-2zM364,71h2v2h-2zM368,71h4v2h-4zM426,71h2v2h-2zM314,73h2v2h-2zM360,73h2v2h-2zM368,73h2v2h-2zM384,73h2v2h-2zM412,73h2v2h-2zM434,73h2v2h-2zM454,73h2v2h-2zM306,75h2v2h-2zM336,75h6v2h-6zM344,75h2v2h-2zM360,75h2v2h-2zM434,75h2v2h-2zM314,77h2v2h-2zM318,77h2v2h-2zM322,77h2v2h-2zM360,77h2v2h-2zM426,77h4v2h-4zM436,77h4v2h-4zM302,79h4v2h-4zM322,79h2v2h-2zM332,79h2v2h-2zM336,79h2v2h-2zM372,79h6v2h-6zM384,79h2v2h-2zM420,79h2v2h-2zM444,79h2v2h-2zM450,79h2v2h-2zM302,81h2v2h-2zM306,81h4v2h-4zM332,81h6v2h-6zM374,81h2v2h-2zM306,83h2v2h-2zM322,83h2v2h-2zM326,83h2v2h-2zM334,83h2v2h-2zM346,83h4v2h-4zM364,83h2v2h-2zM376,83h2v2h-2zM384,83h2v2h-2zM412,83h2v2h-2zM424,83h2v2h-2zM314,85h2v2h-2zM328,85h2v2h-2zM362,85h2v2h-2zM386,85h2v2h-2zM422,85h2v2h-2zM344,87h2v2h-2zM348,87h2v2h-2zM364,87h2v2h-2zM384,87h2v2h-2zM448,87h2v2h-2zM302,89h2v2h-2zM316,89h2v2h-2zM322,89h2v2h-2zM326,89h2v2h-2zM334,89h2v2h-2zM378,89h2v2h-2zM308,91h2v2h-2zM314,91h2v2h-2zM370,91h2v2h-2zM310,93h2v2h-2zM346,93h2v2h-2zM360,93h4v2h-4zM370,93h2v2h-2zM434,93h2v2h-2zM362,95h2v2h-2zM370,95h2v2h-2zM408,95h2v2h-2zM446,95h2v2h-2zM308,97h2v2h-2zM318,97h2v2h-2zM344,97h6v2h-6zM360,97h2v2h-2zM364,97h2v2h-2zM386,97h2v2h-2zM308,99h2v2h-2zM312,99h2v2h-2zM322,99h2v2h-2zM330,99h2v2h-2zM342,99h2v2h-2zM346,99h4v2h-4zM364,99h2v2h-2zM370,99h2v2h-2zM384,99h2v2h-2zM416,99h2v2h-2zM322,101h2v2h-2zM328,101h2v2h-2zM340,101h2v2h-2zM344,101h2v2h-2zM360,101h2v2h-2zM370,101h2v2h-2zM400,101h2v2h-2zM344,103h2v2h-2zM362,103h2v2h-2zM368,103h2v2h-2zM440,103h2v2h-2zM360,105h2v2h-2zM364,105h2v2h-2zM368,105h2v2h-2zM436,105h2v2h-2zM362,107h2v2h-2zM420,107h2v2h-2zM424,107h2v2h-2zM406,109h2v2h-2zM438,109h2v2h-2zM338,111h4v2h-4zM368,111h2v2h-2zM368,113h2v2h-2zM416,113h2v2h-2zM340,115h2v2h-2zM364,115h2v2h-2zM400,117h2v2h-2zM404,117h2v2h-2zM360,119h2v2h-2zM384,119h4v2h-4zM416,119h2v2h-2zM422,119h2v2h-2zM366,121h2v2h-2zM314,123h2v2h-2zM360,123h2v2h-2zM364,123h2v2h-2zM370,123h2v2h-2zM452,123h2v2h-2zM386,125h2v2h-2zM392,125h2v2h-2zM306,127h2v2h-2zM340,127h2v2h-2zM368,127h2v2h-2zM386,127h2v2h-2zM362,129h2v2h-2zM366,129h2v2h-2zM436,129h2v2h-2zM386,131h2v2h-2zM412,131h2v2h-2zM370,133h2v2h-2zM386,133h2v2h-2zM360,135h2v2h-2zM368,135h4v2h-4zM424,135h2v2h-2zM408,137h2v2h-2zM414,137h2v2h-2zM442,137h2v2h-2zM310,139h2v2h-2zM364,139h2v2h-2zM284,141h2v2h-2zM352,141h2v2h-2zM364,141h2v2h-2zM426,141h2v2h-2zM442,141h2v2h-2zM390,143h2v2h-2zM408,143h2v2h-2zM414,143h2v2h-2zM318,145h2v2h-2zM420,145h2v2h-2zM434,145h2v2h-2zM390,147h2v2h-2zM444,147h2v2h-2zM450,147h2v2h-2zM324,149h2v2h-2z"/>
<path fill="#3a060f" d="M320,43h2v2h-2zM326,43h2v2h-2zM334,43h4v2h-4zM342,43h2v2h-2zM346,43h2v2h-2zM376,43h4v2h-4zM384,43h2v2h-2zM304,45h2v2h-2zM312,45h2v2h-2zM326,45h2v2h-2zM336,45h2v2h-2zM370,45h2v2h-2zM438,45h2v2h-2zM452,45h2v2h-2zM322,47h2v2h-2zM376,47h4v2h-4zM304,49h2v2h-2zM312,49h2v2h-2zM316,49h6v2h-6zM336,49h4v2h-4zM444,49h2v2h-2zM448,49h2v2h-2zM304,51h2v2h-2zM308,51h2v2h-2zM312,51h2v2h-2zM328,51h2v2h-2zM332,51h2v2h-2zM336,51h2v2h-2zM340,51h2v2h-2zM372,51h2v2h-2zM386,51h2v2h-2zM424,51h2v2h-2zM306,53h2v2h-2zM328,53h4v2h-4zM334,53h2v2h-2zM338,53h2v2h-2zM344,53h2v2h-2zM360,53h2v2h-2zM378,53h2v2h-2zM416,53h2v2h-2zM304,55h2v2h-2zM332,55h2v2h-2zM340,55h2v2h-2zM344,55h2v2h-2zM378,55h2v2h-2zM382,55h4v2h-4zM446,55h2v2h-2zM452,55h2v2h-2zM306,57h2v2h-2zM384,57h4v2h-4zM344,59h2v2h-2zM386,59h2v2h-2zM364,61h2v2h-2zM384,61h4v2h-4zM416,61h2v2h-2zM448,61h2v2h-2zM372,63h8v2h-8zM430,63h2v2h-2zM322,65h2v2h-2zM384,65h2v2h-2zM318,67h2v2h-2zM322,67h2v2h-2zM328,67h2v2h-2zM336,67h4v2h-4zM344,67h2v2h-2zM380,67h2v2h-2zM414,67h2v2h-2zM314,69h2v2h-2zM384,69h2v2h-2zM406,69h2v2h-2zM424,69h2v2h-2zM314,71h2v2h-2zM322,71h2v2h-2zM384,71h2v2h-2zM428,71h2v2h-2zM450,71h4v2h-4zM304,73h4v2h-4zM336,73h10v2h-10zM364,73h2v2h-2zM414,73h2v2h-2zM424,73h2v2h-2zM314,75h2v2h-2zM408,75h2v2h-2zM312,77h2v2h-2zM320,77h2v2h-2zM326,77h2v2h-2zM346,77h2v2h-2zM378,77h2v2h-2zM442,77h4v2h-4zM306,79h4v2h-4zM324,79h2v2h-2zM342,79h2v2h-2zM346,79h2v2h-2zM364,79h2v2h-2zM380,79h4v2h-4zM452,79h2v2h-2zM340,81h2v2h-2zM356,81h2v2h-2zM382,81h2v2h-2zM452,81h2v2h-2zM304,83h2v2h-2zM308,83h2v2h-2zM320,83h2v2h-2zM338,83h2v2h-2zM360,83h2v2h-2zM378,83h2v2h-2zM406,83h2v2h-2zM430,83h2v2h-2zM304,85h2v2h-2zM312,85h2v2h-2zM316,85h2v2h-2zM326,85h2v2h-2zM344,85h2v2h-2zM364,85h2v2h-2zM384,85h2v2h-2zM304,87h2v2h-2zM316,87h2v2h-2zM322,87h2v2h-2zM326,87h2v2h-2zM330,87h2v2h-2zM346,87h2v2h-2zM360,87h2v2h-2zM378,87h2v2h-2zM442,87h6v2h-6zM336,89h4v2h-4zM348,89h2v2h-2zM360,89h2v2h-2zM374,89h2v2h-2zM382,89h2v2h-2zM364,91h2v2h-2zM442,91h2v2h-2zM304,93h2v2h-2zM322,93h2v2h-2zM444,93h2v2h-2zM306,95h4v2h-4zM312,95h2v2h-2zM330,95h2v2h-2zM344,95h4v2h-4zM386,95h2v2h-2zM420,95h4v2h-4zM430,95h2v2h-2zM306,97h2v2h-2zM310,97h2v2h-2zM314,97h4v2h-4zM326,97h2v2h-2zM330,97h2v2h-2zM334,97h2v2h-2zM342,97h2v2h-2zM350,97h2v2h-2zM418,97h2v2h-2zM310,99h2v2h-2zM316,99h4v2h-4zM338,99h2v2h-2zM360,99h2v2h-2zM380,99h4v2h-4zM440,99h2v2h-2zM446,99h2v2h-2zM306,101h2v2h-2zM364,101h2v2h-2zM378,101h2v2h-2zM384,101h2v2h-2zM444,101h2v2h-2zM370,103h2v2h-2zM380,103h2v2h-2zM428,103h4v2h-4zM328,105h2v2h-2zM340,105h2v2h-2zM344,105h2v2h-2zM370,105h2v2h-2zM382,105h2v2h-2zM406,105h2v2h-2zM306,107h2v2h-2zM340,107h2v2h-2zM370,107h2v2h-2zM384,107h2v2h-2zM414,107h2v2h-2zM448,107h2v2h-2zM344,109h2v2h-2zM362,109h2v2h-2zM440,109h2v2h-2zM306,111h2v2h-2zM322,111h2v2h-2zM370,111h2v2h-2zM410,111h2v2h-2zM416,111h2v2h-2zM424,111h2v2h-2zM440,111h4v2h-4zM448,111h2v2h-2zM322,113h2v2h-2zM326,113h2v2h-2zM336,113h4v2h-4zM362,113h2v2h-2zM432,113h2v2h-2zM370,115h2v2h-2zM416,115h2v2h-2zM420,115h2v2h-2zM430,115h2v2h-2zM308,117h2v2h-2zM328,117h2v2h-2zM448,117h2v2h-2zM314,119h2v2h-2zM378,119h2v2h-2zM410,119h2v2h-2zM362,121h2v2h-2zM370,121h2v2h-2zM400,121h2v2h-2zM306,123h2v2h-2zM326,123h2v2h-2zM386,123h2v2h-2zM424,123h2v2h-2zM434,123h2v2h-2zM364,125h2v2h-2zM368,125h2v2h-2zM408,125h2v2h-2zM364,127h2v2h-2zM370,127h2v2h-2zM418,127h2v2h-2zM360,129h2v2h-2zM386,129h2v2h-2zM432,129h2v2h-2zM360,131h2v2h-2zM444,131h2v2h-2zM454,131h2v2h-2zM360,133h2v2h-2zM442,133h2v2h-2zM378,135h2v2h-2zM386,135h2v2h-2zM438,135h2v2h-2zM440,137h2v2h-2zM404,139h2v2h-2zM402,141h2v2h-2zM408,141h2v2h-2zM414,141h2v2h-2zM418,141h2v2h-2zM424,141h2v2h-2zM404,143h2v2h-2zM448,143h2v2h-2zM310,145h2v2h-2zM414,145h2v2h-2zM442,145h4v2h-4z"/>
<path fill="#430711" d="M316,43h2v2h-2zM330,43h2v2h-2zM380,43h4v2h-4zM308,45h2v2h-2zM316,45h4v2h-4zM330,45h2v2h-2zM338,45h2v2h-2zM378,45h2v2h-2zM436,45h2v2h-2zM442,45h2v2h-2zM304,47h2v2h-2zM326,47h2v2h-2zM332,47h2v2h-2zM348,47h2v2h-2zM372,47h2v2h-2zM382,47h2v2h-2zM308,49h2v2h-2zM322,49h2v2h-2zM326,49h2v2h-2zM344,49h2v2h-2zM348,49h2v2h-2zM356,49h2v2h-2zM372,49h2v2h-2zM376,49h8v2h-8zM306,51h2v2h-2zM320,51h2v2h-2zM330,51h2v2h-2zM334,51h2v2h-2zM342,51h4v2h-4zM348,51h2v2h-2zM360,51h2v2h-2zM364,51h2v2h-2zM384,51h2v2h-2zM286,53h2v2h-2zM304,53h2v2h-2zM308,53h2v2h-2zM316,53h2v2h-2zM326,53h2v2h-2zM332,53h2v2h-2zM342,53h2v2h-2zM286,55h4v2h-4zM302,55h2v2h-2zM308,55h2v2h-2zM312,55h2v2h-2zM320,55h2v2h-2zM328,55h2v2h-2zM334,55h2v2h-2zM356,55h2v2h-2zM372,55h2v2h-2zM376,55h2v2h-2zM380,55h2v2h-2zM304,57h2v2h-2zM314,57h2v2h-2zM338,57h2v2h-2zM446,57h2v2h-2zM312,59h2v2h-2zM384,59h2v2h-2zM412,59h2v2h-2zM312,61h4v2h-4zM316,63h2v2h-2zM338,63h4v2h-4zM344,63h2v2h-2zM380,63h2v2h-2zM384,63h2v2h-2zM422,63h2v2h-2zM446,63h2v2h-2zM312,65h2v2h-2zM326,65h2v2h-2zM334,65h2v2h-2zM360,65h2v2h-2zM372,65h2v2h-2zM378,65h2v2h-2zM304,67h2v2h-2zM320,67h2v2h-2zM326,67h2v2h-2zM340,67h2v2h-2zM346,67h2v2h-2zM360,67h2v2h-2zM372,67h8v2h-8zM382,67h2v2h-2zM334,69h2v2h-2zM426,69h2v2h-2zM308,71h2v2h-2zM328,71h2v2h-2zM334,71h4v2h-4zM360,71h2v2h-2zM408,71h2v2h-2zM328,73h2v2h-2zM316,75h2v2h-2zM322,75h2v2h-2zM326,75h4v2h-4zM334,75h2v2h-2zM348,75h2v2h-2zM372,75h2v2h-2zM378,75h2v2h-2zM384,75h2v2h-2zM306,77h2v2h-2zM316,77h2v2h-2zM328,77h4v2h-4zM336,77h2v2h-2zM344,77h2v2h-2zM384,77h2v2h-2zM446,77h2v2h-2zM294,79h2v2h-2zM300,79h2v2h-2zM340,79h2v2h-2zM350,79h2v2h-2zM356,79h2v2h-2zM296,81h2v2h-2zM324,81h4v2h-4zM342,81h2v2h-2zM358,81h2v2h-2zM318,83h2v2h-2zM330,83h2v2h-2zM336,83h2v2h-2zM340,83h2v2h-2zM372,83h2v2h-2zM380,83h2v2h-2zM454,83h2v2h-2zM320,85h2v2h-2zM330,85h2v2h-2zM346,85h2v2h-2zM376,85h2v2h-2zM420,85h2v2h-2zM302,87h2v2h-2zM310,87h2v2h-2zM334,87h8v2h-8zM350,87h2v2h-2zM372,87h4v2h-4zM380,87h2v2h-2zM286,89h2v2h-2zM310,89h2v2h-2zM318,89h4v2h-4zM332,89h2v2h-2zM342,89h2v2h-2zM376,89h2v2h-2zM424,89h2v2h-2zM304,91h2v2h-2zM326,91h4v2h-4zM344,91h2v2h-2zM362,91h2v2h-2zM430,91h2v2h-2zM316,93h2v2h-2zM320,93h2v2h-2zM332,93h6v2h-6zM340,93h4v2h-4zM348,93h2v2h-2zM372,93h2v2h-2zM376,93h4v2h-4zM384,93h2v2h-2zM304,95h2v2h-2zM310,95h2v2h-2zM326,95h4v2h-4zM348,95h2v2h-2zM364,95h2v2h-2zM378,95h2v2h-2zM384,95h2v2h-2zM444,95h2v2h-2zM286,97h2v2h-2zM304,97h2v2h-2zM322,97h2v2h-2zM368,97h2v2h-2zM302,99h4v2h-4zM320,99h2v2h-2zM334,99h2v2h-2zM340,99h2v2h-2zM378,99h2v2h-2zM434,99h2v2h-2zM444,99h2v2h-2zM312,101h6v2h-6zM320,101h2v2h-2zM326,101h2v2h-2zM342,101h2v2h-2zM380,101h4v2h-4zM406,101h2v2h-2zM328,103h2v2h-2zM340,103h4v2h-4zM346,103h2v2h-2zM360,103h2v2h-2zM364,103h2v2h-2zM372,103h4v2h-4zM382,103h2v2h-2zM332,105h2v2h-2zM336,105h4v2h-4zM378,105h4v2h-4zM442,105h2v2h-2zM454,105h2v2h-2zM322,107h2v2h-2zM328,107h2v2h-2zM336,107h4v2h-4zM360,107h2v2h-2zM432,107h2v2h-2zM322,109h2v2h-2zM340,109h2v2h-2zM360,109h2v2h-2zM368,109h2v2h-2zM336,111h2v2h-2zM454,111h2v2h-2zM328,113h4v2h-4zM334,113h2v2h-2zM370,113h2v2h-2zM322,115h2v2h-2zM362,115h2v2h-2zM322,117h2v2h-2zM362,117h2v2h-2zM430,117h2v2h-2zM306,119h2v2h-2zM324,119h2v2h-2zM330,119h2v2h-2zM344,119h2v2h-2zM372,119h2v2h-2zM376,119h2v2h-2zM380,119h2v2h-2zM386,121h2v2h-2zM312,123h2v2h-2zM330,123h2v2h-2zM340,123h2v2h-2zM384,123h2v2h-2zM314,125h2v2h-2zM328,125h2v2h-2zM340,125h2v2h-2zM370,125h2v2h-2zM344,127h2v2h-2zM358,127h2v2h-2zM372,127h2v2h-2zM370,129h2v2h-2zM422,129h2v2h-2zM442,129h2v2h-2zM368,131h4v2h-4zM368,133h2v2h-2zM344,135h2v2h-2zM364,135h2v2h-2zM372,135h2v2h-2zM376,135h2v2h-2zM392,135h2v2h-2zM390,139h2v2h-2zM408,139h2v2h-2zM414,139h6v2h-6zM450,139h2v2h-2zM410,141h4v2h-4zM416,141h2v2h-2zM448,141h2v2h-2zM324,143h2v2h-2zM412,143h2v2h-2zM418,143h2v2h-2zM428,143h2v2h-2zM434,143h2v2h-2zM442,143h4v2h-4zM412,145h2v2h-2zM448,145h2v2h-2zM454,145h2v2h-2zM414,147h2v2h-2z"/>
<path fill="#4c0713" d="M302,43h2v2h-2zM306,43h2v2h-2zM318,43h2v2h-2zM322,43h2v2h-2zM332,43h2v2h-2zM358,43h2v2h-2zM372,43h4v2h-4zM446,43h2v2h-2zM322,45h2v2h-2zM332,45h2v2h-2zM342,45h2v2h-2zM346,45h4v2h-4zM380,45h2v2h-2zM286,47h2v2h-2zM302,47h2v2h-2zM320,47h2v2h-2zM346,47h2v2h-2zM380,47h2v2h-2zM286,49h2v2h-2zM300,49h2v2h-2zM374,49h2v2h-2zM302,51h2v2h-2zM316,51h2v2h-2zM346,51h2v2h-2zM350,51h2v2h-2zM378,51h2v2h-2zM422,51h2v2h-2zM290,53h2v2h-2zM302,53h2v2h-2zM318,53h2v2h-2zM346,53h6v2h-6zM356,53h2v2h-2zM370,53h2v2h-2zM380,53h2v2h-2zM318,55h2v2h-2zM330,55h2v2h-2zM346,55h4v2h-4zM358,55h2v2h-2zM336,57h2v2h-2zM340,57h2v2h-2zM344,57h2v2h-2zM362,57h2v2h-2zM378,57h2v2h-2zM450,57h2v2h-2zM304,59h6v2h-6zM336,59h2v2h-2zM340,59h2v2h-2zM364,59h2v2h-2zM376,59h4v2h-4zM442,59h2v2h-2zM454,59h2v2h-2zM362,61h2v2h-2zM376,61h2v2h-2zM418,61h2v2h-2zM454,61h2v2h-2zM308,63h2v2h-2zM312,63h2v2h-2zM322,63h2v2h-2zM334,63h4v2h-4zM342,63h2v2h-2zM306,65h2v2h-2zM316,65h2v2h-2zM320,65h2v2h-2zM336,65h6v2h-6zM344,65h2v2h-2zM374,65h4v2h-4zM286,67h2v2h-2zM306,67h4v2h-4zM330,67h2v2h-2zM342,67h2v2h-2zM348,67h2v2h-2zM304,69h2v2h-2zM312,69h2v2h-2zM316,69h2v2h-2zM322,69h2v2h-2zM336,69h2v2h-2zM340,69h6v2h-6zM360,69h2v2h-2zM364,69h2v2h-2zM442,69h4v2h-4zM300,71h2v2h-2zM312,71h2v2h-2zM316,71h2v2h-2zM320,71h2v2h-2zM332,71h2v2h-2zM346,71h2v2h-2zM372,71h2v2h-2zM382,71h2v2h-2zM308,73h2v2h-2zM312,73h2v2h-2zM322,73h2v2h-2zM334,73h2v2h-2zM378,73h2v2h-2zM304,75h2v2h-2zM318,75h2v2h-2zM330,75h4v2h-4zM342,75h2v2h-2zM346,75h2v2h-2zM380,75h2v2h-2zM300,77h4v2h-4zM340,77h4v2h-4zM374,77h2v2h-2zM380,77h2v2h-2zM296,79h2v2h-2zM286,81h2v2h-2zM294,81h2v2h-2zM298,81h2v2h-2zM310,81h2v2h-2zM352,81h4v2h-4zM300,83h4v2h-4zM312,83h2v2h-2zM324,83h2v2h-2zM342,83h2v2h-2zM350,83h2v2h-2zM382,83h2v2h-2zM302,85h2v2h-2zM306,85h4v2h-4zM318,85h2v2h-2zM322,85h2v2h-2zM336,85h6v2h-6zM348,85h2v2h-2zM360,85h2v2h-2zM372,85h4v2h-4zM378,85h2v2h-2zM436,85h2v2h-2zM300,87h2v2h-2zM324,87h2v2h-2zM332,87h2v2h-2zM382,87h2v2h-2zM300,89h2v2h-2zM324,89h2v2h-2zM340,89h2v2h-2zM372,89h2v2h-2zM312,91h2v2h-2zM330,91h2v2h-2zM378,91h2v2h-2zM384,91h2v2h-2zM448,91h2v2h-2zM296,93h2v2h-2zM318,93h2v2h-2zM324,93h2v2h-2zM356,93h2v2h-2zM316,95h2v2h-2zM368,95h2v2h-2zM320,97h2v2h-2zM332,97h2v2h-2zM336,97h2v2h-2zM340,97h2v2h-2zM378,97h4v2h-4zM384,97h2v2h-2zM324,99h2v2h-2zM332,99h2v2h-2zM350,99h2v2h-2zM358,99h2v2h-2zM372,99h6v2h-6zM308,101h2v2h-2zM338,101h2v2h-2zM348,101h2v2h-2zM422,101h2v2h-2zM436,101h4v2h-4zM304,103h6v2h-6zM314,103h2v2h-2zM322,103h2v2h-2zM330,103h2v2h-2zM304,105h4v2h-4zM314,105h2v2h-2zM330,105h2v2h-2zM342,105h2v2h-2zM346,105h2v2h-2zM356,105h4v2h-4zM434,105h2v2h-2zM342,107h2v2h-2zM346,107h2v2h-2zM364,107h2v2h-2zM368,107h2v2h-2zM382,107h2v2h-2zM406,107h2v2h-2zM326,109h6v2h-6zM336,109h2v2h-2zM364,109h2v2h-2zM370,109h2v2h-2zM448,109h2v2h-2zM304,111h2v2h-2zM308,111h2v2h-2zM328,111h2v2h-2zM362,111h2v2h-2zM304,113h6v2h-6zM340,113h2v2h-2zM378,113h2v2h-2zM412,113h2v2h-2zM426,113h2v2h-2zM444,113h2v2h-2zM306,115h2v2h-2zM326,115h6v2h-6zM334,115h6v2h-6zM378,115h2v2h-2zM406,115h2v2h-2zM326,117h2v2h-2zM334,117h2v2h-2zM286,119h2v2h-2zM308,119h6v2h-6zM318,119h4v2h-4zM332,119h2v2h-2zM338,119h4v2h-4zM382,119h2v2h-2zM314,121h2v2h-2zM326,121h2v2h-2zM360,121h2v2h-2zM364,121h2v2h-2zM406,121h2v2h-2zM414,121h2v2h-2zM420,121h2v2h-2zM452,121h2v2h-2zM304,123h2v2h-2zM308,123h2v2h-2zM316,123h2v2h-2zM332,123h4v2h-4zM338,123h2v2h-2zM344,123h2v2h-2zM372,123h2v2h-2zM378,123h4v2h-4zM344,125h2v2h-2zM304,127h2v2h-2zM348,127h2v2h-2zM364,129h2v2h-2zM368,129h2v2h-2zM450,129h2v2h-2zM328,131h2v2h-2zM344,131h4v2h-4zM422,131h2v2h-2zM438,131h2v2h-2zM344,133h2v2h-2zM364,133h2v2h-2zM346,135h2v2h-2zM402,137h2v2h-2zM434,137h2v2h-2zM428,139h2v2h-2zM434,139h2v2h-2zM448,139h2v2h-2zM444,141h2v2h-2zM454,141h2v2h-2zM416,143h2v2h-2zM426,143h2v2h-2zM430,143h4v2h-4zM450,143h2v2h-2zM390,145h2v2h-2zM402,145h4v2h-4zM416,145h2v2h-2zM424,145h2v2h-2zM428,145h2v2h-2zM446,147h2v2h-2zM452,147h2v2h-2z"/>
<path fill="#550714" d="M300,43h2v2h-2zM310,43h2v2h-2zM350,43h2v2h-2zM354,43h4v2h-4zM452,43h2v2h-2zM324,45h2v2h-2zM350,45h2v2h-2zM356,45h4v2h-4zM372,45h2v2h-2zM376,45h2v2h-2zM382,45h4v2h-4zM300,47h2v2h-2zM310,47h2v2h-2zM324,47h2v2h-2zM350,47h2v2h-2zM358,47h2v2h-2zM374,47h2v2h-2zM288,49h2v2h-2zM302,49h2v2h-2zM310,49h2v2h-2zM346,49h2v2h-2zM350,49h2v2h-2zM286,51h4v2h-4zM318,51h2v2h-2zM322,51h2v2h-2zM326,51h2v2h-2zM356,51h2v2h-2zM374,51h4v2h-4zM382,51h2v2h-2zM288,53h2v2h-2zM312,53h2v2h-2zM322,53h2v2h-2zM354,53h2v2h-2zM376,53h2v2h-2zM382,53h2v2h-2zM284,55h2v2h-2zM294,55h4v2h-4zM300,55h2v2h-2zM310,55h2v2h-2zM322,55h2v2h-2zM326,55h2v2h-2zM352,55h2v2h-2zM286,57h2v2h-2zM308,57h2v2h-2zM312,57h2v2h-2zM330,57h2v2h-2zM334,57h2v2h-2zM342,57h2v2h-2zM360,57h2v2h-2zM364,57h2v2h-2zM380,57h2v2h-2zM414,57h2v2h-2zM322,59h2v2h-2zM332,59h2v2h-2zM338,59h2v2h-2zM342,59h2v2h-2zM362,59h2v2h-2zM372,59h4v2h-4zM382,59h2v2h-2zM306,61h4v2h-4zM316,61h2v2h-2zM320,61h2v2h-2zM334,61h2v2h-2zM338,61h2v2h-2zM344,61h2v2h-2zM372,61h4v2h-4zM378,61h2v2h-2zM306,63h2v2h-2zM318,63h4v2h-4zM328,63h2v2h-2zM346,63h2v2h-2zM360,63h2v2h-2zM382,63h2v2h-2zM442,63h2v2h-2zM308,65h2v2h-2zM318,65h2v2h-2zM328,65h4v2h-4zM380,65h4v2h-4zM444,65h2v2h-2zM316,67h2v2h-2zM324,67h2v2h-2zM308,69h2v2h-2zM318,69h4v2h-4zM328,69h4v2h-4zM338,69h2v2h-2zM348,69h2v2h-2zM376,69h2v2h-2zM380,69h2v2h-2zM452,69h2v2h-2zM304,71h4v2h-4zM330,71h2v2h-2zM342,71h2v2h-2zM374,71h2v2h-2zM380,71h2v2h-2zM430,71h2v2h-2zM300,73h2v2h-2zM316,73h2v2h-2zM320,73h2v2h-2zM326,73h2v2h-2zM330,73h2v2h-2zM346,73h2v2h-2zM372,73h2v2h-2zM376,73h2v2h-2zM380,73h4v2h-4zM448,73h2v2h-2zM300,75h2v2h-2zM308,75h2v2h-2zM320,75h2v2h-2zM324,75h2v2h-2zM356,75h2v2h-2zM374,75h4v2h-4zM382,75h2v2h-2zM418,75h2v2h-2zM422,75h2v2h-2zM286,77h2v2h-2zM296,77h2v2h-2zM304,77h2v2h-2zM308,77h2v2h-2zM332,77h4v2h-4zM338,77h2v2h-2zM348,77h2v2h-2zM358,77h2v2h-2zM372,77h2v2h-2zM376,77h2v2h-2zM382,77h2v2h-2zM286,79h2v2h-2zM298,79h2v2h-2zM310,79h2v2h-2zM352,79h4v2h-4zM358,79h2v2h-2zM288,81h2v2h-2zM296,83h2v2h-2zM310,83h2v2h-2zM332,83h2v2h-2zM374,83h2v2h-2zM332,85h2v2h-2zM350,85h2v2h-2zM380,85h2v2h-2zM286,87h2v2h-2zM294,87h4v2h-4zM318,87h4v2h-4zM342,87h2v2h-2zM294,89h4v2h-4zM350,89h2v2h-2zM356,89h4v2h-4zM316,91h2v2h-2zM322,91h2v2h-2zM336,91h2v2h-2zM346,91h4v2h-4zM372,91h2v2h-2zM376,91h2v2h-2zM380,91h2v2h-2zM446,91h2v2h-2zM286,93h4v2h-4zM294,93h2v2h-2zM300,93h4v2h-4zM350,93h2v2h-2zM374,93h2v2h-2zM380,93h4v2h-4zM450,95h2v2h-2zM302,97h2v2h-2zM324,97h2v2h-2zM356,97h4v2h-4zM372,97h2v2h-2zM376,97h2v2h-2zM382,97h2v2h-2zM300,99h2v2h-2zM306,99h2v2h-2zM336,99h2v2h-2zM356,99h2v2h-2zM304,101h2v2h-2zM330,101h4v2h-4zM336,101h2v2h-2zM372,101h2v2h-2zM376,101h2v2h-2zM430,101h2v2h-2zM326,103h2v2h-2zM336,103h4v2h-4zM378,103h2v2h-2zM444,103h2v2h-2zM302,105h2v2h-2zM308,105h2v2h-2zM312,105h2v2h-2zM318,105h6v2h-6zM326,105h2v2h-2zM348,105h2v2h-2zM372,105h2v2h-2zM376,105h2v2h-2zM304,107h2v2h-2zM308,107h2v2h-2zM314,107h2v2h-2zM320,107h2v2h-2zM326,107h2v2h-2zM334,107h2v2h-2zM358,107h2v2h-2zM306,109h4v2h-4zM314,109h2v2h-2zM320,109h2v2h-2zM334,109h2v2h-2zM428,109h2v2h-2zM446,109h2v2h-2zM326,111h2v2h-2zM342,111h2v2h-2zM386,111h2v2h-2zM414,111h2v2h-2zM380,113h4v2h-4zM304,115h2v2h-2zM308,115h2v2h-2zM324,115h2v2h-2zM382,115h2v2h-2zM386,115h2v2h-2zM412,115h2v2h-2zM306,117h2v2h-2zM330,117h2v2h-2zM336,117h2v2h-2zM340,117h2v2h-2zM360,117h2v2h-2zM380,117h2v2h-2zM304,119h2v2h-2zM316,119h2v2h-2zM334,119h4v2h-4zM348,119h2v2h-2zM358,119h2v2h-2zM374,119h2v2h-2zM308,121h2v2h-2zM312,121h2v2h-2zM322,121h2v2h-2zM328,121h4v2h-4zM368,121h2v2h-2zM302,123h2v2h-2zM310,123h2v2h-2zM320,123h2v2h-2zM336,123h2v2h-2zM342,123h2v2h-2zM358,123h2v2h-2zM382,123h2v2h-2zM308,125h2v2h-2zM312,125h2v2h-2zM372,125h2v2h-2zM442,125h2v2h-2zM308,127h2v2h-2zM314,127h2v2h-2zM328,127h2v2h-2zM342,127h2v2h-2zM346,127h2v2h-2zM376,127h2v2h-2zM384,127h2v2h-2zM344,129h6v2h-6zM306,131h2v2h-2zM364,131h2v2h-2zM372,131h2v2h-2zM384,131h2v2h-2zM346,133h4v2h-4zM372,133h2v2h-2zM376,133h4v2h-4zM384,133h2v2h-2zM348,135h2v2h-2zM358,135h2v2h-2zM374,135h2v2h-2zM380,135h2v2h-2zM384,135h2v2h-2zM418,137h2v2h-2zM428,137h4v2h-4zM448,137h2v2h-2zM402,139h2v2h-2zM412,139h2v2h-2zM444,139h2v2h-2zM454,139h2v2h-2zM450,145h4v2h-4zM424,147h2v2h-2zM438,147h2v2h-2z"/>
<path fill="#5e0816" d="M284,43h2v2h-2zM324,43h2v2h-2zM352,43h2v2h-2zM300,45h2v2h-2zM320,45h2v2h-2zM334,45h2v2h-2zM374,45h2v2h-2zM294,47h2v2h-2zM352,47h4v2h-4zM294,49h4v2h-4zM358,49h2v2h-2zM284,51h2v2h-2zM294,51h2v2h-2zM300,51h2v2h-2zM324,51h2v2h-2zM354,51h2v2h-2zM358,51h2v2h-2zM320,53h2v2h-2zM358,53h2v2h-2zM372,53h4v2h-4zM384,53h2v2h-2zM290,55h2v2h-2zM354,55h2v2h-2zM374,55h2v2h-2zM288,57h2v2h-2zM300,57h4v2h-4zM316,57h4v2h-4zM322,57h2v2h-2zM328,57h2v2h-2zM346,57h2v2h-2zM376,57h2v2h-2zM382,57h2v2h-2zM286,59h2v2h-2zM310,59h2v2h-2zM318,59h4v2h-4zM328,59h4v2h-4zM334,59h2v2h-2zM380,59h2v2h-2zM302,61h4v2h-4zM310,61h2v2h-2zM328,61h6v2h-6zM336,61h2v2h-2zM340,61h4v2h-4zM346,61h2v2h-2zM360,61h2v2h-2zM380,61h4v2h-4zM286,63h2v2h-2zM304,63h2v2h-2zM310,63h2v2h-2zM330,63h4v2h-4zM348,63h2v2h-2zM304,65h2v2h-2zM332,65h2v2h-2zM342,65h2v2h-2zM442,65h2v2h-2zM288,67h2v2h-2zM294,67h2v2h-2zM302,67h2v2h-2zM310,67h2v2h-2zM444,67h2v2h-2zM346,69h2v2h-2zM372,69h2v2h-2zM378,69h2v2h-2zM286,71h4v2h-4zM294,71h4v2h-4zM318,71h2v2h-2zM324,71h2v2h-2zM348,71h2v2h-2zM376,71h4v2h-4zM286,73h4v2h-4zM294,73h2v2h-2zM302,73h2v2h-2zM318,73h2v2h-2zM324,73h2v2h-2zM332,73h2v2h-2zM348,73h2v2h-2zM358,73h2v2h-2zM374,73h2v2h-2zM444,73h2v2h-2zM286,75h4v2h-4zM302,75h2v2h-2zM310,75h4v2h-4zM358,75h2v2h-2zM426,75h2v2h-2zM288,77h2v2h-2zM294,77h2v2h-2zM324,77h2v2h-2zM356,77h2v2h-2zM288,79h2v2h-2zM290,81h4v2h-4zM286,83h2v2h-2zM354,83h4v2h-4zM294,85h2v2h-2zM300,85h2v2h-2zM334,85h2v2h-2zM342,85h2v2h-2zM356,85h2v2h-2zM382,85h2v2h-2zM308,87h2v2h-2zM356,87h4v2h-4zM288,89h4v2h-4zM354,89h2v2h-2zM288,91h2v2h-2zM310,91h2v2h-2zM340,91h4v2h-4zM350,91h2v2h-2zM360,91h2v2h-2zM374,91h2v2h-2zM290,93h2v2h-2zM338,93h2v2h-2zM358,93h2v2h-2zM286,95h2v2h-2zM290,95h2v2h-2zM302,95h2v2h-2zM320,95h4v2h-4zM334,95h6v2h-6zM350,95h2v2h-2zM356,95h6v2h-6zM372,95h2v2h-2zM376,95h2v2h-2zM380,95h2v2h-2zM288,97h4v2h-4zM338,97h2v2h-2zM352,97h2v2h-2zM374,97h2v2h-2zM296,99h2v2h-2zM354,99h2v2h-2zM302,101h2v2h-2zM310,101h2v2h-2zM318,101h2v2h-2zM324,101h2v2h-2zM334,101h2v2h-2zM346,101h2v2h-2zM350,101h4v2h-4zM356,101h2v2h-2zM374,101h2v2h-2zM316,103h2v2h-2zM320,103h2v2h-2zM332,103h4v2h-4zM356,103h4v2h-4zM334,105h2v2h-2zM350,105h4v2h-4zM312,107h2v2h-2zM318,107h2v2h-2zM324,107h2v2h-2zM330,107h4v2h-4zM344,107h2v2h-2zM356,107h2v2h-2zM378,107h4v2h-4zM318,109h2v2h-2zM324,109h2v2h-2zM338,109h2v2h-2zM342,109h2v2h-2zM346,109h4v2h-4zM354,109h4v2h-4zM378,109h2v2h-2zM382,109h4v2h-4zM452,109h2v2h-2zM330,111h4v2h-4zM344,111h2v2h-2zM312,113h2v2h-2zM324,113h2v2h-2zM342,113h2v2h-2zM360,113h2v2h-2zM372,113h2v2h-2zM386,113h2v2h-2zM312,115h2v2h-2zM332,115h2v2h-2zM380,115h2v2h-2zM304,117h2v2h-2zM372,117h2v2h-2zM378,117h2v2h-2zM382,117h2v2h-2zM386,117h2v2h-2zM284,119h2v2h-2zM342,119h2v2h-2zM356,119h2v2h-2zM304,121h4v2h-4zM344,121h2v2h-2zM286,123h2v2h-2zM318,123h2v2h-2zM346,123h2v2h-2zM376,123h2v2h-2zM306,125h2v2h-2zM330,125h2v2h-2zM358,125h2v2h-2zM380,125h2v2h-2zM384,125h2v2h-2zM320,127h2v2h-2zM326,127h2v2h-2zM434,127h2v2h-2zM304,129h6v2h-6zM314,129h2v2h-2zM356,129h2v2h-2zM372,129h2v2h-2zM384,129h2v2h-2zM418,129h2v2h-2zM440,129h2v2h-2zM340,131h4v2h-4zM348,131h2v2h-2zM358,131h2v2h-2zM376,131h4v2h-4zM306,133h2v2h-2zM322,133h2v2h-2zM340,133h2v2h-2zM358,133h2v2h-2zM374,133h2v2h-2zM380,133h2v2h-2zM314,135h2v2h-2zM340,135h4v2h-4zM356,135h2v2h-2zM390,137h2v2h-2zM404,137h4v2h-4zM436,137h2v2h-2zM394,139h2v2h-2zM430,139h2v2h-2zM436,139h2v2h-2zM390,141h2v2h-2zM396,141h2v2h-2zM434,141h2v2h-2zM420,143h2v2h-2zM394,147h2v2h-2zM412,147h2v2h-2zM416,147h2v2h-2zM426,147h2v2h-2z"/>
<path fill="#670817" d="M286,43h4v2h-4zM294,43h2v2h-2zM310,45h2v2h-2zM352,45h2v2h-2zM288,47h2v2h-2zM296,47h4v2h-4zM352,49h4v2h-4zM292,51h2v2h-2zM310,53h2v2h-2zM324,53h2v2h-2zM352,53h2v2h-2zM292,55h2v2h-2zM324,55h2v2h-2zM350,55h2v2h-2zM290,57h2v2h-2zM320,57h2v2h-2zM332,57h2v2h-2zM372,57h4v2h-4zM316,59h2v2h-2zM326,59h2v2h-2zM348,59h2v2h-2zM360,59h2v2h-2zM318,61h2v2h-2zM322,61h2v2h-2zM326,61h2v2h-2zM348,61h2v2h-2zM288,63h2v2h-2zM326,63h2v2h-2zM286,65h6v2h-6zM294,65h2v2h-2zM300,65h2v2h-2zM346,65h2v2h-2zM284,67h2v2h-2zM290,67h2v2h-2zM296,67h2v2h-2zM300,67h2v2h-2zM332,67h2v2h-2zM350,67h2v2h-2zM354,67h6v2h-6zM422,67h2v2h-2zM286,69h2v2h-2zM302,69h2v2h-2zM306,69h2v2h-2zM326,69h2v2h-2zM382,69h2v2h-2zM420,69h2v2h-2zM302,71h2v2h-2zM356,71h4v2h-4zM296,73h2v2h-2zM310,73h2v2h-2zM294,75h2v2h-2zM310,77h2v2h-2zM290,79h4v2h-4zM284,81h2v2h-2zM288,83h2v2h-2zM294,83h2v2h-2zM298,83h2v2h-2zM352,83h2v2h-2zM358,83h2v2h-2zM298,85h2v2h-2zM310,85h2v2h-2zM352,85h2v2h-2zM288,87h4v2h-4zM298,87h2v2h-2zM292,89h2v2h-2zM298,89h2v2h-2zM352,89h2v2h-2zM294,91h2v2h-2zM302,91h2v2h-2zM318,91h2v2h-2zM324,91h2v2h-2zM332,91h4v2h-4zM338,91h2v2h-2zM382,91h2v2h-2zM284,93h2v2h-2zM288,95h2v2h-2zM294,95h2v2h-2zM300,95h2v2h-2zM318,95h2v2h-2zM324,95h2v2h-2zM332,95h2v2h-2zM340,95h4v2h-4zM374,95h2v2h-2zM382,95h2v2h-2zM292,97h10v2h-10zM354,97h2v2h-2zM290,99h2v2h-2zM294,99h2v2h-2zM298,99h2v2h-2zM352,99h2v2h-2zM294,101h2v2h-2zM300,101h2v2h-2zM354,101h2v2h-2zM358,101h2v2h-2zM300,103h4v2h-4zM310,103h2v2h-2zM318,103h2v2h-2zM348,103h2v2h-2zM376,103h2v2h-2zM296,105h2v2h-2zM354,105h2v2h-2zM374,105h2v2h-2zM316,107h2v2h-2zM348,107h2v2h-2zM304,109h2v2h-2zM358,109h2v2h-2zM376,109h2v2h-2zM380,109h2v2h-2zM310,111h2v2h-2zM324,111h2v2h-2zM360,111h2v2h-2zM378,111h4v2h-4zM428,111h2v2h-2zM310,113h2v2h-2zM332,113h2v2h-2zM360,115h2v2h-2zM372,115h2v2h-2zM324,117h2v2h-2zM332,117h2v2h-2zM338,117h2v2h-2zM384,117h2v2h-2zM320,121h2v2h-2zM336,121h2v2h-2zM372,121h4v2h-4zM380,121h2v2h-2zM384,121h2v2h-2zM322,123h2v2h-2zM356,123h2v2h-2zM374,123h2v2h-2zM302,125h4v2h-4zM326,125h2v2h-2zM332,125h2v2h-2zM338,125h2v2h-2zM342,125h2v2h-2zM346,125h4v2h-4zM378,125h2v2h-2zM382,125h2v2h-2zM286,127h2v2h-2zM302,127h2v2h-2zM312,127h2v2h-2zM316,127h4v2h-4zM330,127h4v2h-4zM336,127h2v2h-2zM356,127h2v2h-2zM374,127h2v2h-2zM378,127h2v2h-2zM382,127h2v2h-2zM286,129h2v2h-2zM326,129h2v2h-2zM358,129h2v2h-2zM308,131h2v2h-2zM314,131h2v2h-2zM326,131h2v2h-2zM356,131h2v2h-2zM374,131h2v2h-2zM382,131h2v2h-2zM342,133h2v2h-2zM356,133h2v2h-2zM306,135h4v2h-4zM318,135h2v2h-2zM354,135h2v2h-2zM394,137h4v2h-4zM412,137h2v2h-2zM416,137h2v2h-2zM438,137h2v2h-2zM446,137h2v2h-2zM388,139h2v2h-2zM442,139h2v2h-2zM404,141h2v2h-2zM430,141h2v2h-2zM450,141h2v2h-2zM388,143h2v2h-2zM396,143h2v2h-2zM438,143h2v2h-2zM452,143h2v2h-2zM396,145h2v2h-2zM406,145h2v2h-2zM430,145h2v2h-2zM388,147h2v2h-2zM396,147h2v2h-2zM408,147h2v2h-2zM454,147h2v2h-2z"/>
<path fill="#700819" d="M298,43h2v2h-2zM284,45h4v2h-4zM294,45h4v2h-4zM354,45h2v2h-2zM284,47h2v2h-2zM356,47h2v2h-2zM284,49h2v2h-2zM290,49h2v2h-2zM324,49h2v2h-2zM290,51h2v2h-2zM352,51h2v2h-2zM380,51h2v2h-2zM284,53h2v2h-2zM292,53h6v2h-6zM298,55h2v2h-2zM296,57h2v2h-2zM310,57h2v2h-2zM326,57h2v2h-2zM352,57h2v2h-2zM356,57h2v2h-2zM288,59h2v2h-2zM294,59h2v2h-2zM300,59h2v2h-2zM346,59h2v2h-2zM358,59h2v2h-2zM286,61h2v2h-2zM294,61h2v2h-2zM290,63h2v2h-2zM294,63h2v2h-2zM300,63h4v2h-4zM324,63h2v2h-2zM356,63h2v2h-2zM292,65h2v2h-2zM302,65h2v2h-2zM310,65h2v2h-2zM324,65h2v2h-2zM348,65h2v2h-2zM358,65h2v2h-2zM292,67h2v2h-2zM300,69h2v2h-2zM310,69h2v2h-2zM284,71h2v2h-2zM290,71h2v2h-2zM298,71h2v2h-2zM326,71h2v2h-2zM354,71h2v2h-2zM298,73h2v2h-2zM352,73h6v2h-6zM284,75h2v2h-2zM290,75h2v2h-2zM296,75h2v2h-2zM352,75h4v2h-4zM290,77h4v2h-4zM298,77h2v2h-2zM350,77h2v2h-2zM354,77h2v2h-2zM284,79h2v2h-2zM290,85h2v2h-2zM324,85h2v2h-2zM358,85h2v2h-2zM438,85h2v2h-2zM284,87h2v2h-2zM352,87h4v2h-4zM300,91h2v2h-2zM320,91h2v2h-2zM358,91h2v2h-2zM292,93h2v2h-2zM298,93h2v2h-2zM352,93h4v2h-4zM436,95h2v2h-2zM284,97h2v2h-2zM284,99h2v2h-2zM288,99h2v2h-2zM292,99h2v2h-2zM286,101h4v2h-4zM296,101h2v2h-2zM296,103h4v2h-4zM324,103h2v2h-2zM350,103h2v2h-2zM294,105h2v2h-2zM298,105h4v2h-4zM316,105h2v2h-2zM324,105h2v2h-2zM286,107h2v2h-2zM298,107h2v2h-2zM302,107h2v2h-2zM350,107h6v2h-6zM372,107h2v2h-2zM376,107h2v2h-2zM436,107h2v2h-2zM312,109h2v2h-2zM350,109h2v2h-2zM374,109h2v2h-2zM312,111h2v2h-2zM318,111h4v2h-4zM346,111h2v2h-2zM384,111h2v2h-2zM294,113h2v2h-2zM356,113h2v2h-2zM384,113h2v2h-2zM294,115h2v2h-2zM302,115h2v2h-2zM344,115h2v2h-2zM384,115h2v2h-2zM436,115h2v2h-2zM314,117h2v2h-2zM320,117h2v2h-2zM342,117h4v2h-4zM412,117h2v2h-2zM446,117h2v2h-2zM288,119h4v2h-4zM296,119h2v2h-2zM300,119h4v2h-4zM350,119h2v2h-2zM354,119h2v2h-2zM316,121h4v2h-4zM324,121h2v2h-2zM332,121h4v2h-4zM338,121h4v2h-4zM346,121h2v2h-2zM376,121h4v2h-4zM284,123h2v2h-2zM300,123h2v2h-2zM324,123h2v2h-2zM348,123h2v2h-2zM284,125h4v2h-4zM322,125h4v2h-4zM334,125h4v2h-4zM356,125h2v2h-2zM374,125h4v2h-4zM284,127h2v2h-2zM310,127h2v2h-2zM322,127h2v2h-2zM334,127h2v2h-2zM338,127h2v2h-2zM312,129h2v2h-2zM318,129h2v2h-2zM322,129h2v2h-2zM328,129h2v2h-2zM334,129h6v2h-6zM342,129h2v2h-2zM374,129h6v2h-6zM286,131h4v2h-4zM304,131h2v2h-2zM322,131h2v2h-2zM334,131h4v2h-4zM286,133h2v2h-2zM304,133h2v2h-2zM312,133h6v2h-6zM320,133h2v2h-2zM326,133h4v2h-4zM336,133h2v2h-2zM382,133h2v2h-2zM286,135h2v2h-2zM304,135h2v2h-2zM312,135h2v2h-2zM316,135h2v2h-2zM320,135h4v2h-4zM326,135h6v2h-6zM338,135h2v2h-2zM350,135h2v2h-2zM382,135h2v2h-2zM444,137h2v2h-2zM450,137h2v2h-2zM396,139h2v2h-2zM394,141h2v2h-2zM436,141h4v2h-4zM400,143h4v2h-4zM454,143h2v2h-2zM446,145h2v2h-2zM402,147h2v2h-2zM434,147h4v2h-4z"/>
<path fill="#79091b" d="M290,43h4v2h-4zM296,43h2v2h-2zM288,45h2v2h-2zM298,45h2v2h-2zM302,45h2v2h-2zM290,47h4v2h-4zM292,49h2v2h-2zM298,49h2v2h-2zM284,57h2v2h-2zM294,57h2v2h-2zM348,57h4v2h-4zM358,57h2v2h-2zM284,59h2v2h-2zM296,59h4v2h-4zM302,59h2v2h-2zM356,59h2v2h-2zM288,61h2v2h-2zM296,61h2v2h-2zM300,61h2v2h-2zM324,61h2v2h-2zM292,63h2v2h-2zM296,63h2v2h-2zM350,63h2v2h-2zM354,63h2v2h-2zM296,65h2v2h-2zM350,65h2v2h-2zM356,65h2v2h-2zM352,67h2v2h-2zM284,69h2v2h-2zM288,69h4v2h-4zM294,69h6v2h-6zM332,69h2v2h-2zM350,69h2v2h-2zM356,69h2v2h-2zM292,71h2v2h-2zM350,71h2v2h-2zM284,73h2v2h-2zM290,73h2v2h-2zM350,73h2v2h-2zM292,75h2v2h-2zM298,75h2v2h-2zM350,75h2v2h-2zM288,85h2v2h-2zM296,85h2v2h-2zM354,85h2v2h-2zM286,91h2v2h-2zM290,91h4v2h-4zM296,91h4v2h-4zM292,95h2v2h-2zM352,95h2v2h-2zM298,101h2v2h-2zM352,103h4v2h-4zM286,105h2v2h-2zM310,105h2v2h-2zM290,107h2v2h-2zM294,107h4v2h-4zM300,107h2v2h-2zM310,107h2v2h-2zM374,107h2v2h-2zM294,109h2v2h-2zM310,109h2v2h-2zM332,109h2v2h-2zM352,109h2v2h-2zM294,111h2v2h-2zM350,111h6v2h-6zM296,113h2v2h-2zM314,113h2v2h-2zM318,113h4v2h-4zM344,113h2v2h-2zM350,113h6v2h-6zM310,115h2v2h-2zM318,115h4v2h-4zM350,115h6v2h-6zM358,115h2v2h-2zM376,115h2v2h-2zM294,117h2v2h-2zM310,117h4v2h-4zM318,117h2v2h-2zM358,117h2v2h-2zM294,119h2v2h-2zM346,119h2v2h-2zM352,119h2v2h-2zM310,121h2v2h-2zM342,121h2v2h-2zM356,121h4v2h-4zM382,121h2v2h-2zM296,123h4v2h-4zM354,123h2v2h-2zM300,125h2v2h-2zM316,125h4v2h-4zM294,127h2v2h-2zM300,127h2v2h-2zM350,127h2v2h-2zM354,127h2v2h-2zM380,127h2v2h-2zM288,129h2v2h-2zM316,129h2v2h-2zM320,129h2v2h-2zM330,129h2v2h-2zM340,129h2v2h-2zM350,129h2v2h-2zM380,129h4v2h-4zM294,131h2v2h-2zM312,131h2v2h-2zM316,131h6v2h-6zM330,131h4v2h-4zM338,131h2v2h-2zM350,131h2v2h-2zM354,131h2v2h-2zM380,131h2v2h-2zM288,133h2v2h-2zM308,133h2v2h-2zM330,133h2v2h-2zM334,133h2v2h-2zM338,133h2v2h-2zM350,133h6v2h-6zM294,135h2v2h-2zM310,135h2v2h-2zM332,135h2v2h-2zM336,135h2v2h-2zM400,137h2v2h-2zM424,137h2v2h-2zM452,137h4v2h-4zM420,141h2v2h-2zM428,141h2v2h-2zM446,141h2v2h-2zM452,141h2v2h-2zM394,143h2v2h-2zM422,143h2v2h-2zM436,143h2v2h-2zM408,145h2v2h-2zM436,145h4v2h-4zM404,147h2v2h-2zM420,147h2v2h-2zM430,147h2v2h-2z"/>
<path fill="#82091c" d="M292,45h2v2h-2zM296,51h4v2h-4zM310,51h2v2h-2zM298,53h2v2h-2zM354,57h2v2h-2zM292,59h2v2h-2zM350,59h6v2h-6zM284,61h2v2h-2zM290,61h2v2h-2zM350,61h4v2h-4zM356,61h2v2h-2zM358,63h2v2h-2zM298,65h2v2h-2zM352,65h2v2h-2zM298,67h2v2h-2zM352,69h2v2h-2zM358,69h2v2h-2zM374,69h2v2h-2zM292,73h2v2h-2zM292,83h2v2h-2zM286,85h2v2h-2zM292,85h2v2h-2zM292,87h2v2h-2zM354,91h2v2h-2zM296,95h2v2h-2zM354,95h2v2h-2zM286,99h2v2h-2zM290,101h4v2h-4zM284,103h6v2h-6zM294,103h2v2h-2zM312,103h2v2h-2zM292,105h2v2h-2zM284,107h2v2h-2zM288,107h2v2h-2zM286,109h2v2h-2zM296,109h2v2h-2zM302,109h2v2h-2zM316,109h2v2h-2zM300,111h2v2h-2zM316,111h2v2h-2zM348,111h2v2h-2zM300,113h4v2h-4zM316,113h2v2h-2zM296,115h2v2h-2zM296,117h2v2h-2zM352,117h2v2h-2zM376,117h2v2h-2zM292,119h2v2h-2zM286,121h4v2h-4zM300,121h4v2h-4zM350,121h2v2h-2zM354,121h2v2h-2zM288,123h2v2h-2zM350,123h2v2h-2zM288,125h2v2h-2zM294,125h2v2h-2zM288,127h4v2h-4zM324,127h2v2h-2zM300,129h2v2h-2zM324,129h2v2h-2zM332,129h2v2h-2zM284,131h2v2h-2zM290,131h2v2h-2zM302,131h2v2h-2zM310,131h2v2h-2zM294,133h2v2h-2zM302,133h2v2h-2zM318,133h2v2h-2zM284,135h2v2h-2zM288,135h4v2h-4zM296,135h4v2h-4zM334,135h2v2h-2zM388,137h2v2h-2zM424,139h2v2h-2zM400,141h2v2h-2zM406,143h2v2h-2zM446,143h2v2h-2zM388,145h2v2h-2zM422,145h2v2h-2zM400,147h2v2h-2zM406,147h2v2h-2z"/>
<path fill="#8b0c1e" d="M290,45h2v2h-2zM300,53h2v2h-2zM292,57h2v2h-2zM298,57h2v2h-2zM324,57h2v2h-2zM324,59h2v2h-2zM292,61h2v2h-2zM354,61h2v2h-2zM358,61h2v2h-2zM284,63h2v2h-2zM298,63h2v2h-2zM352,63h2v2h-2zM354,65h2v2h-2zM292,69h2v2h-2zM310,71h2v2h-2zM352,71h2v2h-2zM284,85h2v2h-2zM352,91h2v2h-2zM298,95h2v2h-2zM284,101h2v2h-2zM290,103h2v2h-2zM284,105h2v2h-2zM288,105h4v2h-4zM284,109h2v2h-2zM288,109h4v2h-4zM298,109h4v2h-4zM302,111h2v2h-2zM356,111h4v2h-4zM372,111h2v2h-2zM382,111h2v2h-2zM346,113h4v2h-4zM358,113h2v2h-2zM300,115h2v2h-2zM342,115h2v2h-2zM346,115h2v2h-2zM374,115h2v2h-2zM302,117h2v2h-2zM316,117h2v2h-2zM348,117h2v2h-2zM354,117h4v2h-4zM298,119h2v2h-2zM284,121h2v2h-2zM348,121h2v2h-2zM352,121h2v2h-2zM290,123h2v2h-2zM352,123h2v2h-2zM350,125h2v2h-2zM354,125h2v2h-2zM296,127h4v2h-4zM284,129h2v2h-2zM294,129h2v2h-2zM310,129h2v2h-2zM354,129h2v2h-2zM296,131h2v2h-2zM300,131h2v2h-2zM324,131h2v2h-2zM352,131h2v2h-2zM284,133h2v2h-2zM292,133h2v2h-2zM310,133h2v2h-2zM324,133h2v2h-2zM332,133h2v2h-2zM292,135h2v2h-2zM300,135h2v2h-2zM352,135h2v2h-2zM398,137h2v2h-2zM420,139h2v2h-2zM446,139h2v2h-2zM452,139h2v2h-2zM406,141h2v2h-2zM398,143h2v2h-2zM394,145h2v2h-2z"/>
<path fill="#94101f" d="M298,61h2v2h-2zM324,69h2v2h-2zM354,69h2v2h-2zM352,77h2v2h-2zM284,91h2v2h-2zM356,91h2v2h-2zM292,103h2v2h-2zM292,109h2v2h-2zM286,111h2v2h-2zM376,111h2v2h-2zM286,113h2v2h-2zM376,113h2v2h-2zM316,115h2v2h-2zM348,115h2v2h-2zM356,115h2v2h-2zM286,117h2v2h-2zM346,117h2v2h-2zM350,117h2v2h-2zM374,117h2v2h-2zM294,121h4v2h-4zM292,123h2v2h-2zM296,125h2v2h-2zM292,127h2v2h-2zM352,127h2v2h-2zM290,129h4v2h-4zM296,129h4v2h-4zM302,129h2v2h-2zM352,129h2v2h-2zM298,131h2v2h-2zM290,133h2v2h-2zM296,133h2v2h-2zM324,135h2v2h-2zM398,139h2v2h-2zM406,139h2v2h-2zM422,139h2v2h-2zM388,141h2v2h-2zM392,145h2v2h-2zM400,145h2v2h-2zM398,147h2v2h-2z"/>
<path fill="#9d1421" d="M290,59h2v2h-2zM284,77h2v2h-2zM284,89h2v2h-2zM292,107h2v2h-2zM372,109h2v2h-2zM292,111h2v2h-2zM296,111h2v2h-2zM314,111h2v2h-2zM288,113h2v2h-2zM298,113h2v2h-2zM374,113h2v2h-2zM284,115h2v2h-2zM314,115h2v2h-2zM288,117h2v2h-2zM298,117h2v2h-2zM298,121h2v2h-2zM292,125h2v2h-2zM298,125h2v2h-2zM310,125h2v2h-2zM320,125h2v2h-2zM352,125h2v2h-2zM292,131h2v2h-2zM298,133h4v2h-4zM302,135h2v2h-2zM392,137h2v2h-2zM420,137h4v2h-4zM400,139h2v2h-2zM424,143h2v2h-2zM422,147h2v2h-2z"/>
<path fill="#a61822" d="M290,83h2v2h-2zM374,111h2v2h-2zM284,113h2v2h-2zM292,113h2v2h-2zM292,115h2v2h-2zM292,117h2v2h-2zM290,121h4v2h-4zM294,123h2v2h-2zM290,125h2v2h-2zM422,141h2v2h-2zM398,145h2v2h-2z"/>
<path fill="#af1c24" d="M284,65h2v2h-2zM284,83h2v2h-2zM288,111h2v2h-2zM298,111h2v2h-2zM288,115h2v2h-2zM298,115h2v2h-2zM290,117h2v2h-2zM398,141h2v2h-2z"/>
<path fill="#b82126" d="M284,95h2v2h-2zM284,111h2v2h-2zM286,115h2v2h-2zM290,115h2v2h-2zM392,147h2v2h-2z"/>
<path fill="#c12527" d="M290,111h2v2h-2zM300,117h2v2h-2zM392,139h2v2h-2zM392,141h2v2h-2z"/>
<path fill="#ca2929" d="M392,143h2v2h-2z"/>
<path fill="#dc312c" d="M284,117h2v2h-2z"/>
<path fill="#e5352e" d="M290,113h2v2h-2z"/>
<rect x="284.00" y="42.00" width="1.00" height="109.50" fill="#000" opacity="0.05"/>
<rect x="285.00" y="42.00" width="1.00" height="109.50" fill="#000" opacity="0.15"/>
<rect x="286.00" y="42.00" width="1.00" height="109.50" fill="#000" opacity="0.13"/>
<rect x="287.00" y="42.00" width="1.00" height="109.50" fill="#000" opacity="0.14"/>
<rect x="288.00" y="42.00" width="1.00" height="109.50" fill="#000" opacity="0.14"/>
<rect x="289.00" y="42.00" width="1.00" height="109.50" fill="#000" opacity="0.11"/>
<rect x="290.00" y="42.00" width="1.00" height="109.50" fill="#000" opacity="0.05"/>
<rect x="291.00" y="42.00" width="1.00" height="109.50" fill="#000" opacity="0.15"/>
<rect x="292.00" y="42.00" width="1.00" height="109.50" fill="#000" opacity="0.12"/>
<rect x="293.00" y="42.00" width="1.00" height="109.50" fill="#000" opacity="0.07"/>
<rect x="294.00" y="42.00" width="1.00" height="109.50" fill="#000" opacity="0.02"/>
<rect x="295.00" y="42.00" width="1.00" height="109.50" fill="#000" opacity="0.19"/>
<rect x="296.00" y="42.00" width="1.00" height="109.50" fill="#000" opacity="0.20"/>
<rect x="297.00" y="42.00" width="1.00" height="109.50" fill="#000" opacity="0.08"/>
<rect x="298.00" y="42.00" width="1.00" height="109.50" fill="#000" opacity="0.02"/>
<rect x="299.00" y="42.00" width="1.00" height="109.50" fill="#000" opacity="0.08"/>
<rect x="300.00" y="42.00" width="1.00" height="109.50" fill="#000" opacity="0.12"/>
<rect x="301.00" y="42.00" width="1.00" height="109.50" fill="#000" opacity="0.05"/>
<rect x="302.00" y="42.00" width="1.00" height="109.50" fill="#000" opacity="0.02"/>
<rect x="303.00" y="42.00" width="1.00" height="109.50" fill="#000" opacity="0.00"/>
<rect x="304.00" y="42.00" width="1.00" height="109.50" fill="#000" opacity="0.03"/>
<rect x="305.00" y="42.00" width="1.00" height="109.50" fill="#000" opacity="0.10"/>
<rect x="306.00" y="42.00" width="1.00" height="109.50" fill="#000" opacity="0.09"/>
<rect x="307.00" y="42.00" width="1.00" height="109.50" fill="#000" opacity="0.03"/>
<rect x="308.00" y="42.00" width="1.00" height="109.50" fill="#000" opacity="0.10"/>
<rect x="309.00" y="42.00" width="1.00" height="109.50" fill="#000" opacity="0.04"/>
<rect x="310.00" y="42.00" width="1.00" height="109.50" fill="#000" opacity="0.14"/>
<rect x="311.00" y="42.00" width="1.00" height="109.50" fill="#000" opacity="0.09"/>
<rect x="312.00" y="42.00" width="1.00" height="109.50" fill="#000" opacity="0.09"/>
<rect x="313.00" y="42.00" width="1.00" height="109.50" fill="#000" opacity="0.05"/>
<rect x="314.00" y="42.00" width="1.00" height="109.50" fill="#000" opacity="0.16"/>
<rect x="315.00" y="42.00" width="1.00" height="109.50" fill="#000" opacity="0.01"/>
<rect x="316.00" y="42.00" width="1.00" height="109.50" fill="#000" opacity="0.10"/>
<rect x="317.00" y="42.00" width="1.00" height="109.50" fill="#000" opacity="0.01"/>
<rect x="318.00" y="42.00" width="1.00" height="109.50" fill="#000" opacity="0.08"/>
<rect x="319.00" y="42.00" width="1.00" height="109.50" fill="#000" opacity="0.06"/>
<rect x="320.00" y="42.00" width="1.00" height="109.50" fill="#000" opacity="0.09"/>
<rect x="321.00" y="42.00" width="1.00" height="109.50" fill="#000" opacity="0.03"/>
<rect x="322.00" y="42.00" width="1.00" height="109.50" fill="#000" opacity="0.07"/>
<rect x="323.00" y="42.00" width="1.00" height="109.50" fill="#000" opacity="0.06"/>
<rect x="324.00" y="42.00" width="1.00" height="109.50" fill="#000" opacity="0.02"/>
<rect x="325.00" y="42.00" width="1.00" height="109.50" fill="#000" opacity="0.15"/>
<rect x="326.00" y="42.00" width="1.00" height="109.50" fill="#000" opacity="0.08"/>
<rect x="327.00" y="42.00" width="1.00" height="109.50" fill="#000" opacity="0.10"/>
<rect x="328.00" y="42.00" width="1.00" height="109.50" fill="#000" opacity="0.12"/>
<rect x="329.00" y="42.00" width="1.00" height="109.50" fill="#000" opacity="0.06"/>
<rect x="330.00" y="42.00" width="1.00" height="109.50" fill="#000" opacity="0.16"/>
<rect x="331.00" y="42.00" width="1.00" height="109.50" fill="#000" opacity="0.19"/>
<rect x="332.00" y="42.00" width="1.00" height="109.50" fill="#000" opacity="0.04"/>
<rect x="333.00" y="42.00" width="1.00" height="109.50" fill="#000" opacity="0.17"/>
<rect x="334.00" y="42.00" width="1.00" height="109.50" fill="#000" opacity="0.18"/>
<rect x="335.00" y="42.00" width="1.00" height="109.50" fill="#000" opacity="0.02"/>
<rect x="336.00" y="42.00" width="1.00" height="109.50" fill="#000" opacity="0.06"/>
<rect x="337.00" y="42.00" width="1.00" height="109.50" fill="#000" opacity="0.14"/>
<rect x="338.00" y="42.00" width="1.00" height="109.50" fill="#000" opacity="0.17"/>
<rect x="339.00" y="42.00" width="1.00" height="109.50" fill="#000" opacity="0.03"/>
<rect x="340.00" y="42.00" width="1.00" height="109.50" fill="#000" opacity="0.20"/>
<rect x="341.00" y="42.00" width="1.00" height="109.50" fill="#000" opacity="0.01"/>
<rect x="342.00" y="42.00" width="1.00" height="109.50" fill="#000" opacity="0.10"/>
<rect x="343.00" y="42.00" width="1.00" height="109.50" fill="#000" opacity="0.08"/>
<rect x="344.00" y="42.00" width="1.00" height="109.50" fill="#000" opacity="0.02"/>
<rect x="345.00" y="42.00" width="1.00" height="109.50" fill="#000" opacity="0.20"/>
<rect x="346.00" y="42.00" width="1.00" height="109.50" fill="#000" opacity="0.19"/>
<rect x="347.00" y="42.00" width="1.00" height="109.50" fill="#000" opacity="0.08"/>
<rect x="348.00" y="42.00" width="1.00" height="109.50" fill="#000" opacity="0.05"/>
<rect x="349.00" y="42.00" width="1.00" height="109.50" fill="#000" opacity="0.05"/>
<rect x="350.00" y="42.00" width="1.00" height="109.50" fill="#000" opacity="0.05"/>
<rect x="351.00" y="42.00" width="1.00" height="109.50" fill="#000" opacity="0.11"/>
<rect x="352.00" y="42.00" width="1.00" height="109.50" fill="#000" opacity="0.02"/>
<rect x="353.00" y="42.00" width="1.00" height="109.50" fill="#000" opacity="0.09"/>
<rect x="354.00" y="42.00" width="1.00" height="109.50" fill="#000" opacity="0.08"/>
<rect x="355.00" y="42.00" width="1.00" height="109.50" fill="#000" opacity="0.19"/>
<rect x="356.00" y="42.00" width="1.00" height="109.50" fill="#000" opacity="0.19"/>
<rect x="357.00" y="42.00" width="1.00" height="109.50" fill="#000" opacity="0.11"/>
<rect x="358.00" y="42.00" width="1.00" height="109.50" fill="#000" opacity="0.19"/>
<rect x="359.00" y="42.00" width="1.00" height="109.50" fill="#000" opacity="0.10"/>
<rect x="360.00" y="42.00" width="1.00" height="109.50" fill="#000" opacity="0.01"/>
<rect x="361.00" y="42.00" width="1.00" height="109.50" fill="#000" opacity="0.05"/>
<rect x="362.00" y="42.00" width="1.00" height="109.50" fill="#000" opacity="0.05"/>
<rect x="363.00" y="42.00" width="1.00" height="109.50" fill="#000" opacity="0.02"/>
<rect x="364.00" y="42.00" width="1.00" height="109.50" fill="#000" opacity="0.06"/>
<rect x="365.00" y="42.00" width="1.00" height="109.50" fill="#000" opacity="0.06"/>
<rect x="366.00" y="42.00" width="1.00" height="109.50" fill="#000" opacity="0.13"/>
<rect x="367.00" y="42.00" width="1.00" height="109.50" fill="#000" opacity="0.12"/>
<rect x="368.00" y="42.00" width="1.00" height="109.50" fill="#000" opacity="0.15"/>
<rect x="369.00" y="42.00" width="1.00" height="109.50" fill="#000" opacity="0.09"/>
<rect x="370.00" y="42.00" width="1.00" height="109.50" fill="#000" opacity="0.11"/>
<rect x="371.00" y="42.00" width="1.00" height="109.50" fill="#000" opacity="0.18"/>
<rect x="372.00" y="42.00" width="1.00" height="109.50" fill="#000" opacity="0.17"/>
<rect x="373.00" y="42.00" width="1.00" height="109.50" fill="#000" opacity="0.07"/>
<rect x="374.00" y="42.00" width="1.00" height="109.50" fill="#000" opacity="0.02"/>
<rect x="375.00" y="42.00" width="1.00" height="109.50" fill="#000" opacity="0.15"/>
<rect x="376.00" y="42.00" width="1.00" height="109.50" fill="#000" opacity="0.07"/>
<rect x="377.00" y="42.00" width="1.00" height="109.50" fill="#000" opacity="0.02"/>
<rect x="378.00" y="42.00" width="1.00" height="109.50" fill="#000" opacity="0.08"/>
<rect x="379.00" y="42.00" width="1.00" height="109.50" fill="#000" opacity="0.12"/>
<rect x="380.00" y="42.00" width="1.00" height="109.50" fill="#000" opacity="0.17"/>
<rect x="381.00" y="42.00" width="1.00" height="109.50" fill="#000" opacity="0.16"/>
<rect x="382.00" y="42.00" width="1.00" height="109.50" fill="#000" opacity="0.04"/>
<rect x="383.00" y="42.00" width="1.00" height="109.50" fill="#000" opacity="0.13"/>
<rect x="384.00" y="42.00" width="1.00" height="109.50" fill="#000" opacity="0.15"/>
<rect x="385.00" y="42.00" width="1.00" height="109.50" fill="#000" opacity="0.14"/>
<rect x="386.00" y="42.00" width="1.00" height="109.50" fill="#000" opacity="0.14"/>
<rect x="387.00" y="42.00" width="1.00" height="109.50" fill="#000" opacity="0.00"/>
<rect x="388.00" y="42.00" width="1.00" height="109.50" fill="#000" opacity="0.16"/>
<rect x="389.00" y="42.00" width="1.00" height="109.50" fill="#000" opacity="0.02"/>
<rect x="390.00" y="42.00" width="1.00" height="109.50" fill="#000" opacity="0.04"/>
<rect x="391.00" y="42.00" width="1.00" height="109.50" fill="#000" opacity="0.07"/>
<rect x="392.00" y="42.00" width="1.00" height="109.50" fill="#000" opacity="0.09"/>
<rect x="393.00" y="42.00" width="1.00" height="109.50" fill="#000" opacity="0.10"/>
<rect x="394.00" y="42.00" width="1.00" height="109.50" fill="#000" opacity="0.01"/>
<rect x="395.00" y="42.00" width="1.00" height="109.50" fill="#000" opacity="0.01"/>
<rect x="396.00" y="42.00" width="1.00" height="109.50" fill="#000" opacity="0.04"/>
<rect x="397.00" y="42.00" width="1.00" height="109.50" fill="#000" opacity="0.04"/>
<rect x="398.00" y="42.00" width="1.00" height="109.50" fill="#000" opacity="0.05"/>
<rect x="399.00" y="42.00" width="1.00" height="109.50" fill="#000" opacity="0.10"/>
<rect x="400.00" y="42.00" width="1.00" height="109.50" fill="#000" opacity="0.09"/>
<rect x="401.00" y="42.00" width="1.00" height="109.50" fill="#000" opacity="0.03"/>
<rect x="402.00" y="42.00" width="1.00" height="109.50" fill="#000" opacity="0.10"/>
<rect x="403.00" y="42.00" width="1.00" height="109.50" fill="#000" opacity="0.05"/>
<rect x="404.00" y="42.00" width="1.00" height="109.50" fill="#000" opacity="0.12"/>
<rect x="405.00" y="42.00" width="1.00" height="109.50" fill="#000" opacity="0.01"/>
<rect x="406.00" y="42.00" width="1.00" height="109.50" fill="#000" opacity="0.09"/>
<rect x="407.00" y="42.00" width="1.00" height="109.50" fill="#000" opacity="0.12"/>
<rect x="408.00" y="42.00" width="1.00" height="109.50" fill="#000" opacity="0.14"/>
<rect x="409.00" y="42.00" width="1.00" height="109.50" fill="#000" opacity="0.04"/>
<rect x="410.00" y="42.00" width="1.00" height="109.50" fill="#000" opacity="0.06"/>
<rect x="411.00" y="42.00" width="1.00" height="109.50" fill="#000" opacity="0.15"/>
<rect x="412.00" y="42.00" width="1.00" height="109.50" fill="#000" opacity="0.12"/>
<rect x="413.00" y="42.00" width="1.00" height="109.50" fill="#000" opacity="0.18"/>
<rect x="414.00" y="42.00" width="1.00" height="109.50" fill="#000" opacity="0.19"/>
<rect x="415.00" y="42.00" width="1.00" height="109.50" fill="#000" opacity="0.20"/>
<rect x="416.00" y="42.00" width="1.00" height="109.50" fill="#000" opacity="0.01"/>
<rect x="417.00" y="42.00" width="1.00" height="109.50" fill="#000" opacity="0.10"/>
<rect x="418.00" y="42.00" width="1.00" height="109.50" fill="#000" opacity="0.09"/>
<rect x="419.00" y="42.00" width="1.00" height="109.50" fill="#000" opacity="0.10"/>
<rect x="420.00" y="42.00" width="1.00" height="109.50" fill="#000" opacity="0.06"/>
<rect x="421.00" y="42.00" width="1.00" height="109.50" fill="#000" opacity="0.08"/>
<rect x="422.00" y="42.00" width="1.00" height="109.50" fill="#000" opacity="0.08"/>
<rect x="423.00" y="42.00" width="1.00" height="109.50" fill="#000" opacity="0.09"/>
<rect x="424.00" y="42.00" width="1.00" height="109.50" fill="#000" opacity="0.14"/>
<rect x="425.00" y="42.00" width="1.00" height="109.50" fill="#000" opacity="0.10"/>
<rect x="426.00" y="42.00" width="1.00" height="109.50" fill="#000" opacity="0.09"/>
<rect x="427.00" y="42.00" width="1.00" height="109.50" fill="#000" opacity="0.12"/>
<rect x="428.00" y="42.00" width="1.00" height="109.50" fill="#000" opacity="0.01"/>
<rect x="429.00" y="42.00" width="1.00" height="109.50" fill="#000" opacity="0.12"/>
<rect x="430.00" y="42.00" width="1.00" height="109.50" fill="#000" opacity="0.13"/>
<rect x="431.00" y="42.00" width="1.00" height="109.50" fill="#000" opacity="0.19"/>
<rect x="432.00" y="42.00" width="1.00" height="109.50" fill="#000" opacity="0.12"/>
<rect x="433.00" y="42.00" width="1.00" height="109.50" fill="#000" opacity="0.18"/>
<rect x="434.00" y="42.00" width="1.00" height="109.50" fill="#000" opacity="0.12"/>
<rect x="435.00" y="42.00" width="1.00" height="109.50" fill="#000" opacity="0.18"/>
<rect x="436.00" y="42.00" width="1.00" height="109.50" fill="#000" opacity="0.05"/>
<rect x="437.00" y="42.00" width="1.00" height="109.50" fill="#000" opacity="0.08"/>
<rect x="438.00" y="42.00" width="1.00" height="109.50" fill="#000" opacity="0.14"/>
<rect x="439.00" y="42.00" width="1.00" height="109.50" fill="#000" opacity="0.11"/>
<rect x="440.00" y="42.00" width="1.00" height="109.50" fill="#000" opacity="0.03"/>
<rect x="441.00" y="42.00" width="1.00" height="109.50" fill="#000" opacity="0.11"/>
<rect x="442.00" y="42.00" width="1.00" height="109.50" fill="#000" opacity="0.02"/>
<rect x="443.00" y="42.00" width="1.00" height="109.50" fill="#000" opacity="0.12"/>
<rect x="444.00" y="42.00" width="1.00" height="109.50" fill="#000" opacity="0.07"/>
<rect x="445.00" y="42.00" width="1.00" height="109.50" fill="#000" opacity="0.16"/>
<rect x="446.00" y="42.00" width="1.00" height="109.50" fill="#000" opacity="0.10"/>
<rect x="447.00" y="42.00" width="1.00" height="109.50" fill="#000" opacity="0.03"/>
<rect x="448.00" y="42.00" width="1.00" height="109.50" fill="#000" opacity="0.11"/>
<rect x="449.00" y="42.00" width="1.00" height="109.50" fill="#000" opacity="0.01"/>
<rect x="450.00" y="42.00" width="1.00" height="109.50" fill="#000" opacity="0.14"/>
<rect x="451.00" y="42.00" width="1.00" height="109.50" fill="#000" opacity="0.03"/>
<rect x="452.00" y="42.00" width="1.00" height="109.50" fill="#000" opacity="0.00"/>
<rect x="453.00" y="42.00" width="1.00" height="109.50" fill="#000" opacity="0.05"/>
<rect x="454.00" y="42.00" width="1.00" height="109.50" fill="#000" opacity="0.04"/>
<rect x="455.00" y="42.00" width="1.00" height="109.50" fill="#000" opacity="0.03"/>
<rect x="283.00" y="43.00" width="173.50" height="1.00" fill="#000" opacity="0.09"/>
<rect x="283.00" y="44.00" width="173.50" height="1.00" fill="#000" opacity="0.11"/>
<rect x="283.00" y="45.00" width="173.50" height="1.00" fill="#000" opacity="0.08"/>
<rect x="283.00" y="46.00" width="173.50" height="1.00" fill="#000" opacity="0.01"/>
<rect x="283.00" y="47.00" width="173.50" height="1.00" fill="#000" opacity="0.02"/>
<rect x="283.00" y="48.00" width="173.50" height="1.00" fill="#000" opacity="0.02"/>
<rect x="283.00" y="49.00" width="173.50" height="1.00" fill="#000" opacity="0.12"/>
<rect x="283.00" y="50.00" width="173.50" height="1.00" fill="#000" opacity="0.12"/>
<rect x="283.00" y="51.00" width="173.50" height="1.00" fill="#000" opacity="0.15"/>
<rect x="283.00" y="52.00" width="173.50" height="1.00" fill="#000" opacity="0.05"/>
<rect x="283.00" y="53.00" width="173.50" height="1.00" fill="#000" opacity="0.04"/>
<rect x="283.00" y="54.00" width="173.50" height="1.00" fill="#000" opacity="0.05"/>
<rect x="283.00" y="55.00" width="173.50" height="1.00" fill="#000" opacity="0.16"/>
<rect x="283.00" y="56.00" width="173.50" height="1.00" fill="#000" opacity="0.09"/>
<rect x="283.00" y="57.00" width="173.50" height="1.00" fill="#000" opacity="0.10"/>
<rect x="283.00" y="58.00" width="173.50" height="1.00" fill="#000" opacity="0.03"/>
<rect x="283.00" y="59.00" width="173.50" height="1.00" fill="#000" opacity="0.10"/>
<rect x="283.00" y="60.00" width="173.50" height="1.00" fill="#000" opacity="0.07"/>
<rect x="283.00" y="61.00" width="173.50" height="1.00" fill="#000" opacity="0.02"/>
<rect x="283.00" y="62.00" width="173.50" height="1.00" fill="#000" opacity="0.07"/>
<rect x="283.00" y="63.00" width="173.50" height="1.00" fill="#000" opacity="0.03"/>
<rect x="283.00" y="64.00" width="173.50" height="1.00" fill="#000" opacity="0.11"/>
<rect x="283.00" y="65.00" width="173.50" height="1.00" fill="#000" opacity="0.10"/>
<rect x="283.00" y="66.00" width="173.50" height="1.00" fill="#000" opacity="0.05"/>
<rect x="283.00" y="67.00" width="173.50" height="1.00" fill="#000" opacity="0.03"/>
<rect x="283.00" y="68.00" width="173.50" height="1.00" fill="#000" opacity="0.02"/>
<rect x="283.00" y="69.00" width="173.50" height="1.00" fill="#000" opacity="0.09"/>
<rect x="283.00" y="70.00" width="173.50" height="1.00" fill="#000" opacity="0.08"/>
<rect x="283.00" y="71.00" width="173.50" height="1.00" fill="#000" opacity="0.01"/>
<rect x="283.00" y="72.00" width="173.50" height="1.00" fill="#000" opacity="0.10"/>
<rect x="283.00" y="73.00" width="173.50" height="1.00" fill="#000" opacity="0.08"/>
<rect x="283.00" y="74.00" width="173.50" height="1.00" fill="#000" opacity="0.01"/>
<rect x="283.00" y="75.00" width="173.50" height="1.00" fill="#000" opacity="0.13"/>
<rect x="283.00" y="76.00" width="173.50" height="1.00" fill="#000" opacity="0.16"/>
<rect x="283.00" y="77.00" width="173.50" height="1.00" fill="#000" opacity="0.04"/>
<rect x="283.00" y="78.00" width="173.50" height="1.00" fill="#000" opacity="0.07"/>
<rect x="283.00" y="79.00" width="173.50" height="1.00" fill="#000" opacity="0.08"/>
<rect x="283.00" y="80.00" width="173.50" height="1.00" fill="#000" opacity="0.07"/>
<rect x="283.00" y="81.00" width="173.50" height="1.00" fill="#000" opacity="0.00"/>
<rect x="283.00" y="82.00" width="173.50" height="1.00" fill="#000" opacity="0.06"/>
<rect x="283.00" y="83.00" width="173.50" height="1.00" fill="#000" opacity="0.14"/>
<rect x="283.00" y="84.00" width="173.50" height="1.00" fill="#000" opacity="0.08"/>
<rect x="283.00" y="85.00" width="173.50" height="1.00" fill="#000" opacity="0.12"/>
<rect x="283.00" y="86.00" width="173.50" height="1.00" fill="#000" opacity="0.09"/>
<rect x="283.00" y="87.00" width="173.50" height="1.00" fill="#000" opacity="0.12"/>
<rect x="283.00" y="88.00" width="173.50" height="1.00" fill="#000" opacity="0.15"/>
<rect x="283.00" y="89.00" width="173.50" height="1.00" fill="#000" opacity="0.11"/>
<rect x="283.00" y="90.00" width="173.50" height="1.00" fill="#000" opacity="0.09"/>
<rect x="283.00" y="91.00" width="173.50" height="1.00" fill="#000" opacity="0.15"/>
<rect x="283.00" y="92.00" width="173.50" height="1.00" fill="#000" opacity="0.14"/>
<rect x="283.00" y="93.00" width="173.50" height="1.00" fill="#000" opacity="0.08"/>
<rect x="283.00" y="94.00" width="173.50" height="1.00" fill="#000" opacity="0.01"/>
<rect x="283.00" y="95.00" width="173.50" height="1.00" fill="#000" opacity="0.04"/>
<rect x="283.00" y="96.00" width="173.50" height="1.00" fill="#000" opacity="0.07"/>
<rect x="283.00" y="97.00" width="173.50" height="1.00" fill="#000" opacity="0.09"/>
<rect x="283.00" y="98.00" width="173.50" height="1.00" fill="#000" opacity="0.11"/>
<rect x="283.00" y="99.00" width="173.50" height="1.00" fill="#000" opacity="0.16"/>
<rect x="283.00" y="100.00" width="173.50" height="1.00" fill="#000" opacity="0.01"/>
<rect x="283.00" y="101.00" width="173.50" height="1.00" fill="#000" opacity="0.01"/>
<rect x="283.00" y="102.00" width="173.50" height="1.00" fill="#000" opacity="0.01"/>
<rect x="283.00" y="103.00" width="173.50" height="1.00" fill="#000" opacity="0.08"/>
<rect x="283.00" y="104.00" width="173.50" height="1.00" fill="#000" opacity="0.01"/>
<rect x="283.00" y="105.00" width="173.50" height="1.00" fill="#000" opacity="0.05"/>
<rect x="283.00" y="106.00" width="173.50" height="1.00" fill="#000" opacity="0.04"/>
<rect x="283.00" y="107.00" width="173.50" height="1.00" fill="#000" opacity="0.04"/>
<rect x="283.00" y="108.00" width="173.50" height="1.00" fill="#000" opacity="0.10"/>
<rect x="283.00" y="109.00" width="173.50" height="1.00" fill="#000" opacity="0.01"/>
<rect x="283.00" y="110.00" width="173.50" height="1.00" fill="#000" opacity="0.11"/>
<rect x="283.00" y="111.00" width="173.50" height="1.00" fill="#000" opacity="0.04"/>
<rect x="283.00" y="112.00" width="173.50" height="1.00" fill="#000" opacity="0.07"/>
<rect x="283.00" y="113.00" width="173.50" height="1.00" fill="#000" opacity="0.10"/>
<rect x="283.00" y="114.00" width="173.50" height="1.00" fill="#000" opacity="0.08"/>
<rect x="283.00" y="115.00" width="173.50" height="1.00" fill="#000" opacity="0.11"/>
<rect x="283.00" y="116.00" width="173.50" height="1.00" fill="#000" opacity="0.02"/>
<rect x="283.00" y="117.00" width="173.50" height="1.00" fill="#000" opacity="0.13"/>
<rect x="283.00" y="118.00" width="173.50" height="1.00" fill="#000" opacity="0.02"/>
<rect x="283.00" y="119.00" width="173.50" height="1.00" fill="#000" opacity="0.14"/>
<rect x="283.00" y="120.00" width="173.50" height="1.00" fill="#000" opacity="0.05"/>
<rect x="283.00" y="121.00" width="173.50" height="1.00" fill="#000" opacity="0.14"/>
<rect x="283.00" y="122.00" width="173.50" height="1.00" fill="#000" opacity="0.09"/>
<rect x="283.00" y="123.00" width="173.50" height="1.00" fill="#000" opacity="0.06"/>
<rect x="283.00" y="124.00" width="173.50" height="1.00" fill="#000" opacity="0.08"/>
<rect x="283.00" y="125.00" width="173.50" height="1.00" fill="#000" opacity="0.03"/>
<rect x="283.00" y="126.00" width="173.50" height="1.00" fill="#000" opacity="0.01"/>
<rect x="283.00" y="127.00" width="173.50" height="1.00" fill="#000" opacity="0.16"/>
<rect x="283.00" y="128.00" width="173.50" height="1.00" fill="#000" opacity="0.12"/>
<rect x="283.00" y="129.00" width="173.50" height="1.00" fill="#000" opacity="0.01"/>
<rect x="283.00" y="130.00" width="173.50" height="1.00" fill="#000" opacity="0.03"/>
<rect x="283.00" y="131.00" width="173.50" height="1.00" fill="#000" opacity="0.16"/>
<rect x="283.00" y="132.00" width="173.50" height="1.00" fill="#000" opacity="0.10"/>
<rect x="283.00" y="133.00" width="173.50" height="1.00" fill="#000" opacity="0.03"/>
<rect x="283.00" y="134.00" width="173.50" height="1.00" fill="#000" opacity="0.03"/>
<rect x="283.00" y="135.00" width="173.50" height="1.00" fill="#000" opacity="0.04"/>
<rect x="283.00" y="136.00" width="173.50" height="1.00" fill="#000" opacity="0.06"/>
<rect x="283.00" y="137.00" width="173.50" height="1.00" fill="#000" opacity="0.03"/>
<rect x="283.00" y="138.00" width="173.50" height="1.00" fill="#000" opacity="0.09"/>
<rect x="283.00" y="139.00" width="173.50" height="1.00" fill="#000" opacity="0.16"/>
<rect x="283.00" y="140.00" width="173.50" height="1.00" fill="#000" opacity="0.07"/>
<rect x="283.00" y="141.00" width="173.50" height="1.00" fill="#000" opacity="0.13"/>
<rect x="283.00" y="142.00" width="173.50" height="1.00" fill="#000" opacity="0.08"/>
<rect x="283.00" y="143.00" width="173.50" height="1.00" fill="#000" opacity="0.13"/>
<rect x="283.00" y="144.00" width="173.50" height="1.00" fill="#000" opacity="0.08"/>
<rect x="283.00" y="145.00" width="173.50" height="1.00" fill="#000" opacity="0.03"/>
<rect x="283.00" y="146.00" width="173.50" height="1.00" fill="#000" opacity="0.13"/>
<rect x="283.00" y="147.00" width="173.50" height="1.00" fill="#000" opacity="0.09"/>
<rect x="283.00" y="148.00" width="173.50" height="1.00" fill="#000" opacity="0.07"/>
<rect x="283.00" y="149.00" width="173.50" height="1.00" fill="#000" opacity="0.08"/>
<rect x="283.00" y="150.00" width="173.50" height="1.00" fill="#000" opacity="0.10"/>
</g></g>
<rect x="284.0" y="43.0" width="103.5" height="93.19999999999999" fill="none" stroke="#d03038" stroke-width="0.7"/>
<rect x="387.5" y="136.2" width="68.0" height="13.100000000000012" fill="none" stroke="#2a4fb0" stroke-width="0.7"/>
<text x="458.8" y="33.2" font-size="4.85" text-anchor="start" font-weight="normal" fill="#111" stroke="#111" stroke-width="0.2" >Methylation subtype</text>
<text x="458.8" y="38.6" font-size="4.85" text-anchor="start" font-weight="normal" fill="#111" stroke="#111" stroke-width="0.2" >Expression subtype</text>
<text x="458.8" y="43.6" font-size="4.85" text-anchor="start" font-weight="normal" fill="#111" stroke="#111" stroke-width="0.2" >ZBTB18 Expression</text>
<text x="472.5" y="51.1" font-size="4.75" text-anchor="start" font-weight="bold" fill="#111" stroke="#111" stroke-width="0.2" >Expression subtype</text>
<rect x="465.20" y="55.75" width="4.00" height="4.00" fill="#1c4f92" />
<text x="471.7" y="59.5" font-size="4.95" text-anchor="start" font-weight="normal" fill="#111" stroke="#111" stroke-width="0.2" >Proneural</text>
<rect x="465.20" y="63.70" width="4.00" height="4.00" fill="#c4242a" />
<text x="471.7" y="67.45" font-size="4.95" text-anchor="start" font-weight="normal" fill="#111" stroke="#111" stroke-width="0.2" >Mesenchymal</text>
<rect x="465.20" y="71.20" width="4.00" height="4.00" fill="#0f5244" />
<text x="471.7" y="74.95" font-size="4.95" text-anchor="start" font-weight="normal" fill="#111" stroke="#111" stroke-width="0.2" >Neural</text>
<rect x="465.20" y="78.40" width="4.00" height="4.00" fill="#62419e" />
<text x="471.7" y="82.15" font-size="4.95" text-anchor="start" font-weight="normal" fill="#111" stroke="#111" stroke-width="0.2" >Classical</text>
<rect x="465.20" y="85.90" width="4.00" height="4.00" fill="#cfcfd2" />
<text x="471.7" y="89.65" font-size="4.95" text-anchor="start" font-weight="normal" fill="#111" stroke="#111" stroke-width="0.2" >Not classified</text>
<text x="472" y="99.7" font-size="4.75" text-anchor="start" font-weight="bold" fill="#111" stroke="#111" stroke-width="0.2" >Methylation subtype</text>
<rect x="465.20" y="104.75" width="4.00" height="4.00" fill="#1f3d38" />
<text x="471.7" y="108.5" font-size="4.95" text-anchor="start" font-weight="normal" fill="#111" stroke="#111" stroke-width="0.2" >Non G-CIMP</text>
<rect x="465.20" y="111.75" width="4.00" height="4.00" fill="#b2181c" />
<text x="471.7" y="115.5" font-size="4.95" text-anchor="start" font-weight="normal" fill="#111" stroke="#111" stroke-width="0.2" >G-CIMP</text>
<rect x="465.20" y="119.25" width="4.00" height="4.00" fill="#c9c9cc" />
<text x="471.7" y="123.0" font-size="4.95" text-anchor="start" font-weight="normal" fill="#111" stroke="#111" stroke-width="0.2" >Not classified</text>
<text x="472.5" y="138" font-size="4.75" text-anchor="start" font-weight="bold" fill="#111" stroke="#111" stroke-width="0.2" >ZNF238 Expression</text>
<rect x="465.20" y="141.75" width="4.00" height="4.00" fill="#ee7458" />
<text x="471.7" y="145.5" font-size="4.95" text-anchor="start" font-weight="normal" fill="#111" stroke="#111" stroke-width="0.2" >Expression high</text>
<rect x="465.20" y="149.25" width="4.00" height="4.00" fill="#a6dcea" />
<text x="471.7" y="153.0" font-size="4.95" text-anchor="start" font-weight="normal" fill="#111" stroke="#111" stroke-width="0.2" >Expression low</text>
</g>
<g id="panelD">
<text x="44.3" y="211.8" font-size="5.5" text-anchor="middle" font-weight="normal" fill="#111" stroke="#111" stroke-width="0.2" >Normal brain</text>
<line x1="5" y1="215.8" x2="82.5" y2="215.8" stroke="#2a2a2a" stroke-width="1.0" />
<text x="7.4" y="223.9" font-size="4.4" text-anchor="middle" font-weight="bold" fill="#111" stroke="#111" stroke-width="0.2" stroke-width="0.1">1</text>
<text x="22.6" y="223.9" font-size="4.4" text-anchor="middle" font-weight="bold" fill="#111" stroke="#111" stroke-width="0.2" stroke-width="0.1">3</text>
<text x="36.2" y="223.9" font-size="4.4" text-anchor="middle" font-weight="bold" fill="#111" stroke="#111" stroke-width="0.2" stroke-width="0.1">5</text>
<text x="51" y="223.9" font-size="4.4" text-anchor="middle" font-weight="bold" fill="#111" stroke="#111" stroke-width="0.2" stroke-width="0.1">10</text>
<text x="66.2" y="223.9" font-size="4.4" text-anchor="middle" font-weight="bold" fill="#111" stroke="#111" stroke-width="0.2" stroke-width="0.1">14</text>
<text x="82.2" y="223.9" font-size="4.4" text-anchor="middle" font-weight="bold" fill="#111" stroke="#111" stroke-width="0.2" stroke-width="0.1">8</text>
<text x="148.8" y="200" font-size="5.5" text-anchor="middle" font-weight="normal" fill="#111" stroke="#111" stroke-width="0.2" >GBM Cell/xeno lines</text>
<line x1="95.5" y1="203.8" x2="208.3" y2="203.8" stroke="#444" stroke-width="1.0" />
<text x="123.3" y="211.8" font-size="5.4" text-anchor="middle" font-weight="normal" fill="#2a6cb0" stroke="#2a6cb0" stroke-width="0.2" >Proneural</text>
<text x="163" y="211.8" font-size="5.4" text-anchor="middle" font-weight="normal" fill="#b8442a" stroke="#b8442a" stroke-width="0.2" >Mes</text>
<text x="195" y="211.8" font-size="5.4" text-anchor="middle" font-weight="normal" fill="#a8883c" stroke="#a8883c" stroke-width="0.2" >Cl</text>
<line x1="95.5" y1="215.8" x2="147" y2="215.8" stroke="#b06258" stroke-width="0.9" />
<line x1="152" y1="215.8" x2="178.3" y2="215.8" stroke="#b06258" stroke-width="0.9" />
<line x1="182" y1="215.8" x2="208.3" y2="215.8" stroke="#b06258" stroke-width="0.9" />
<text x="95" y="224" font-size="3.7" text-anchor="middle" font-weight="bold" fill="#111" stroke="#111" stroke-width="0.2" stroke-width="0.12">U3047</text>
<text x="112" y="224" font-size="3.7" text-anchor="middle" font-weight="bold" fill="#111" stroke="#111" stroke-width="0.2" stroke-width="0.12">U3082</text>
<text x="128.8" y="224" font-size="3.7" text-anchor="middle" font-weight="bold" fill="#111" stroke="#111" stroke-width="0.2" stroke-width="0.12">U3117</text>
<text x="143" y="224" font-size="3.7" text-anchor="middle" font-weight="bold" fill="#111" stroke="#111" stroke-width="0.2" stroke-width="0.12">217</text>
<text x="156.8" y="224" font-size="3.7" text-anchor="middle" font-weight="bold" fill="#111" stroke="#111" stroke-width="0.2" stroke-width="0.12">232</text>
<text x="170.8" y="224" font-size="3.7" text-anchor="middle" font-weight="bold" fill="#111" stroke="#111" stroke-width="0.2" stroke-width="0.12">233</text>
<text x="187" y="224" font-size="3.7" text-anchor="middle" font-weight="bold" fill="#111" stroke="#111" stroke-width="0.2" stroke-width="0.12">23</text>
<text x="202.5" y="224" font-size="3.7" text-anchor="middle" font-weight="bold" fill="#111" stroke="#111" stroke-width="0.2" stroke-width="0.12">JX6</text>
<rect x="2.6" y="230.10000000000002" width="12.200000000000001" height="8.4" rx="2.2" fill="#000" opacity="1" filter="url(#b1)" transform="rotate(-3 8.700000000000001 234.3)"/>
<rect x="17.5" y="228.0" width="13.100000000000001" height="10.4" rx="2.2" fill="#000" opacity="1.0" filter="url(#b1)"/>
<rect x="19.5" y="222.0" width="9.0" height="8" rx="2.2" fill="#000" opacity="0.6" filter="url(#b3)"/>
<rect x="31.9" y="228.7" width="13.100000000000001" height="9.8" rx="2.2" fill="#000" opacity="1.0" filter="url(#b1)"/>
<rect x="46.9" y="227.4" width="12.899999999999999" height="10.4" rx="2.2" fill="#000" opacity="1.0" filter="url(#b1)"/>
<rect x="61.2" y="229.4" width="10.099999999999994" height="6.4" rx="2.2" fill="#000" opacity="0.7" filter="url(#b1)"/>
<rect x="61.2" y="231.6" width="5.299999999999997" height="4.0" rx="2.0" fill="#000" opacity="0.5" filter="url(#b1)"/>
<rect x="74.2" y="227.8" width="13.099999999999994" height="10.0" rx="2.2" fill="#000" opacity="1.0" filter="url(#b1)"/>
<rect x="33" y="249.70000000000002" width="10.5" height="3.2" rx="1.6" fill="#000" opacity="0.95" filter="url(#b2)"/>
<rect x="75.5" y="249.5" width="10.5" height="3.0" rx="1.5" fill="#000" opacity="0.95" filter="url(#b2)"/>
<rect x="19" y="250.5" width="8" height="2" rx="1.0" fill="#000" opacity="0.18" filter="url(#b2)"/>
<rect x="48" y="250.10000000000002" width="9" height="2.4" rx="1.2" fill="#000" opacity="0.3" filter="url(#b2)"/>
<rect x="62" y="249.9" width="9" height="2.2" rx="1.1" fill="#000" opacity="0.25" filter="url(#b2)"/>
<rect x="5" y="251.0" width="7" height="2" rx="1.0" fill="#000" opacity="0.08" filter="url(#b2)"/>
<rect x="34" y="241.0" width="9" height="5" rx="2.2" fill="#000" opacity="0.12" filter="url(#b3)"/>
<rect x="76" y="241.0" width="10" height="5" rx="2.2" fill="#000" opacity="0.1" filter="url(#b3)"/>
<rect x="35" y="260.5" width="7" height="3" rx="1.5" fill="#000" opacity="0.07" filter="url(#b3)"/>
<rect x="89.5" y="234.70000000000002" width="10.0" height="2.2" rx="1.1" fill="#000" opacity="0.2" filter="url(#b2)"/>
<rect x="106.5" y="235.2" width="10.5" height="2.0" rx="1.0" fill="#000" opacity="0.14" filter="url(#b2)"/>
<rect x="122.5" y="234.7" width="11.5" height="2.6" rx="1.3" fill="#000" opacity="0.24" filter="url(#b2)"/>
<rect x="138" y="236.5" width="9.5" height="1.6" rx="0.8" fill="#000" opacity="0.1" filter="url(#b2)"/>
<rect x="138.5" y="245.3" width="8.5" height="2.0" rx="1.0" fill="#000" opacity="0.2" filter="url(#b2)"/>
<rect x="151" y="236.7" width="10" height="1.6" rx="0.8" fill="#000" opacity="0.1" filter="url(#b2)"/>
<rect x="166" y="237.8" width="9" height="1.4" rx="0.7" fill="#000" opacity="0.06" filter="url(#b2)"/>
<rect x="180" y="238.5" width="12.5" height="4.0" rx="2.0" fill="#000" opacity="0.15" filter="url(#b2)"/>
<rect x="197" y="238.3" width="15.5" height="2.0" rx="1.0" fill="#000" opacity="0.26" filter="url(#b2)" transform="rotate(-12 204.75 239.3)"/>
<rect x="138" y="275.75" width="9" height="1.5" rx="0.75" fill="#000" opacity="0.07" filter="url(#b2)"/>
<rect x="104.3" y="300.65" width="12.200000000000003" height="3.5" rx="1.75" fill="#000" opacity="0.9" filter="url(#b2)"/>
<rect x="118.8" y="300.65" width="12.100000000000009" height="3.5" rx="1.75" fill="#000" opacity="0.86" filter="url(#b2)"/>
<rect x="147.5" y="301.1" width="11.300000000000011" height="3.0" rx="1.5" fill="#000" opacity="0.36" filter="url(#b2)"/>
<rect x="4.8" y="325.3" width="11.399999999999999" height="6.6" rx="2.2" fill="#000" opacity="0.45" filter="url(#b1)"/>
<rect x="7" y="324.5" width="7" height="3" rx="1.5" fill="#000" opacity="0.12" filter="url(#b3)"/>
<rect x="18.8" y="325.3" width="11.7" height="6.6" rx="2.2" fill="#000" opacity="0.52" filter="url(#b1)"/>
<rect x="21" y="324.5" width="7" height="3" rx="1.5" fill="#000" opacity="0.12" filter="url(#b3)"/>
<rect x="34" y="326.4" width="11.5" height="5.6" rx="2.2" fill="#000" opacity="0.74" filter="url(#b1)"/>
<rect x="48" y="326.2" width="12" height="6.0" rx="2.2" fill="#000" opacity="0.8" filter="url(#b1)"/>
<rect x="61.8" y="325.2" width="12.200000000000003" height="5.6" rx="2.2" fill="#000" opacity="0.88" filter="url(#b1)" transform="rotate(-14 67.9 328)"/>
<rect x="74.5" y="326.55" width="14.0" height="2.9" rx="1.45" fill="#000" opacity="0.95" filter="url(#b2)"/>
<rect x="90" y="327.84999999999997" width="15" height="2.7" rx="1.35" fill="#000" opacity="0.95" filter="url(#b2)"/>
<rect x="106.5" y="328.04999999999995" width="13.5" height="2.7" rx="1.35" fill="#000" opacity="0.95" filter="url(#b2)"/>
<rect x="121.3" y="328.45000000000005" width="10.700000000000003" height="2.3" rx="1.15" fill="#000" opacity="0.7" filter="url(#b2)"/>
<rect x="134.5" y="327.55" width="13.0" height="2.9" rx="1.45" fill="#000" opacity="0.95" filter="url(#b2)"/>
<rect x="148.5" y="327.95" width="14.5" height="2.9" rx="1.45" fill="#000" opacity="0.95" filter="url(#b2)"/>
<rect x="163.5" y="328.25" width="12.5" height="3.1" rx="1.55" fill="#000" opacity="0.95" filter="url(#b2)"/>
<rect x="176.5" y="328.45" width="18.80000000000001" height="3.5" rx="1.75" fill="#000" opacity="0.95" filter="url(#b2)"/>
<rect x="195" y="327.04999999999995" width="16.30000000000001" height="2.7" rx="1.35" fill="#000" opacity="0.95" filter="url(#b2)" transform="rotate(-15 203.15 328.4)"/>
<line x1="219.5" y1="237.5" x2="228" y2="237.5" stroke="#1a1a1a" stroke-width="1.2" />
<text x="232.6" y="239.6" font-size="5.9" text-anchor="start" font-weight="normal" fill="#111" stroke="#111" stroke-width="0.2" >ZBTB18</text>
<line x1="219.3" y1="301.2" x2="228" y2="301.2" stroke="#1a1a1a" stroke-width="1.2" />
<text x="233" y="303.3" font-size="5.6" text-anchor="start" font-weight="normal" fill="#111" stroke="#111" stroke-width="0.2" >ZBTB18</text>
<text x="243.5" y="311" font-size="5.6" text-anchor="middle" font-weight="normal" fill="#111" stroke="#111" stroke-width="0.2" >(short)</text>
<line x1="219.3" y1="328.6" x2="228" y2="328.6" stroke="#1a1a1a" stroke-width="1.2" />
<text x="233.6" y="330.4" font-size="6.1" text-anchor="start" font-weight="normal" fill="#111" stroke="#111" stroke-width="0.2" >&#945;-Tubulin</text>
</g>
<g id="panelE">
<line x1="305.6" y1="199.5" x2="305.6" y2="315.6" stroke="#8c8c8c" stroke-width="0.7" />
<line x1="303.6" y1="315.6" x2="515" y2="315.6" stroke="#8c8c8c" stroke-width="0.7" />
<line x1="303.6" y1="315.6" x2="305.6" y2="315.6" stroke="#8c8c8c" stroke-width="0.7" />
<text x="302.2" y="317.6" font-size="5.8" text-anchor="end" font-weight="bold" fill="#222" stroke="#222" stroke-width="0.2" stroke-width="0.1">0</text>
<line x1="303.6" y1="299.0" x2="305.6" y2="299.0" stroke="#8c8c8c" stroke-width="0.7" />
<text x="302.2" y="301.0" font-size="5.8" text-anchor="end" font-weight="bold" fill="#222" stroke="#222" stroke-width="0.2" stroke-width="0.1">0.5</text>
<line x1="303.6" y1="282.40000000000003" x2="305.6" y2="282.40000000000003" stroke="#8c8c8c" stroke-width="0.7" />
<text x="302.2" y="284.40000000000003" font-size="5.8" text-anchor="end" font-weight="bold" fill="#222" stroke="#222" stroke-width="0.2" stroke-width="0.1">1</text>
<line x1="303.6" y1="265.8" x2="305.6" y2="265.8" stroke="#8c8c8c" stroke-width="0.7" />
<text x="302.2" y="267.8" font-size="5.8" text-anchor="end" font-weight="bold" fill="#222" stroke="#222" stroke-width="0.2" stroke-width="0.1">1.5</text>
<line x1="303.6" y1="249.20000000000002" x2="305.6" y2="249.20000000000002" stroke="#8c8c8c" stroke-width="0.7" />
<text x="302.2" y="251.20000000000002" font-size="5.8" text-anchor="end" font-weight="bold" fill="#222" stroke="#222" stroke-width="0.2" stroke-width="0.1">2</text>
<line x1="303.6" y1="232.60000000000002" x2="305.6" y2="232.60000000000002" stroke="#8c8c8c" stroke-width="0.7" />
<text x="302.2" y="234.60000000000002" font-size="5.8" text-anchor="end" font-weight="bold" fill="#222" stroke="#222" stroke-width="0.2" stroke-width="0.1">2.5</text>
<line x1="303.6" y1="216.0" x2="305.6" y2="216.0" stroke="#8c8c8c" stroke-width="0.7" />
<text x="302.2" y="218.0" font-size="5.8" text-anchor="end" font-weight="bold" fill="#222" stroke="#222" stroke-width="0.2" stroke-width="0.1">3</text>
<line x1="303.6" y1="199.4" x2="305.6" y2="199.4" stroke="#8c8c8c" stroke-width="0.7" />
<text x="302.2" y="201.4" font-size="5.8" text-anchor="end" font-weight="bold" fill="#222" stroke="#222" stroke-width="0.2" stroke-width="0.1">3.5</text>
<text transform="translate(286.4,261) rotate(-90)" font-size="5.7" text-anchor="middle" fill="#111" stroke="#111" stroke-width="0.25">ZBTB18/&#945;Tubulin signal</text>
<rect x="310.60" y="243.22" width="5.70" height="72.38" fill="#3e7dba" />
<text x="313.35" y="324.5" font-size="4.6" text-anchor="middle" font-weight="bold" fill="#222" stroke="#222" stroke-width="0.2" stroke-width="0">1</text>
<line x1="320.77000000000004" y1="315.6" x2="320.77000000000004" y2="317.20000000000005" stroke="#8c8c8c" stroke-width="0.6" />
<rect x="325.45" y="231.94" width="5.70" height="83.66" fill="#3e7dba" />
<text x="328.20000000000005" y="324.5" font-size="4.6" text-anchor="middle" font-weight="bold" fill="#222" stroke="#222" stroke-width="0.2" stroke-width="0">3</text>
<line x1="335.62000000000006" y1="315.6" x2="335.62000000000006" y2="317.20000000000005" stroke="#8c8c8c" stroke-width="0.6" />
<rect x="340.30" y="220.32" width="5.70" height="95.28" fill="#3e7dba" />
<text x="343.05" y="324.5" font-size="4.6" text-anchor="middle" font-weight="bold" fill="#222" stroke="#222" stroke-width="0.2" stroke-width="0">5</text>
<line x1="350.47" y1="315.6" x2="350.47" y2="317.20000000000005" stroke="#8c8c8c" stroke-width="0.6" />
<rect x="355.15" y="249.86" width="5.70" height="65.74" fill="#3e7dba" />
<text x="357.90000000000003" y="324.5" font-size="4.6" text-anchor="middle" font-weight="bold" fill="#222" stroke="#222" stroke-width="0.2" stroke-width="0">10</text>
<line x1="365.32000000000005" y1="315.6" x2="365.32000000000005" y2="317.20000000000005" stroke="#8c8c8c" stroke-width="0.6" />
<rect x="370.00" y="286.05" width="5.70" height="29.55" fill="#3e7dba" />
<text x="372.75" y="324.5" font-size="4.6" text-anchor="middle" font-weight="bold" fill="#222" stroke="#222" stroke-width="0.2" stroke-width="0">14</text>
<line x1="380.17" y1="315.6" x2="380.17" y2="317.20000000000005" stroke="#8c8c8c" stroke-width="0.6" />
<rect x="384.85" y="236.25" width="5.70" height="79.35" fill="#3e7dba" />
<text x="387.6" y="324.5" font-size="4.6" text-anchor="middle" font-weight="bold" fill="#222" stroke="#222" stroke-width="0.2" stroke-width="0">8</text>
<line x1="395.02000000000004" y1="315.6" x2="395.02000000000004" y2="317.20000000000005" stroke="#8c8c8c" stroke-width="0.6" />
<rect x="399.70" y="306.64" width="5.70" height="8.96" fill="#3e7dba" />
<text x="402.45000000000005" y="324.5" font-size="4.6" text-anchor="middle" font-weight="bold" fill="#222" stroke="#222" stroke-width="0.2" stroke-width="0">U3047</text>
<line x1="409.87000000000006" y1="315.6" x2="409.87000000000006" y2="317.20000000000005" stroke="#8c8c8c" stroke-width="0.6" />
<rect x="414.55" y="309.62" width="5.70" height="5.98" fill="#3e7dba" />
<text x="417.3" y="324.5" font-size="4.6" text-anchor="middle" font-weight="bold" fill="#222" stroke="#222" stroke-width="0.2" stroke-width="0">U3082</text>
<line x1="424.72" y1="315.6" x2="424.72" y2="317.20000000000005" stroke="#8c8c8c" stroke-width="0.6" />
<rect x="429.40" y="300.66" width="5.70" height="14.94" fill="#3e7dba" />
<text x="432.15000000000003" y="324.5" font-size="4.6" text-anchor="middle" font-weight="bold" fill="#222" stroke="#222" stroke-width="0.2" stroke-width="0">U3117</text>
<line x1="439.57000000000005" y1="315.6" x2="439.57000000000005" y2="317.20000000000005" stroke="#8c8c8c" stroke-width="0.6" />
<rect x="444.25" y="312.94" width="5.70" height="2.66" fill="#3e7dba" />
<text x="447.0" y="324.5" font-size="4.6" text-anchor="middle" font-weight="bold" fill="#222" stroke="#222" stroke-width="0.2" stroke-width="0">217</text>
<line x1="454.42" y1="315.6" x2="454.42" y2="317.20000000000005" stroke="#8c8c8c" stroke-width="0.6" />
<rect x="459.10" y="313.28" width="5.70" height="2.32" fill="#3e7dba" />
<text x="461.85" y="324.5" font-size="4.6" text-anchor="middle" font-weight="bold" fill="#222" stroke="#222" stroke-width="0.2" stroke-width="0">232</text>
<line x1="469.27000000000004" y1="315.6" x2="469.27000000000004" y2="317.20000000000005" stroke="#8c8c8c" stroke-width="0.6" />
<rect x="473.95" y="314.60" width="5.70" height="1.00" fill="#3e7dba" />
<text x="476.70000000000005" y="324.5" font-size="4.6" text-anchor="middle" font-weight="bold" fill="#222" stroke="#222" stroke-width="0.2" stroke-width="0">233</text>
<line x1="484.12000000000006" y1="315.6" x2="484.12000000000006" y2="317.20000000000005" stroke="#8c8c8c" stroke-width="0.6" />
<rect x="488.80" y="312.61" width="5.70" height="2.99" fill="#3e7dba" />
<text x="491.55" y="324.5" font-size="4.6" text-anchor="middle" font-weight="bold" fill="#222" stroke="#222" stroke-width="0.2" stroke-width="0">23</text>
<line x1="498.97" y1="315.6" x2="498.97" y2="317.20000000000005" stroke="#8c8c8c" stroke-width="0.6" />
<rect x="503.65" y="308.96" width="5.70" height="6.64" fill="#3e7dba" />
<text x="506.4" y="324.5" font-size="4.6" text-anchor="middle" font-weight="bold" fill="#222" stroke="#222" stroke-width="0.2" stroke-width="0">JX6</text>
<line x1="513.8199999999999" y1="315.6" x2="513.8199999999999" y2="317.20000000000005" stroke="#8c8c8c" stroke-width="0.6" />
<line x1="310" y1="328.3" x2="388.8" y2="328.3" stroke="#222" stroke-width="1.0" />
<text x="350" y="335.6" font-size="5.3" text-anchor="middle" font-weight="normal" fill="#111" stroke="#111" stroke-width="0.2" >Normal brain</text>
<line x1="394" y1="328.5" x2="453" y2="328.5" stroke="#b5574a" stroke-width="0.9" />
<line x1="455.9" y1="328.5" x2="483" y2="328.5" stroke="#b5574a" stroke-width="0.9" />
<line x1="486.8" y1="328.5" x2="514" y2="328.5" stroke="#b5574a" stroke-width="0.9" />
<text x="428.6" y="335.4" font-size="5.3" text-anchor="middle" font-weight="normal" fill="#2a6cb0" stroke="#2a6cb0" stroke-width="0.2" >Proneural</text>
<text x="466" y="335.4" font-size="5.3" text-anchor="middle" font-weight="normal" fill="#b8442a" stroke="#b8442a" stroke-width="0.2" >Mes</text>
<text x="500" y="335.4" font-size="5.3" text-anchor="middle" font-weight="normal" fill="#a8883c" stroke="#a8883c" stroke-width="0.2" >Cl</text>
</g>
</svg></body></html>
